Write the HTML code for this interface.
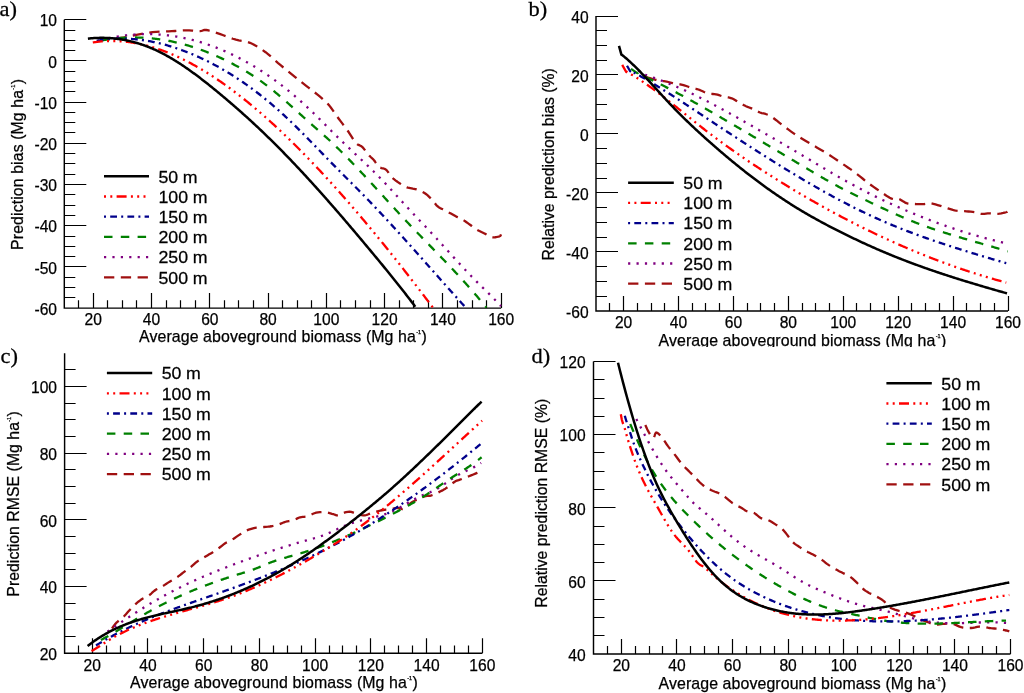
<!DOCTYPE html>
<html><head><meta charset="utf-8"><style>html,body{margin:0;padding:0;background:#fff;overflow:hidden}svg{display:block;will-change:transform}text{stroke:#000;stroke-width:0.25px}</style></head>
<body><svg width="1024" height="693" viewBox="0 0 1024 693" font-family='"Liberation Sans", sans-serif' fill="#000">
<rect width="1024" height="693" fill="#fff"/>
<path d="M64.3 19.7 V308.1 H501.20000000000005" fill="none" stroke="#000" stroke-width="1.45"/>
<path d="M64.3 297.50 h11 M64.3 287.50 h11 M64.3 277.50 h11 M64.3 266.50 h22 M64.3 256.50 h11 M64.3 246.50 h11 M64.3 236.50 h11 M64.3 225.50 h22 M64.3 215.50 h11 M64.3 205.50 h11 M64.3 194.50 h11 M64.3 184.50 h22 M64.3 174.50 h11 M64.3 163.50 h11 M64.3 153.50 h11 M64.3 143.50 h22 M64.3 132.50 h11 M64.3 122.50 h11 M64.3 112.50 h11 M64.3 102.50 h22 M64.3 91.50 h11 M64.3 81.50 h11 M64.3 71.50 h11 M64.3 60.50 h22 M64.3 50.50 h11 M64.3 40.50 h11 M64.3 30.50 h11 M64.3 19.50 h22 M78.50 308.1 v-7.8 M93.50 308.1 v-15 M107.50 308.1 v-7.8 M122.50 308.1 v-7.8 M136.50 308.1 v-7.8 M151.50 308.1 v-15 M166.50 308.1 v-7.8 M180.50 308.1 v-7.8 M195.50 308.1 v-7.8 M209.50 308.1 v-15 M224.50 308.1 v-7.8 M238.50 308.1 v-7.8 M253.50 308.1 v-7.8 M268.50 308.1 v-15 M282.50 308.1 v-7.8 M297.50 308.1 v-7.8 M311.50 308.1 v-7.8 M326.50 308.1 v-15 M340.50 308.1 v-7.8 M355.50 308.1 v-7.8 M370.50 308.1 v-7.8 M384.50 308.1 v-15 M399.50 308.1 v-7.8 M413.50 308.1 v-7.8 M428.50 308.1 v-7.8 M442.50 308.1 v-15 M457.50 308.1 v-7.8 M472.50 308.1 v-7.8 M486.50 308.1 v-7.8 M501.50 308.1 v-15" stroke="#000" stroke-width="1.2" fill="none"/>
<text transform="translate(57 26.48) scale(1.0 1)" text-anchor="end" font-size="15.6">10</text>
<text transform="translate(57 67.68) scale(1.0 1)" text-anchor="end" font-size="15.6">0</text>
<text transform="translate(57 108.88) scale(1.0 1)" text-anchor="end" font-size="15.6">-10</text>
<text transform="translate(57 150.08) scale(1.0 1)" text-anchor="end" font-size="15.6">-20</text>
<text transform="translate(57 191.28) scale(1.0 1)" text-anchor="end" font-size="15.6">-30</text>
<text transform="translate(57 232.48) scale(1.0 1)" text-anchor="end" font-size="15.6">-40</text>
<text transform="translate(57 273.68) scale(1.0 1)" text-anchor="end" font-size="15.6">-50</text>
<text transform="translate(57 314.88) scale(1.0 1)" text-anchor="end" font-size="15.6">-60</text>
<text transform="translate(93.24 325.38) scale(1.0 1)" text-anchor="middle" font-size="15.6">20</text>
<text transform="translate(151.52 325.38) scale(1.0 1)" text-anchor="middle" font-size="15.6">40</text>
<text transform="translate(209.80 325.38) scale(1.0 1)" text-anchor="middle" font-size="15.6">60</text>
<text transform="translate(268.08 325.38) scale(1.0 1)" text-anchor="middle" font-size="15.6">80</text>
<text transform="translate(326.36 325.38) scale(1.0 1)" text-anchor="middle" font-size="15.6">100</text>
<text transform="translate(384.64 325.38) scale(1.0 1)" text-anchor="middle" font-size="15.6">120</text>
<text transform="translate(442.92 325.38) scale(1.0 1)" text-anchor="middle" font-size="15.6">140</text>
<text transform="translate(501.20 325.38) scale(1.0 1)" text-anchor="middle" font-size="15.6">160</text>
<text transform="translate(139 342.3) scale(1.0 1)" font-size="15.9" letter-spacing="0.1">Average aboveground biomass (Mg ha<tspan font-size="5.5" dy="-8.2" dx="0.2">-1</tspan><tspan dy="8.2" dx="0.3">)</tspan></text>
<text transform="translate(23.1 249.89999999999998) rotate(-90)" font-size="15.8" letter-spacing="0.13">Prediction bias (Mg ha<tspan font-size="5.5" dy="-8.2" dx="0.2">-1</tspan><tspan dy="8.2" dx="0.3">)</tspan></text>
<path d="M104 176.30 H149" stroke="#000000" stroke-width="2.5"/>
<text transform="translate(158.5 182.53) scale(1.02 1)" font-size="17.4" word-spacing="-0.3">50 m</text>
<path d="M104 196.50 H149" stroke="#ff0000" stroke-width="2.3" stroke-dasharray="10 4.3 2 4.3 2 4.3 2 4.3" stroke-dashoffset="20.6"/>
<text transform="translate(158.5 202.73) scale(1.02 1)" font-size="17.4" word-spacing="-0.3">100 m</text>
<path d="M104 216.70 H149" stroke="#00008b" stroke-width="2.3" stroke-dasharray="6.8 4.2 2 4.2" stroke-dashoffset="11"/>
<text transform="translate(158.5 222.93) scale(1.02 1)" font-size="17.4" word-spacing="-0.3">150 m</text>
<path d="M104 236.90 H149" stroke="#008000" stroke-width="2.3" stroke-dasharray="8.5 8.3" stroke-dashoffset="0"/>
<text transform="translate(158.5 243.13) scale(1.02 1)" font-size="17.4" word-spacing="-0.3">200 m</text>
<path d="M104 257.10 H149" stroke="#800080" stroke-width="2.3" stroke-dasharray="2.2 6.2" stroke-dashoffset="0"/>
<text transform="translate(158.5 263.33) scale(1.02 1)" font-size="17.4" word-spacing="-0.3">250 m</text>
<path d="M104 277.30 H149" stroke="#a01010" stroke-width="2.3" stroke-dasharray="10.3 6.5" stroke-dashoffset="0"/>
<text transform="translate(158.5 283.53) scale(1.02 1)" font-size="17.4" word-spacing="-0.3">500 m</text>
<path d="M116.20 38.10 L117.50 37.99 L119.32 37.84 L121.47 37.66 L123.76 37.41 L126.00 37.10 L128.17 36.69 L130.40 36.20 L132.71 35.66 L135.14 35.12 L137.70 34.60 L140.37 34.09 L143.13 33.57 L146.03 33.05 L149.10 32.59 L152.40 32.20 L156.08 31.91 L160.10 31.69 L164.24 31.53 L168.25 31.37 L171.90 31.20 L175.11 30.99 L178.04 30.75 L180.80 30.53 L183.50 30.37 L186.25 30.30 L189.16 30.38 L192.15 30.59 L195.07 30.84 L197.74 31.03 L200.00 31.10 L201.61 30.92 L202.67 30.54 L203.55 30.15 L204.62 29.91 L206.25 30.00 L208.54 30.48 L211.23 31.24 L214.19 32.17 L217.27 33.19 L220.30 34.20 L223.34 35.26 L226.50 36.42 L229.69 37.61 L232.85 38.73 L235.90 39.70 L238.79 40.37 L241.58 40.81 L244.32 41.22 L247.11 41.82 L250.00 42.80 L253.07 44.25 L256.28 46.03 L259.51 48.03 L262.65 50.12 L265.60 52.20 L268.30 54.30 L270.82 56.49 L273.25 58.72 L275.65 60.94 L278.10 63.10 L280.60 65.19 L283.10 67.24 L285.60 69.26 L288.10 71.28 L290.60 73.30 L293.07 75.31 L295.52 77.30 L297.98 79.30 L300.50 81.32 L303.10 83.40 L305.90 85.59 L308.87 87.88 L311.85 90.18 L314.68 92.38 L317.20 94.40 L319.40 96.22 L321.39 97.90 L323.18 99.46 L324.80 100.92 L326.25 102.30 L327.43 103.47 L328.32 104.41 L329.09 105.32 L329.93 106.39 L331.00 107.80 L332.33 109.62 L333.81 111.71 L335.39 114.00 L337.05 116.37 L338.75 118.75 L340.54 121.16 L342.45 123.67 L344.39 126.23 L346.30 128.77 L348.10 131.25 L349.78 133.77 L351.40 136.38 L352.96 138.90 L354.46 141.16 L355.90 143.00 L357.26 144.22 L358.53 144.94 L359.76 145.44 L360.97 146.00 L362.20 146.90 L363.46 148.25 L364.72 149.85 L365.97 151.56 L367.20 153.22 L368.40 154.70 L369.57 155.93 L370.72 157.01 L371.85 158.02 L372.94 159.06 L374.00 160.20 L374.97 161.53 L375.85 162.99 L376.73 164.46 L377.67 165.80 L378.75 166.90 L380.04 167.61 L381.48 168.02 L382.98 168.33 L384.46 168.76 L385.80 169.50 L386.99 170.67 L388.10 172.13 L389.15 173.72 L390.19 175.26 L391.25 176.60 L392.29 177.67 L393.28 178.60 L394.29 179.45 L395.41 180.31 L396.70 181.25 L398.26 182.35 L400.02 183.56 L401.87 184.76 L403.68 185.84 L405.30 186.70 L406.71 187.27 L407.99 187.62 L409.20 187.85 L410.38 188.05 L411.60 188.30 L412.82 188.57 L414.01 188.79 L415.21 189.03 L416.46 189.34 L417.80 189.80 L419.27 190.39 L420.83 191.06 L422.44 191.84 L424.05 192.74 L425.60 193.75 L427.14 194.95 L428.69 196.34 L430.20 197.80 L431.62 199.26 L432.90 200.60 L433.96 201.85 L434.84 203.06 L435.65 204.22 L436.50 205.31 L437.50 206.30 L438.71 207.18 L440.04 207.96 L441.44 208.67 L442.81 209.34 L444.10 210.00 L445.27 210.62 L446.36 211.18 L447.44 211.72 L448.53 212.28 L449.70 212.90 L450.94 213.59 L452.22 214.32 L453.55 215.07 L454.91 215.84 L456.30 216.60 L457.76 217.34 L459.28 218.07 L460.82 218.82 L462.34 219.59 L463.80 220.40 L465.18 221.27 L466.50 222.18 L467.80 223.11 L469.09 224.06 L470.40 225.00 L471.71 225.96 L473.00 226.94 L474.30 227.91 L475.62 228.86 L477.00 229.75 L478.44 230.56 L479.94 231.32 L481.46 232.05 L482.99 232.77 L484.50 233.50 L486.00 234.33 L487.50 235.23 L489.00 236.09 L490.50 236.80 L492.00 237.25 L493.60 237.38 L495.29 237.25 L496.93 236.97 L498.38 236.63 L499.50 236.30 L500.21 235.95 L500.60 235.52 L500.80 235.07 L500.89 234.67 L501.00 234.40" fill="none" stroke="#a01010" stroke-width="2.3" stroke-dasharray="10.3 6.5" stroke-linejoin="round"/>
<path d="M108.40 38.29 L109.40 38.08 L110.40 37.87 L111.40 37.67 L112.40 37.47 L113.40 37.28 L114.40 37.09 L115.40 36.92 L116.40 36.74 L117.40 36.57 L118.40 36.41 L119.40 36.25 L120.40 36.10 L121.40 35.96 L122.40 35.82 L123.40 35.68 L124.40 35.55 L125.40 35.43 L126.40 35.31 L127.40 35.20 L128.40 35.09 L129.40 34.99 L130.40 34.90 L131.40 34.81 L132.40 34.72 L133.40 34.65 L134.40 34.57 L135.40 34.51 L136.40 34.44 L137.40 34.39 L138.40 34.34 L139.40 34.29 L140.40 34.25 L141.40 34.22 L142.40 34.19 L143.40 34.17 L144.40 34.15 L145.40 34.14 L146.40 34.14 L147.40 34.14 L148.40 34.14 L149.40 34.15 L150.40 34.17 L151.40 34.19 L152.40 34.22 L153.40 34.25 L154.40 34.29 L155.40 34.34 L156.40 34.39 L157.40 34.44 L158.40 34.51 L159.40 34.57 L160.40 34.65 L161.40 34.72 L162.40 34.81 L163.40 34.90 L164.40 34.99 L165.40 35.09 L166.40 35.20 L167.40 35.31 L168.40 35.43 L169.40 35.55 L170.40 35.68 L171.40 35.82 L172.40 35.96 L173.40 36.10 L174.40 36.25 L175.40 36.41 L176.40 36.57 L177.40 36.74 L178.40 36.92 L179.40 37.10 L180.40 37.28 L181.40 37.47 L182.40 37.67 L183.40 37.87 L184.40 38.08 L185.40 38.29 L186.40 38.51 L187.40 38.73 L188.40 38.96 L189.40 39.20 L190.40 39.44 L191.40 39.69 L192.40 39.94 L193.40 40.20 L194.40 40.46 L195.40 40.73 L196.40 41.01 L197.40 41.29 L198.40 41.57 L199.40 41.86 L200.40 42.16 L201.40 42.47 L202.40 42.77 L203.40 43.09 L204.40 43.41 L205.40 43.73 L206.40 44.06 L207.40 44.40 L208.40 44.74 L209.40 45.09 L210.40 45.44 L211.40 45.80 L212.40 46.17 L213.40 46.54 L214.40 46.92 L215.40 47.30 L216.40 47.68 L217.40 48.08 L218.40 48.48 L219.40 48.88 L220.40 49.29 L221.40 49.71 L222.40 50.13 L223.40 50.55 L224.40 50.99 L225.40 51.42 L226.40 51.87 L227.40 52.32 L228.40 52.77 L229.40 53.23 L230.40 53.70 L231.40 54.17 L232.40 54.65 L233.40 55.13 L234.40 55.62 L235.40 56.11 L236.40 56.61 L237.40 57.12 L238.40 57.63 L239.40 58.14 L240.40 58.67 L241.40 59.20 L242.40 59.73 L243.40 60.27 L244.40 60.82 L245.40 61.37 L246.40 61.92 L247.40 62.49 L248.40 63.06 L249.40 63.63 L250.40 64.21 L251.40 64.80 L252.40 65.39 L253.40 65.99 L254.40 66.59 L255.40 67.20 L256.40 67.82 L257.40 68.44 L258.40 69.07 L259.40 69.70 L260.40 70.34 L261.40 70.99 L262.40 71.64 L263.40 72.29 L264.40 72.96 L265.40 73.63 L266.40 74.30 L267.40 74.98 L268.40 75.67 L269.40 76.37 L270.40 77.07 L271.40 77.77 L272.40 78.48 L273.40 79.20 L274.40 79.92 L275.40 80.65 L276.40 81.39 L277.40 82.13 L278.40 82.88 L279.40 83.64 L280.40 84.40 L281.40 85.17 L282.40 85.94 L283.40 86.72 L284.40 87.50 L285.40 88.30 L286.40 89.10 L287.40 89.90 L288.40 90.71 L289.40 91.53 L290.40 92.35 L291.40 93.18 L292.40 94.02 L293.40 94.86 L294.40 95.71 L295.40 96.56 L296.40 97.42 L297.40 98.29 L298.40 99.16 L299.40 100.04 L300.40 100.93 L301.40 101.82 L302.40 102.72 L303.40 103.62 L304.40 104.53 L305.40 105.45 L306.40 106.37 L307.40 107.30 L308.40 108.24 L309.40 109.18 L310.40 110.12 L311.40 111.08 L312.40 112.04 L313.40 113.00 L314.40 113.97 L315.40 114.95 L316.40 115.93 L317.40 116.92 L318.40 117.91 L319.40 118.91 L320.40 119.90 L321.40 120.91 L322.40 121.91 L323.40 122.92 L324.40 123.92 L325.40 124.93 L326.40 125.94 L327.40 126.95 L328.40 127.96 L329.40 128.96 L330.40 129.97 L331.40 130.97 L332.40 131.97 L333.40 132.97 L334.40 133.97 L335.40 134.96 L336.40 135.95 L337.40 136.93 L338.40 137.91 L339.40 138.88 L340.40 139.85 L341.40 140.81 L342.40 141.78 L343.40 142.73 L344.40 143.69 L345.40 144.64 L346.40 145.59 L347.40 146.54 L348.40 147.49 L349.40 148.43 L350.40 149.38 L351.40 150.32 L352.40 151.26 L353.40 152.20 L354.40 153.14 L355.40 154.08 L356.40 155.02 L357.40 155.96 L358.40 156.90 L359.40 157.84 L360.40 158.79 L361.40 159.73 L362.40 160.68 L363.40 161.62 L364.40 162.57 L365.40 163.53 L366.40 164.48 L367.40 165.44 L368.40 166.40 L369.40 167.37 L370.40 168.33 L371.40 169.31 L372.40 170.28 L373.40 171.26 L374.40 172.25 L375.40 173.24 L376.40 174.24 L377.40 175.24 L378.40 176.25 L379.40 177.26 L380.40 178.28 L381.40 179.30 L382.40 180.34 L383.40 181.38 L384.40 182.43 L385.40 183.48 L386.40 184.54 L387.40 185.61 L388.40 186.68 L389.40 187.76 L390.40 188.85 L391.40 189.93 L392.40 191.03 L393.40 192.12 L394.40 193.22 L395.40 194.32 L396.40 195.42 L397.40 196.52 L398.40 197.63 L399.40 198.73 L400.40 199.83 L401.40 200.93 L402.40 202.03 L403.40 203.13 L404.40 204.23 L405.40 205.32 L406.40 206.41 L407.40 207.49 L408.40 208.57 L409.40 209.65 L410.40 210.72 L411.40 211.79 L412.40 212.85 L413.40 213.91 L414.40 214.97 L415.40 216.03 L416.40 217.08 L417.40 218.13 L418.40 219.19 L419.40 220.24 L420.40 221.29 L421.40 222.34 L422.40 223.39 L423.40 224.44 L424.40 225.49 L425.40 226.55 L426.40 227.60 L427.40 228.66 L428.40 229.72 L429.40 230.79 L430.40 231.85 L431.40 232.92 L432.40 234.00 L433.40 235.08 L434.40 236.16 L435.40 237.24 L436.40 238.33 L437.40 239.42 L438.40 240.51 L439.40 241.60 L440.40 242.70 L441.40 243.80 L442.40 244.90 L443.40 246.00 L444.40 247.10 L445.40 248.20 L446.40 249.30 L447.40 250.41 L448.40 251.51 L449.40 252.61 L450.40 253.71 L451.40 254.81 L452.40 255.91 L453.40 257.01 L454.40 258.11 L455.40 259.21 L456.40 260.30 L457.40 261.39 L458.40 262.48 L459.40 263.57 L460.40 264.65 L461.40 265.73 L462.40 266.81 L463.40 267.88 L464.40 268.95 L465.40 270.02 L466.40 271.08 L467.40 272.14 L468.40 273.19 L469.40 274.23 L470.40 275.28 L471.40 276.31 L472.40 277.34 L473.40 278.37 L474.40 279.38 L475.40 280.40 L476.40 281.40 L477.40 282.40 L478.40 283.39 L479.40 284.38 L480.40 285.36 L481.40 286.35 L482.40 287.32 L483.40 288.30 L484.40 289.28 L485.40 290.25 L486.40 291.23 L487.40 292.21 L488.40 293.19 L489.40 294.18 L490.40 295.17 L491.40 296.16 L492.40 297.16 L493.40 298.17 L494.40 299.19 L495.40 300.21 L496.40 301.24 L497.40 302.29 L498.40 303.34 L499.40 304.41 L500.40 305.49 L501.00 306.14" fill="none" stroke="#800080" stroke-width="2.3" stroke-dasharray="2.2 6.2" stroke-linejoin="round"/>
<path d="M101.60 40.53 L102.60 40.34 L103.60 40.16 L104.60 39.99 L105.60 39.82 L106.60 39.66 L107.60 39.51 L108.60 39.36 L109.60 39.21 L110.60 39.08 L111.60 38.94 L112.60 38.82 L113.60 38.70 L114.60 38.58 L115.60 38.47 L116.60 38.37 L117.60 38.27 L118.60 38.18 L119.60 38.10 L120.60 38.02 L121.60 37.94 L122.60 37.88 L123.60 37.81 L124.60 37.76 L125.60 37.70 L126.60 37.66 L127.60 37.62 L128.60 37.58 L129.60 37.56 L130.60 37.53 L131.60 37.52 L132.60 37.50 L133.60 37.50 L134.60 37.50 L135.60 37.50 L136.60 37.52 L137.60 37.53 L138.60 37.55 L139.60 37.58 L140.60 37.62 L141.60 37.66 L142.60 37.70 L143.60 37.75 L144.60 37.81 L145.60 37.87 L146.60 37.94 L147.60 38.01 L148.60 38.09 L149.60 38.17 L150.60 38.26 L151.60 38.35 L152.60 38.45 L153.60 38.56 L154.60 38.67 L155.60 38.79 L156.60 38.91 L157.60 39.04 L158.60 39.17 L159.60 39.31 L160.60 39.46 L161.60 39.61 L162.60 39.76 L163.60 39.92 L164.60 40.09 L165.60 40.26 L166.60 40.44 L167.60 40.62 L168.60 40.81 L169.60 41.00 L170.60 41.20 L171.60 41.41 L172.60 41.62 L173.60 41.83 L174.60 42.05 L175.60 42.28 L176.60 42.51 L177.60 42.75 L178.60 42.99 L179.60 43.24 L180.60 43.49 L181.60 43.75 L182.60 44.01 L183.60 44.28 L184.60 44.55 L185.60 44.83 L186.60 45.12 L187.60 45.41 L188.60 45.70 L189.60 46.00 L190.60 46.31 L191.60 46.62 L192.60 46.94 L193.60 47.26 L194.60 47.59 L195.60 47.92 L196.60 48.26 L197.60 48.60 L198.60 48.95 L199.60 49.30 L200.60 49.66 L201.60 50.02 L202.60 50.39 L203.60 50.76 L204.60 51.14 L205.60 51.53 L206.60 51.92 L207.60 52.31 L208.60 52.71 L209.60 53.12 L210.60 53.53 L211.60 53.94 L212.60 54.36 L213.60 54.79 L214.60 55.22 L215.60 55.65 L216.60 56.10 L217.60 56.54 L218.60 56.99 L219.60 57.45 L220.60 57.91 L221.60 58.38 L222.60 58.85 L223.60 59.32 L224.60 59.81 L225.60 60.29 L226.60 60.78 L227.60 61.28 L228.60 61.78 L229.60 62.29 L230.60 62.80 L231.60 63.32 L232.60 63.84 L233.60 64.37 L234.60 64.90 L235.60 65.44 L236.60 65.98 L237.60 66.52 L238.60 67.08 L239.60 67.64 L240.60 68.20 L241.60 68.77 L242.60 69.35 L243.60 69.93 L244.60 70.52 L245.60 71.11 L246.60 71.71 L247.60 72.32 L248.60 72.94 L249.60 73.56 L250.60 74.19 L251.60 74.83 L252.60 75.47 L253.60 76.12 L254.60 76.78 L255.60 77.45 L256.60 78.12 L257.60 78.81 L258.60 79.50 L259.60 80.20 L260.60 80.91 L261.60 81.63 L262.60 82.36 L263.60 83.09 L264.60 83.84 L265.60 84.59 L266.60 85.35 L267.60 86.12 L268.60 86.90 L269.60 87.69 L270.60 88.48 L271.60 89.28 L272.60 90.09 L273.60 90.90 L274.60 91.72 L275.60 92.55 L276.60 93.38 L277.60 94.22 L278.60 95.06 L279.60 95.91 L280.60 96.76 L281.60 97.62 L282.60 98.49 L283.60 99.35 L284.60 100.23 L285.60 101.10 L286.60 101.98 L287.60 102.86 L288.60 103.75 L289.60 104.64 L290.60 105.53 L291.60 106.42 L292.60 107.32 L293.60 108.22 L294.60 109.12 L295.60 110.02 L296.60 110.92 L297.60 111.82 L298.60 112.73 L299.60 113.63 L300.60 114.53 L301.60 115.44 L302.60 116.34 L303.60 117.25 L304.60 118.15 L305.60 119.05 L306.60 119.95 L307.60 120.85 L308.60 121.75 L309.60 122.64 L310.60 123.54 L311.60 124.43 L312.60 125.32 L313.60 126.20 L314.60 127.08 L315.60 127.96 L316.60 128.84 L317.60 129.72 L318.60 130.59 L319.60 131.47 L320.60 132.35 L321.60 133.23 L322.60 134.11 L323.60 135.00 L324.60 135.89 L325.60 136.79 L326.60 137.69 L327.60 138.60 L328.60 139.52 L329.60 140.44 L330.60 141.37 L331.60 142.31 L332.60 143.25 L333.60 144.20 L334.60 145.15 L335.60 146.11 L336.60 147.08 L337.60 148.05 L338.60 149.02 L339.60 150.01 L340.60 150.99 L341.60 151.98 L342.60 152.98 L343.60 153.98 L344.60 154.99 L345.60 156.00 L346.60 157.01 L347.60 158.03 L348.60 159.05 L349.60 160.08 L350.60 161.11 L351.60 162.15 L352.60 163.19 L353.60 164.23 L354.60 165.28 L355.60 166.32 L356.60 167.38 L357.60 168.43 L358.60 169.49 L359.60 170.55 L360.60 171.62 L361.60 172.68 L362.60 173.75 L363.60 174.82 L364.60 175.90 L365.60 176.97 L366.60 178.05 L367.60 179.13 L368.60 180.21 L369.60 181.30 L370.60 182.38 L371.60 183.47 L372.60 184.56 L373.60 185.65 L374.60 186.74 L375.60 187.83 L376.60 188.92 L377.60 190.01 L378.60 191.10 L379.60 192.20 L380.60 193.29 L381.60 194.39 L382.60 195.48 L383.60 196.58 L384.60 197.67 L385.60 198.76 L386.60 199.86 L387.60 200.95 L388.60 202.04 L389.60 203.13 L390.60 204.22 L391.60 205.31 L392.60 206.40 L393.60 207.49 L394.60 208.58 L395.60 209.66 L396.60 210.75 L397.60 211.83 L398.60 212.91 L399.60 213.98 L400.60 215.06 L401.60 216.13 L402.60 217.21 L403.60 218.27 L404.60 219.34 L405.60 220.40 L406.60 221.47 L407.60 222.52 L408.60 223.58 L409.60 224.63 L410.60 225.68 L411.60 226.73 L412.60 227.78 L413.60 228.82 L414.60 229.86 L415.60 230.90 L416.60 231.94 L417.60 232.97 L418.60 234.01 L419.60 235.04 L420.60 236.07 L421.60 237.11 L422.60 238.14 L423.60 239.17 L424.60 240.19 L425.60 241.22 L426.60 242.25 L427.60 243.28 L428.60 244.30 L429.60 245.33 L430.60 246.36 L431.60 247.39 L432.60 248.41 L433.60 249.44 L434.60 250.47 L435.60 251.50 L436.60 252.53 L437.60 253.56 L438.60 254.59 L439.60 255.62 L440.60 256.66 L441.60 257.69 L442.60 258.73 L443.60 259.77 L444.60 260.81 L445.60 261.85 L446.60 262.90 L447.60 263.95 L448.60 265.00 L449.60 266.05 L450.60 267.10 L451.60 268.16 L452.60 269.22 L453.60 270.28 L454.60 271.35 L455.60 272.42 L456.60 273.49 L457.60 274.57 L458.60 275.65 L459.60 276.73 L460.60 277.82 L461.60 278.91 L462.60 280.01 L463.60 281.11 L464.60 282.21 L465.60 283.32 L466.60 284.43 L467.60 285.55 L468.60 286.67 L469.60 287.80 L470.60 288.94 L471.60 290.07 L472.60 291.22 L473.60 292.37 L474.60 293.52 L475.60 294.68 L476.60 295.85 L477.60 297.02 L478.60 298.20 L479.60 299.39 L480.60 300.58 L481.60 301.78 L482.60 302.98 L483.60 304.19 L484.60 305.41 L485.60 306.64 L486.40 307.62" fill="none" stroke="#008000" stroke-width="2.3" stroke-dasharray="8.5 8.3" stroke-linejoin="round"/>
<path d="M96.70 40.82 L97.70 40.64 L98.70 40.47 L99.70 40.31 L100.70 40.16 L101.70 40.01 L102.70 39.87 L103.70 39.74 L104.70 39.62 L105.70 39.50 L106.70 39.39 L107.70 39.29 L108.70 39.19 L109.70 39.10 L110.70 39.02 L111.70 38.95 L112.70 38.88 L113.70 38.83 L114.70 38.77 L115.70 38.73 L116.70 38.69 L117.70 38.66 L118.70 38.64 L119.70 38.62 L120.70 38.61 L121.70 38.61 L122.70 38.61 L123.70 38.63 L124.70 38.64 L125.70 38.67 L126.70 38.70 L127.70 38.74 L128.70 38.78 L129.70 38.84 L130.70 38.90 L131.70 38.96 L132.70 39.03 L133.70 39.11 L134.70 39.20 L135.70 39.29 L136.70 39.39 L137.70 39.49 L138.70 39.60 L139.70 39.72 L140.70 39.84 L141.70 39.97 L142.70 40.11 L143.70 40.25 L144.70 40.40 L145.70 40.56 L146.70 40.72 L147.70 40.89 L148.70 41.06 L149.70 41.24 L150.70 41.43 L151.70 41.62 L152.70 41.82 L153.70 42.03 L154.70 42.24 L155.70 42.45 L156.70 42.68 L157.70 42.91 L158.70 43.14 L159.70 43.38 L160.70 43.63 L161.70 43.88 L162.70 44.14 L163.70 44.40 L164.70 44.67 L165.70 44.95 L166.70 45.23 L167.70 45.51 L168.70 45.80 L169.70 46.10 L170.70 46.40 L171.70 46.71 L172.70 47.03 L173.70 47.35 L174.70 47.67 L175.70 48.00 L176.70 48.34 L177.70 48.68 L178.70 49.03 L179.70 49.38 L180.70 49.74 L181.70 50.10 L182.70 50.47 L183.70 50.84 L184.70 51.22 L185.70 51.60 L186.70 51.99 L187.70 52.38 L188.70 52.78 L189.70 53.18 L190.70 53.59 L191.70 54.00 L192.70 54.42 L193.70 54.85 L194.70 55.28 L195.70 55.71 L196.70 56.15 L197.70 56.59 L198.70 57.04 L199.70 57.50 L200.70 57.96 L201.70 58.42 L202.70 58.89 L203.70 59.37 L204.70 59.85 L205.70 60.33 L206.70 60.83 L207.70 61.32 L208.70 61.82 L209.70 62.33 L210.70 62.84 L211.70 63.36 L212.70 63.88 L213.70 64.41 L214.70 64.94 L215.70 65.48 L216.70 66.02 L217.70 66.57 L218.70 67.13 L219.70 67.69 L220.70 68.25 L221.70 68.82 L222.70 69.40 L223.70 69.98 L224.70 70.57 L225.70 71.16 L226.70 71.75 L227.70 72.36 L228.70 72.96 L229.70 73.58 L230.70 74.20 L231.70 74.82 L232.70 75.45 L233.70 76.08 L234.70 76.73 L235.70 77.37 L236.70 78.02 L237.70 78.68 L238.70 79.34 L239.70 80.01 L240.70 80.68 L241.70 81.36 L242.70 82.05 L243.70 82.74 L244.70 83.43 L245.70 84.13 L246.70 84.84 L247.70 85.55 L248.70 86.27 L249.70 86.99 L250.70 87.72 L251.70 88.45 L252.70 89.19 L253.70 89.94 L254.70 90.69 L255.70 91.45 L256.70 92.21 L257.70 92.98 L258.70 93.75 L259.70 94.53 L260.70 95.32 L261.70 96.11 L262.70 96.90 L263.70 97.71 L264.70 98.51 L265.70 99.33 L266.70 100.15 L267.70 100.97 L268.70 101.80 L269.70 102.64 L270.70 103.48 L271.70 104.33 L272.70 105.18 L273.70 106.04 L274.70 106.91 L275.70 107.78 L276.70 108.66 L277.70 109.54 L278.70 110.43 L279.70 111.32 L280.70 112.22 L281.70 113.13 L282.70 114.04 L283.70 114.96 L284.70 115.88 L285.70 116.81 L286.70 117.74 L287.70 118.68 L288.70 119.63 L289.70 120.58 L290.70 121.54 L291.70 122.50 L292.70 123.47 L293.70 124.44 L294.70 125.42 L295.70 126.40 L296.70 127.38 L297.70 128.37 L298.70 129.36 L299.70 130.36 L300.70 131.36 L301.70 132.36 L302.70 133.36 L303.70 134.37 L304.70 135.38 L305.70 136.40 L306.70 137.41 L307.70 138.43 L308.70 139.45 L309.70 140.48 L310.70 141.50 L311.70 142.53 L312.70 143.55 L313.70 144.58 L314.70 145.61 L315.70 146.64 L316.70 147.67 L317.70 148.71 L318.70 149.74 L319.70 150.77 L320.70 151.80 L321.70 152.83 L322.70 153.87 L323.70 154.90 L324.70 155.93 L325.70 156.96 L326.70 157.99 L327.70 159.01 L328.70 160.04 L329.70 161.07 L330.70 162.09 L331.70 163.11 L332.70 164.13 L333.70 165.15 L334.70 166.16 L335.70 167.17 L336.70 168.19 L337.70 169.20 L338.70 170.20 L339.70 171.21 L340.70 172.22 L341.70 173.22 L342.70 174.23 L343.70 175.23 L344.70 176.23 L345.70 177.24 L346.70 178.24 L347.70 179.24 L348.70 180.24 L349.70 181.25 L350.70 182.25 L351.70 183.25 L352.70 184.26 L353.70 185.26 L354.70 186.27 L355.70 187.28 L356.70 188.28 L357.70 189.29 L358.70 190.31 L359.70 191.32 L360.70 192.33 L361.70 193.35 L362.70 194.37 L363.70 195.39 L364.70 196.41 L365.70 197.44 L366.70 198.47 L367.70 199.50 L368.70 200.53 L369.70 201.57 L370.70 202.61 L371.70 203.65 L372.70 204.70 L373.70 205.75 L374.70 206.80 L375.70 207.85 L376.70 208.91 L377.70 209.96 L378.70 211.02 L379.70 212.09 L380.70 213.15 L381.70 214.22 L382.70 215.29 L383.70 216.36 L384.70 217.44 L385.70 218.51 L386.70 219.59 L387.70 220.67 L388.70 221.75 L389.70 222.84 L390.70 223.92 L391.70 225.01 L392.70 226.10 L393.70 227.19 L394.70 228.28 L395.70 229.38 L396.70 230.47 L397.70 231.57 L398.70 232.67 L399.70 233.77 L400.70 234.88 L401.70 235.98 L402.70 237.09 L403.70 238.19 L404.70 239.30 L405.70 240.41 L406.70 241.52 L407.70 242.63 L408.70 243.74 L409.70 244.86 L410.70 245.97 L411.70 247.09 L412.70 248.20 L413.70 249.32 L414.70 250.44 L415.70 251.56 L416.70 252.68 L417.70 253.80 L418.70 254.92 L419.70 256.04 L420.70 257.17 L421.70 258.29 L422.70 259.41 L423.70 260.54 L424.70 261.66 L425.70 262.79 L426.70 263.91 L427.70 265.04 L428.70 266.16 L429.70 267.29 L430.70 268.42 L431.70 269.54 L432.70 270.67 L433.70 271.79 L434.70 272.92 L435.70 274.05 L436.70 275.17 L437.70 276.30 L438.70 277.43 L439.70 278.55 L440.70 279.68 L441.70 280.80 L442.70 281.93 L443.70 283.05 L444.70 284.17 L445.70 285.30 L446.70 286.42 L447.70 287.54 L448.70 288.66 L449.70 289.79 L450.70 290.91 L451.70 292.03 L452.70 293.14 L453.70 294.26 L454.70 295.38 L455.70 296.50 L456.70 297.61 L457.70 298.72 L458.70 299.84 L459.70 300.95 L460.70 302.06 L461.70 303.17 L462.70 304.28 L463.70 305.39 L464.70 306.49 L464.80 306.60" fill="none" stroke="#00008b" stroke-width="2.3" stroke-dasharray="6.8 4.2 2 4.2" stroke-linejoin="round"/>
<path d="M92.80 42.45 L93.80 42.30 L94.80 42.15 L95.80 42.02 L96.80 41.89 L97.80 41.77 L98.80 41.66 L99.80 41.56 L100.80 41.47 L101.80 41.38 L102.80 41.30 L103.80 41.23 L104.80 41.17 L105.80 41.12 L106.80 41.08 L107.80 41.04 L108.80 41.01 L109.80 40.99 L110.80 40.98 L111.80 40.98 L112.80 40.98 L113.80 40.99 L114.80 41.01 L115.80 41.04 L116.80 41.07 L117.80 41.12 L118.80 41.17 L119.80 41.23 L120.80 41.29 L121.80 41.37 L122.80 41.45 L123.80 41.54 L124.80 41.64 L125.80 41.74 L126.80 41.85 L127.80 41.97 L128.80 42.10 L129.80 42.23 L130.80 42.38 L131.80 42.53 L132.80 42.68 L133.80 42.85 L134.80 43.02 L135.80 43.20 L136.80 43.38 L137.80 43.58 L138.80 43.78 L139.80 43.98 L140.80 44.20 L141.80 44.42 L142.80 44.65 L143.80 44.89 L144.80 45.13 L145.80 45.38 L146.80 45.64 L147.80 45.90 L148.80 46.17 L149.80 46.45 L150.80 46.73 L151.80 47.02 L152.80 47.32 L153.80 47.62 L154.80 47.94 L155.80 48.25 L156.80 48.58 L157.80 48.91 L158.80 49.25 L159.80 49.59 L160.80 49.94 L161.80 50.30 L162.80 50.66 L163.80 51.03 L164.80 51.41 L165.80 51.79 L166.80 52.18 L167.80 52.58 L168.80 52.98 L169.80 53.39 L170.80 53.80 L171.80 54.22 L172.80 54.65 L173.80 55.08 L174.80 55.52 L175.80 55.96 L176.80 56.41 L177.80 56.87 L178.80 57.33 L179.80 57.80 L180.80 58.28 L181.80 58.76 L182.80 59.24 L183.80 59.73 L184.80 60.23 L185.80 60.74 L186.80 61.25 L187.80 61.76 L188.80 62.28 L189.80 62.81 L190.80 63.34 L191.80 63.88 L192.80 64.42 L193.80 64.97 L194.80 65.52 L195.80 66.09 L196.80 66.65 L197.80 67.22 L198.80 67.80 L199.80 68.38 L200.80 68.97 L201.80 69.56 L202.80 70.16 L203.80 70.76 L204.80 71.37 L205.80 71.98 L206.80 72.60 L207.80 73.23 L208.80 73.86 L209.80 74.49 L210.80 75.13 L211.80 75.78 L212.80 76.43 L213.80 77.08 L214.80 77.74 L215.80 78.41 L216.80 79.08 L217.80 79.75 L218.80 80.43 L219.80 81.12 L220.80 81.81 L221.80 82.50 L222.80 83.20 L223.80 83.91 L224.80 84.62 L225.80 85.33 L226.80 86.05 L227.80 86.77 L228.80 87.50 L229.80 88.23 L230.80 88.97 L231.80 89.71 L232.80 90.46 L233.80 91.21 L234.80 91.96 L235.80 92.72 L236.80 93.49 L237.80 94.26 L238.80 95.03 L239.80 95.81 L240.80 96.59 L241.80 97.38 L242.80 98.17 L243.80 98.96 L244.80 99.76 L245.80 100.56 L246.80 101.37 L247.80 102.18 L248.80 103.00 L249.80 103.82 L250.80 104.64 L251.80 105.47 L252.80 106.31 L253.80 107.14 L254.80 107.98 L255.80 108.83 L256.80 109.68 L257.80 110.53 L258.80 111.39 L259.80 112.25 L260.80 113.11 L261.80 113.98 L262.80 114.85 L263.80 115.73 L264.80 116.61 L265.80 117.50 L266.80 118.39 L267.80 119.28 L268.80 120.17 L269.80 121.07 L270.80 121.98 L271.80 122.89 L272.80 123.80 L273.80 124.71 L274.80 125.63 L275.80 126.55 L276.80 127.48 L277.80 128.41 L278.80 129.34 L279.80 130.28 L280.80 131.22 L281.80 132.17 L282.80 133.12 L283.80 134.07 L284.80 135.02 L285.80 135.98 L286.80 136.94 L287.80 137.91 L288.80 138.88 L289.80 139.85 L290.80 140.83 L291.80 141.81 L292.80 142.79 L293.80 143.78 L294.80 144.77 L295.80 145.76 L296.80 146.76 L297.80 147.76 L298.80 148.76 L299.80 149.77 L300.80 150.78 L301.80 151.79 L302.80 152.81 L303.80 153.83 L304.80 154.85 L305.80 155.88 L306.80 156.91 L307.80 157.94 L308.80 158.98 L309.80 160.02 L310.80 161.06 L311.80 162.10 L312.80 163.15 L313.80 164.20 L314.80 165.26 L315.80 166.31 L316.80 167.37 L317.80 168.44 L318.80 169.50 L319.80 170.57 L320.80 171.64 L321.80 172.72 L322.80 173.80 L323.80 174.88 L324.80 175.96 L325.80 177.05 L326.80 178.14 L327.80 179.23 L328.80 180.33 L329.80 181.42 L330.80 182.52 L331.80 183.63 L332.80 184.73 L333.80 185.84 L334.80 186.95 L335.80 188.07 L336.80 189.19 L337.80 190.31 L338.80 191.43 L339.80 192.55 L340.80 193.68 L341.80 194.81 L342.80 195.94 L343.80 197.08 L344.80 198.22 L345.80 199.36 L346.80 200.50 L347.80 201.65 L348.80 202.80 L349.80 203.95 L350.80 205.10 L351.80 206.26 L352.80 207.42 L353.80 208.58 L354.80 209.74 L355.80 210.91 L356.80 212.08 L357.80 213.25 L358.80 214.43 L359.80 215.60 L360.80 216.78 L361.80 217.96 L362.80 219.15 L363.80 220.33 L364.80 221.52 L365.80 222.71 L366.80 223.91 L367.80 225.10 L368.80 226.30 L369.80 227.50 L370.80 228.70 L371.80 229.91 L372.80 231.12 L373.80 232.33 L374.80 233.54 L375.80 234.75 L376.80 235.97 L377.80 237.19 L378.80 238.41 L379.80 239.63 L380.80 240.86 L381.80 242.09 L382.80 243.32 L383.80 244.55 L384.80 245.78 L385.80 247.02 L386.80 248.26 L387.80 249.50 L388.80 250.75 L389.80 251.99 L390.80 253.24 L391.80 254.49 L392.80 255.74 L393.80 257.00 L394.80 258.25 L395.80 259.51 L396.80 260.77 L397.80 262.03 L398.80 263.30 L399.80 264.57 L400.80 265.84 L401.80 267.11 L402.80 268.38 L403.80 269.65 L404.80 270.93 L405.80 272.21 L406.80 273.49 L407.80 274.78 L408.80 276.06 L409.80 277.35 L410.80 278.64 L411.80 279.93 L412.80 281.22 L413.80 282.52 L414.80 283.81 L415.80 285.11 L416.80 286.41 L417.80 287.71 L418.80 289.02 L419.80 290.33 L420.80 291.63 L421.80 292.94 L422.80 294.26 L423.80 295.57 L424.80 296.89 L425.80 298.20 L426.80 299.52 L427.80 300.84 L428.80 302.17 L429.80 303.49 L430.80 304.82 L431.80 306.15 L432.80 307.48 L432.90 307.61" fill="none" stroke="#ff0000" stroke-width="2.3" stroke-dasharray="10 4.3 2 4.3 2 4.3 2 4.3" stroke-linejoin="round"/>
<path d="M87.90 38.65 L88.90 38.54 L89.90 38.43 L90.90 38.34 L91.90 38.25 L92.90 38.18 L93.90 38.11 L94.90 38.05 L95.90 37.99 L96.90 37.95 L97.90 37.91 L98.90 37.88 L99.90 37.86 L100.90 37.85 L101.90 37.85 L102.90 37.85 L103.90 37.86 L104.90 37.88 L105.90 37.91 L106.90 37.95 L107.90 38.00 L108.90 38.05 L109.90 38.11 L110.90 38.18 L111.90 38.26 L112.90 38.35 L113.90 38.44 L114.90 38.55 L115.90 38.66 L116.90 38.78 L117.90 38.91 L118.90 39.05 L119.90 39.19 L120.90 39.35 L121.90 39.51 L122.90 39.68 L123.90 39.86 L124.90 40.05 L125.90 40.25 L126.90 40.45 L127.90 40.67 L128.90 40.89 L129.90 41.12 L130.90 41.36 L131.90 41.61 L132.90 41.87 L133.90 42.13 L134.90 42.41 L135.90 42.69 L136.90 42.98 L137.90 43.28 L138.90 43.59 L139.90 43.91 L140.90 44.23 L141.90 44.57 L142.90 44.91 L143.90 45.27 L144.90 45.63 L145.90 46.00 L146.90 46.38 L147.90 46.76 L148.90 47.16 L149.90 47.56 L150.90 47.98 L151.90 48.40 L152.90 48.83 L153.90 49.27 L154.90 49.72 L155.90 50.18 L156.90 50.65 L157.90 51.13 L158.90 51.61 L159.90 52.10 L160.90 52.61 L161.90 53.12 L162.90 53.64 L163.90 54.16 L164.90 54.70 L165.90 55.24 L166.90 55.80 L167.90 56.36 L168.90 56.92 L169.90 57.50 L170.90 58.08 L171.90 58.67 L172.90 59.27 L173.90 59.88 L174.90 60.49 L175.90 61.11 L176.90 61.74 L177.90 62.37 L178.90 63.01 L179.90 63.66 L180.90 64.31 L181.90 64.97 L182.90 65.64 L183.90 66.31 L184.90 66.99 L185.90 67.68 L186.90 68.37 L187.90 69.07 L188.90 69.77 L189.90 70.48 L190.90 71.19 L191.90 71.91 L192.90 72.64 L193.90 73.37 L194.90 74.10 L195.90 74.84 L196.90 75.59 L197.90 76.34 L198.90 77.09 L199.90 77.85 L200.90 78.62 L201.90 79.39 L202.90 80.16 L203.90 80.94 L204.90 81.72 L205.90 82.51 L206.90 83.30 L207.90 84.09 L208.90 84.89 L209.90 85.69 L210.90 86.49 L211.90 87.30 L212.90 88.11 L213.90 88.93 L214.90 89.74 L215.90 90.56 L216.90 91.39 L217.90 92.21 L218.90 93.04 L219.90 93.87 L220.90 94.71 L221.90 95.55 L222.90 96.38 L223.90 97.23 L224.90 98.07 L225.90 98.92 L226.90 99.76 L227.90 100.62 L228.90 101.47 L229.90 102.32 L230.90 103.18 L231.90 104.04 L232.90 104.91 L233.90 105.77 L234.90 106.64 L235.90 107.52 L236.90 108.39 L237.90 109.27 L238.90 110.15 L239.90 111.03 L240.90 111.92 L241.90 112.80 L242.90 113.70 L243.90 114.59 L244.90 115.49 L245.90 116.39 L246.90 117.29 L247.90 118.20 L248.90 119.11 L249.90 120.02 L250.90 120.94 L251.90 121.86 L252.90 122.78 L253.90 123.71 L254.90 124.63 L255.90 125.57 L256.90 126.50 L257.90 127.44 L258.90 128.38 L259.90 129.33 L260.90 130.28 L261.90 131.23 L262.90 132.19 L263.90 133.15 L264.90 134.11 L265.90 135.07 L266.90 136.04 L267.90 137.02 L268.90 137.99 L269.90 138.97 L270.90 139.95 L271.90 140.94 L272.90 141.93 L273.90 142.92 L274.90 143.91 L275.90 144.91 L276.90 145.91 L277.90 146.91 L278.90 147.92 L279.90 148.93 L280.90 149.94 L281.90 150.96 L282.90 151.98 L283.90 153.00 L284.90 154.03 L285.90 155.05 L286.90 156.09 L287.90 157.12 L288.90 158.16 L289.90 159.20 L290.90 160.24 L291.90 161.28 L292.90 162.33 L293.90 163.38 L294.90 164.44 L295.90 165.49 L296.90 166.55 L297.90 167.61 L298.90 168.68 L299.90 169.75 L300.90 170.82 L301.90 171.89 L302.90 172.97 L303.90 174.04 L304.90 175.13 L305.90 176.21 L306.90 177.30 L307.90 178.38 L308.90 179.48 L309.90 180.57 L310.90 181.67 L311.90 182.77 L312.90 183.87 L313.90 184.97 L314.90 186.08 L315.90 187.19 L316.90 188.30 L317.90 189.41 L318.90 190.53 L319.90 191.65 L320.90 192.77 L321.90 193.89 L322.90 195.01 L323.90 196.14 L324.90 197.27 L325.90 198.40 L326.90 199.54 L327.90 200.67 L328.90 201.81 L329.90 202.95 L330.90 204.09 L331.90 205.24 L332.90 206.38 L333.90 207.53 L334.90 208.68 L335.90 209.83 L336.90 210.98 L337.90 212.14 L338.90 213.30 L339.90 214.46 L340.90 215.62 L341.90 216.78 L342.90 217.94 L343.90 219.11 L344.90 220.28 L345.90 221.45 L346.90 222.62 L347.90 223.79 L348.90 224.96 L349.90 226.14 L350.90 227.32 L351.90 228.49 L352.90 229.67 L353.90 230.85 L354.90 232.04 L355.90 233.22 L356.90 234.41 L357.90 235.59 L358.90 236.78 L359.90 237.97 L360.90 239.16 L361.90 240.35 L362.90 241.54 L363.90 242.74 L364.90 243.93 L365.90 245.13 L366.90 246.33 L367.90 247.52 L368.90 248.72 L369.90 249.92 L370.90 251.13 L371.90 252.33 L372.90 253.53 L373.90 254.74 L374.90 255.94 L375.90 257.15 L376.90 258.36 L377.90 259.57 L378.90 260.78 L379.90 261.99 L380.90 263.21 L381.90 264.42 L382.90 265.64 L383.90 266.86 L384.90 268.09 L385.90 269.31 L386.90 270.54 L387.90 271.77 L388.90 273.00 L389.90 274.24 L390.90 275.47 L391.90 276.71 L392.90 277.96 L393.90 279.20 L394.90 280.45 L395.90 281.70 L396.90 282.95 L397.90 284.21 L398.90 285.47 L399.90 286.73 L400.90 288.00 L401.90 289.27 L402.90 290.55 L403.90 291.82 L404.90 293.10 L405.90 294.39 L406.90 295.68 L407.90 296.97 L408.90 298.27 L409.90 299.57 L410.90 300.87 L411.90 302.18 L412.90 303.50 L413.90 304.81 L414.90 306.14 L415.30 306.67" fill="none" stroke="#000000" stroke-width="2.5" stroke-linejoin="round"/>
<text transform="translate(-0.5 15.8) scale(1.07 1)" font-family='"Liberation Serif", serif' font-size="21" stroke="#000" stroke-width="0.2">a)</text>
<path d="M596 16.0 V310.9 H1008.0" fill="none" stroke="#000" stroke-width="1.45"/>
<path d="M596 296.50 h11 M596 281.50 h11 M596 266.50 h11 M596 251.50 h22 M596 237.50 h11 M596 222.50 h11 M596 207.50 h11 M596 192.50 h22 M596 178.50 h11 M596 163.50 h11 M596 148.50 h11 M596 133.50 h22 M596 119.50 h11 M596 104.50 h11 M596 89.50 h11 M596 74.50 h22 M596 60.50 h11 M596 45.50 h11 M596 30.50 h11 M596 16.50 h22 M609.50 310.9 v-7.8 M623.50 310.9 v-15 M637.50 310.9 v-7.8 M651.50 310.9 v-7.8 M664.50 310.9 v-7.8 M678.50 310.9 v-15 M692.50 310.9 v-7.8 M705.50 310.9 v-7.8 M719.50 310.9 v-7.8 M733.50 310.9 v-15 M747.50 310.9 v-7.8 M760.50 310.9 v-7.8 M774.50 310.9 v-7.8 M788.50 310.9 v-15 M802.50 310.9 v-7.8 M815.50 310.9 v-7.8 M829.50 310.9 v-7.8 M843.50 310.9 v-15 M856.50 310.9 v-7.8 M870.50 310.9 v-7.8 M884.50 310.9 v-7.8 M898.50 310.9 v-15 M911.50 310.9 v-7.8 M925.50 310.9 v-7.8 M939.50 310.9 v-7.8 M953.50 310.9 v-15 M966.50 310.9 v-7.8 M980.50 310.9 v-7.8 M994.50 310.9 v-7.8 M1008.50 310.9 v-15" stroke="#000" stroke-width="1.2" fill="none"/>
<text transform="translate(588.6 22.78) scale(1.0 1)" text-anchor="end" font-size="15.6">40</text>
<text transform="translate(588.6 81.76) scale(1.0 1)" text-anchor="end" font-size="15.6">20</text>
<text transform="translate(588.6 140.74) scale(1.0 1)" text-anchor="end" font-size="15.6">0</text>
<text transform="translate(588.6 199.72) scale(1.0 1)" text-anchor="end" font-size="15.6">-20</text>
<text transform="translate(588.6 258.70) scale(1.0 1)" text-anchor="end" font-size="15.6">-40</text>
<text transform="translate(588.6 317.68) scale(1.0 1)" text-anchor="end" font-size="15.6">-60</text>
<text transform="translate(623.56 327.58) scale(1.0 1)" text-anchor="middle" font-size="15.6">20</text>
<text transform="translate(678.48 327.58) scale(1.0 1)" text-anchor="middle" font-size="15.6">40</text>
<text transform="translate(733.40 327.58) scale(1.0 1)" text-anchor="middle" font-size="15.6">60</text>
<text transform="translate(788.32 327.58) scale(1.0 1)" text-anchor="middle" font-size="15.6">80</text>
<text transform="translate(843.24 327.58) scale(1.0 1)" text-anchor="middle" font-size="15.6">100</text>
<text transform="translate(898.16 327.58) scale(1.0 1)" text-anchor="middle" font-size="15.6">120</text>
<text transform="translate(953.08 327.58) scale(1.0 1)" text-anchor="middle" font-size="15.6">140</text>
<text transform="translate(1008.00 327.58) scale(1.0 1)" text-anchor="middle" font-size="15.6">160</text>
<text transform="translate(658.5 346.0) scale(1.0 1)" font-size="15.9" letter-spacing="0.1">Average aboveground biomass (Mg ha<tspan font-size="5.5" dy="-8.2" dx="0.2">-1</tspan><tspan dy="8.2" dx="0.3">)</tspan></text>
<text transform="translate(553.7 260.5) rotate(-90)" font-size="15.8" letter-spacing="0">Relative prediction bias (%)</text>
<path d="M628.1 182.70 H673.8" stroke="#000000" stroke-width="2.5"/>
<text transform="translate(683.3 188.93) scale(1.02 1)" font-size="17.4" word-spacing="-0.3">50 m</text>
<path d="M628.1 202.90 H673.8" stroke="#ff0000" stroke-width="2.3" stroke-dasharray="10 4.3 2 4.3 2 4.3 2 4.3" stroke-dashoffset="20.6"/>
<text transform="translate(683.3 209.13) scale(1.02 1)" font-size="17.4" word-spacing="-0.3">100 m</text>
<path d="M628.1 223.10 H673.8" stroke="#00008b" stroke-width="2.3" stroke-dasharray="6.8 4.2 2 4.2" stroke-dashoffset="11"/>
<text transform="translate(683.3 229.33) scale(1.02 1)" font-size="17.4" word-spacing="-0.3">150 m</text>
<path d="M628.1 243.30 H673.8" stroke="#008000" stroke-width="2.3" stroke-dasharray="8.5 8.3" stroke-dashoffset="0"/>
<text transform="translate(683.3 249.53) scale(1.02 1)" font-size="17.4" word-spacing="-0.3">200 m</text>
<path d="M628.1 263.50 H673.8" stroke="#800080" stroke-width="2.3" stroke-dasharray="2.2 6.2" stroke-dashoffset="0"/>
<text transform="translate(683.3 269.73) scale(1.02 1)" font-size="17.4" word-spacing="-0.3">250 m</text>
<path d="M628.1 283.70 H673.8" stroke="#a01010" stroke-width="2.3" stroke-dasharray="10.3 6.5" stroke-dashoffset="0"/>
<text transform="translate(683.3 289.93) scale(1.02 1)" font-size="17.4" word-spacing="-0.3">500 m</text>
<path d="M646.60 77.20 L647.41 77.44 L648.53 77.79 L649.86 78.19 L651.29 78.61 L652.70 79.00 L654.14 79.38 L655.69 79.77 L657.27 80.15 L658.83 80.50 L660.30 80.80 L661.61 81.00 L662.80 81.12 L663.97 81.21 L665.24 81.35 L666.70 81.60 L668.45 82.00 L670.43 82.52 L672.48 83.08 L674.46 83.60 L676.20 84.00 L677.61 84.22 L678.79 84.32 L679.90 84.38 L681.08 84.51 L682.50 84.80 L684.26 85.31 L686.26 85.99 L688.34 86.73 L690.34 87.43 L692.10 88.00 L693.52 88.37 L694.70 88.60 L695.80 88.80 L696.98 89.07 L698.40 89.50 L700.14 90.19 L702.08 91.07 L704.12 92.01 L706.14 92.86 L708.00 93.50 L709.69 93.84 L711.28 93.97 L712.82 94.02 L714.35 94.09 L715.90 94.30 L717.48 94.69 L719.06 95.18 L720.64 95.72 L722.22 96.25 L723.80 96.70 L725.38 97.02 L726.96 97.25 L728.53 97.48 L730.11 97.79 L731.70 98.30 L733.32 99.07 L734.97 100.03 L736.62 101.08 L738.21 102.11 L739.70 103.00 L741.04 103.74 L742.26 104.39 L743.44 104.99 L744.66 105.58 L746.00 106.20 L747.52 106.84 L749.17 107.48 L750.86 108.13 L752.50 108.77 L754.00 109.40 L755.26 110.02 L756.34 110.63 L757.39 111.24 L758.56 111.86 L760.00 112.50 L761.70 113.04 L763.56 113.48 L765.60 113.99 L767.84 114.77 L770.30 116.00 L773.11 117.86 L776.25 120.22 L779.54 122.82 L782.78 125.40 L785.80 127.70 L788.55 129.69 L791.15 131.56 L793.66 133.32 L796.16 135.03 L798.70 136.70 L801.24 138.30 L803.74 139.81 L806.26 141.28 L808.86 142.79 L811.60 144.40 L814.52 146.11 L817.58 147.88 L820.71 149.71 L823.87 151.58 L827.00 153.50 L830.14 155.50 L833.32 157.60 L836.48 159.72 L839.56 161.80 L842.50 163.80 L845.25 165.66 L847.85 167.43 L850.36 169.17 L852.86 170.94 L855.40 172.80 L857.98 174.80 L860.56 176.89 L863.14 179.01 L865.72 181.10 L868.30 183.10 L870.92 185.02 L873.58 186.91 L876.23 188.74 L878.79 190.48 L881.20 192.10 L883.49 193.67 L885.68 195.20 L887.77 196.60 L889.72 197.76 L891.50 198.60 L893.03 198.93 L894.32 198.81 L895.52 198.52 L896.73 198.32 L898.10 198.50 L899.65 199.18 L901.30 200.18 L903.00 201.30 L904.71 202.34 L906.40 203.10 L908.03 203.53 L909.64 203.77 L911.26 203.88 L912.93 203.94 L914.70 204.00 L916.67 204.07 L918.82 204.11 L920.99 204.11 L923.00 204.07 L924.70 204.00 L925.92 203.82 L926.78 203.54 L927.52 203.26 L928.38 203.08 L929.60 203.10 L931.30 203.38 L933.31 203.84 L935.48 204.42 L937.63 205.03 L939.60 205.60 L941.37 206.15 L943.04 206.73 L944.66 207.31 L946.27 207.87 L947.90 208.40 L949.56 208.91 L951.22 209.40 L952.88 209.87 L954.54 210.28 L956.20 210.60 L957.83 210.80 L959.44 210.89 L961.06 210.93 L962.73 210.99 L964.50 211.10 L966.45 211.28 L968.54 211.49 L970.66 211.72 L972.69 211.98 L974.50 212.25 L976.01 212.58 L977.30 212.98 L978.50 213.37 L979.73 213.70 L981.10 213.90 L982.65 213.92 L984.30 213.81 L986.00 213.63 L987.71 213.47 L989.40 213.40 L991.06 213.47 L992.72 213.63 L994.38 213.81 L996.04 213.92 L997.70 213.90 L999.47 213.69 L1001.34 213.36 L1003.16 212.96 L1004.76 212.56 L1006.00 212.25 L1006.79 212.02 L1007.24 211.81 L1007.46 211.64 L1007.57 211.50 L1007.70 211.40" fill="none" stroke="#a01010" stroke-width="2.3" stroke-dasharray="10.3 6.5" stroke-linejoin="round"/>
<path d="M638.00 70.50 L645.20 74.40 L645.20 74.83 L646.20 75.17 L647.20 75.50 L648.20 75.84 L649.20 76.18 L650.20 76.52 L651.20 76.87 L652.20 77.22 L653.20 77.57 L654.20 77.93 L655.20 78.29 L656.20 78.65 L657.20 79.02 L658.20 79.39 L659.20 79.76 L660.20 80.14 L661.20 80.52 L662.20 80.90 L663.20 81.29 L664.20 81.68 L665.20 82.07 L666.20 82.46 L667.20 82.86 L668.20 83.26 L669.20 83.67 L670.20 84.07 L671.20 84.49 L672.20 84.90 L673.20 85.32 L674.20 85.74 L675.20 86.16 L676.20 86.58 L677.20 87.01 L678.20 87.44 L679.20 87.88 L680.20 88.32 L681.20 88.76 L682.20 89.20 L683.20 89.65 L684.20 90.10 L685.20 90.55 L686.20 91.01 L687.20 91.46 L688.20 91.93 L689.20 92.39 L690.20 92.86 L691.20 93.33 L692.20 93.80 L693.20 94.27 L694.20 94.75 L695.20 95.23 L696.20 95.72 L697.20 96.21 L698.20 96.70 L699.20 97.19 L700.20 97.68 L701.20 98.18 L702.20 98.68 L703.20 99.19 L704.20 99.69 L705.20 100.20 L706.20 100.71 L707.20 101.23 L708.20 101.74 L709.20 102.26 L710.20 102.79 L711.20 103.31 L712.20 103.84 L713.20 104.37 L714.20 104.90 L715.20 105.43 L716.20 105.97 L717.20 106.51 L718.20 107.05 L719.20 107.59 L720.20 108.13 L721.20 108.68 L722.20 109.23 L723.20 109.78 L724.20 110.33 L725.20 110.88 L726.20 111.43 L727.20 111.99 L728.20 112.54 L729.20 113.10 L730.20 113.66 L731.20 114.22 L732.20 114.78 L733.20 115.34 L734.20 115.90 L735.20 116.47 L736.20 117.03 L737.20 117.60 L738.20 118.16 L739.20 118.73 L740.20 119.30 L741.20 119.86 L742.20 120.43 L743.20 121.00 L744.20 121.57 L745.20 122.14 L746.20 122.70 L747.20 123.27 L748.20 123.84 L749.20 124.41 L750.20 124.98 L751.20 125.55 L752.20 126.12 L753.20 126.70 L754.20 127.27 L755.20 127.84 L756.20 128.41 L757.20 128.98 L758.20 129.56 L759.20 130.13 L760.20 130.71 L761.20 131.28 L762.20 131.85 L763.20 132.43 L764.20 133.01 L765.20 133.58 L766.20 134.16 L767.20 134.74 L768.20 135.31 L769.20 135.89 L770.20 136.47 L771.20 137.05 L772.20 137.63 L773.20 138.21 L774.20 138.79 L775.20 139.37 L776.20 139.95 L777.20 140.54 L778.20 141.12 L779.20 141.70 L780.20 142.29 L781.20 142.87 L782.20 143.46 L783.20 144.04 L784.20 144.63 L785.20 145.22 L786.20 145.80 L787.20 146.39 L788.20 146.98 L789.20 147.57 L790.20 148.16 L791.20 148.75 L792.20 149.35 L793.20 149.94 L794.20 150.53 L795.20 151.13 L796.20 151.72 L797.20 152.32 L798.20 152.91 L799.20 153.51 L800.20 154.11 L801.20 154.71 L802.20 155.30 L803.20 155.90 L804.20 156.50 L805.20 157.10 L806.20 157.70 L807.20 158.30 L808.20 158.90 L809.20 159.50 L810.20 160.10 L811.20 160.69 L812.20 161.29 L813.20 161.89 L814.20 162.49 L815.20 163.09 L816.20 163.69 L817.20 164.28 L818.20 164.88 L819.20 165.47 L820.20 166.07 L821.20 166.66 L822.20 167.26 L823.20 167.85 L824.20 168.44 L825.20 169.04 L826.20 169.63 L827.20 170.22 L828.20 170.80 L829.20 171.39 L830.20 171.98 L831.20 172.56 L832.20 173.15 L833.20 173.73 L834.20 174.31 L835.20 174.89 L836.20 175.47 L837.20 176.04 L838.20 176.62 L839.20 177.19 L840.20 177.76 L841.20 178.33 L842.20 178.90 L843.20 179.46 L844.20 180.03 L845.20 180.59 L846.20 181.15 L847.20 181.71 L848.20 182.26 L849.20 182.81 L850.20 183.36 L851.20 183.91 L852.20 184.46 L853.20 185.00 L854.20 185.54 L855.20 186.08 L856.20 186.62 L857.20 187.15 L858.20 187.69 L859.20 188.21 L860.20 188.74 L861.20 189.27 L862.20 189.79 L863.20 190.31 L864.20 190.83 L865.20 191.34 L866.20 191.85 L867.20 192.37 L868.20 192.87 L869.20 193.38 L870.20 193.88 L871.20 194.39 L872.20 194.88 L873.20 195.38 L874.20 195.88 L875.20 196.37 L876.20 196.86 L877.20 197.35 L878.20 197.83 L879.20 198.32 L880.20 198.80 L881.20 199.28 L882.20 199.75 L883.20 200.23 L884.20 200.70 L885.20 201.17 L886.20 201.64 L887.20 202.11 L888.20 202.57 L889.20 203.03 L890.20 203.49 L891.20 203.95 L892.20 204.41 L893.20 204.86 L894.20 205.31 L895.20 205.76 L896.20 206.21 L897.20 206.65 L898.20 207.09 L899.20 207.54 L900.20 207.97 L901.20 208.41 L902.20 208.85 L903.20 209.28 L904.20 209.71 L905.20 210.14 L906.20 210.56 L907.20 210.99 L908.20 211.41 L909.20 211.83 L910.20 212.25 L911.20 212.67 L912.20 213.08 L913.20 213.50 L914.20 213.91 L915.20 214.32 L916.20 214.72 L917.20 215.13 L918.20 215.53 L919.20 215.93 L920.20 216.33 L921.20 216.73 L922.20 217.13 L923.20 217.52 L924.20 217.91 L925.20 218.30 L926.20 218.69 L927.20 219.08 L928.20 219.46 L929.20 219.85 L930.20 220.23 L931.20 220.61 L932.20 220.98 L933.20 221.36 L934.20 221.73 L935.20 222.10 L936.20 222.47 L937.20 222.84 L938.20 223.21 L939.20 223.57 L940.20 223.93 L941.20 224.29 L942.20 224.65 L943.20 225.01 L944.20 225.36 L945.20 225.71 L946.20 226.06 L947.20 226.41 L948.20 226.76 L949.20 227.10 L950.20 227.45 L951.20 227.79 L952.20 228.13 L953.20 228.46 L954.20 228.80 L955.20 229.13 L956.20 229.46 L957.20 229.79 L958.20 230.11 L959.20 230.44 L960.20 230.76 L961.20 231.08 L962.20 231.40 L963.20 231.71 L964.20 232.03 L965.20 232.34 L966.20 232.65 L967.20 232.96 L968.20 233.26 L969.20 233.57 L970.20 233.87 L971.20 234.17 L972.20 234.46 L973.20 234.76 L974.20 235.05 L975.20 235.34 L976.20 235.63 L977.20 235.92 L978.20 236.20 L979.20 236.48 L980.20 236.76 L981.20 237.04 L982.20 237.31 L983.20 237.59 L984.20 237.86 L985.20 238.12 L986.20 238.39 L987.20 238.65 L988.20 238.92 L989.20 239.17 L990.20 239.43 L991.20 239.69 L992.20 239.94 L993.20 240.19 L994.20 240.44 L995.20 240.68 L996.20 240.93 L997.20 241.17 L998.20 241.40 L999.20 241.64 L1000.20 241.87 L1001.20 242.11 L1002.20 242.34 L1003.20 242.56 L1004.20 242.79 L1005.20 243.01 L1006.20 243.23 L1006.80 243.36" fill="none" stroke="#800080" stroke-width="2.3" stroke-dasharray="2.2 6.2" stroke-linejoin="round"/>
<path d="M631.00 68.90 L638.00 73.60 L638.00 73.69 L639.00 74.13 L640.00 74.58 L641.00 75.03 L642.00 75.48 L643.00 75.94 L644.00 76.39 L645.00 76.85 L646.00 77.32 L647.00 77.78 L648.00 78.25 L649.00 78.72 L650.00 79.20 L651.00 79.67 L652.00 80.15 L653.00 80.63 L654.00 81.12 L655.00 81.60 L656.00 82.09 L657.00 82.58 L658.00 83.08 L659.00 83.57 L660.00 84.07 L661.00 84.57 L662.00 85.08 L663.00 85.58 L664.00 86.09 L665.00 86.60 L666.00 87.11 L667.00 87.62 L668.00 88.14 L669.00 88.66 L670.00 89.18 L671.00 89.70 L672.00 90.22 L673.00 90.75 L674.00 91.27 L675.00 91.80 L676.00 92.34 L677.00 92.87 L678.00 93.40 L679.00 93.94 L680.00 94.48 L681.00 95.02 L682.00 95.56 L683.00 96.10 L684.00 96.64 L685.00 97.19 L686.00 97.74 L687.00 98.29 L688.00 98.84 L689.00 99.39 L690.00 99.94 L691.00 100.49 L692.00 101.05 L693.00 101.61 L694.00 102.16 L695.00 102.72 L696.00 103.28 L697.00 103.85 L698.00 104.41 L699.00 104.97 L700.00 105.54 L701.00 106.10 L702.00 106.67 L703.00 107.23 L704.00 107.80 L705.00 108.37 L706.00 108.94 L707.00 109.51 L708.00 110.08 L709.00 110.66 L710.00 111.23 L711.00 111.80 L712.00 112.38 L713.00 112.95 L714.00 113.53 L715.00 114.10 L716.00 114.68 L717.00 115.26 L718.00 115.84 L719.00 116.42 L720.00 116.99 L721.00 117.57 L722.00 118.16 L723.00 118.74 L724.00 119.32 L725.00 119.90 L726.00 120.48 L727.00 121.07 L728.00 121.65 L729.00 122.24 L730.00 122.82 L731.00 123.41 L732.00 123.99 L733.00 124.58 L734.00 125.17 L735.00 125.75 L736.00 126.34 L737.00 126.93 L738.00 127.52 L739.00 128.11 L740.00 128.70 L741.00 129.29 L742.00 129.88 L743.00 130.47 L744.00 131.06 L745.00 131.65 L746.00 132.24 L747.00 132.83 L748.00 133.43 L749.00 134.02 L750.00 134.61 L751.00 135.21 L752.00 135.80 L753.00 136.39 L754.00 136.99 L755.00 137.58 L756.00 138.18 L757.00 138.77 L758.00 139.37 L759.00 139.96 L760.00 140.56 L761.00 141.16 L762.00 141.75 L763.00 142.35 L764.00 142.94 L765.00 143.54 L766.00 144.14 L767.00 144.73 L768.00 145.33 L769.00 145.93 L770.00 146.52 L771.00 147.12 L772.00 147.72 L773.00 148.32 L774.00 148.91 L775.00 149.51 L776.00 150.11 L777.00 150.71 L778.00 151.30 L779.00 151.90 L780.00 152.50 L781.00 153.10 L782.00 153.70 L783.00 154.29 L784.00 154.89 L785.00 155.49 L786.00 156.09 L787.00 156.68 L788.00 157.28 L789.00 157.88 L790.00 158.47 L791.00 159.07 L792.00 159.67 L793.00 160.26 L794.00 160.86 L795.00 161.46 L796.00 162.05 L797.00 162.65 L798.00 163.25 L799.00 163.84 L800.00 164.44 L801.00 165.03 L802.00 165.63 L803.00 166.22 L804.00 166.82 L805.00 167.41 L806.00 168.01 L807.00 168.60 L808.00 169.19 L809.00 169.79 L810.00 170.38 L811.00 170.97 L812.00 171.56 L813.00 172.15 L814.00 172.75 L815.00 173.33 L816.00 173.92 L817.00 174.51 L818.00 175.10 L819.00 175.68 L820.00 176.26 L821.00 176.85 L822.00 177.43 L823.00 178.00 L824.00 178.58 L825.00 179.15 L826.00 179.73 L827.00 180.30 L828.00 180.86 L829.00 181.43 L830.00 181.99 L831.00 182.55 L832.00 183.11 L833.00 183.66 L834.00 184.21 L835.00 184.76 L836.00 185.30 L837.00 185.84 L838.00 186.38 L839.00 186.91 L840.00 187.44 L841.00 187.97 L842.00 188.49 L843.00 189.01 L844.00 189.52 L845.00 190.04 L846.00 190.55 L847.00 191.05 L848.00 191.56 L849.00 192.06 L850.00 192.56 L851.00 193.06 L852.00 193.55 L853.00 194.04 L854.00 194.54 L855.00 195.03 L856.00 195.51 L857.00 196.00 L858.00 196.48 L859.00 196.97 L860.00 197.45 L861.00 197.93 L862.00 198.41 L863.00 198.89 L864.00 199.37 L865.00 199.85 L866.00 200.32 L867.00 200.80 L868.00 201.28 L869.00 201.75 L870.00 202.23 L871.00 202.71 L872.00 203.18 L873.00 203.66 L874.00 204.14 L875.00 204.61 L876.00 205.08 L877.00 205.56 L878.00 206.03 L879.00 206.50 L880.00 206.98 L881.00 207.45 L882.00 207.92 L883.00 208.38 L884.00 208.85 L885.00 209.32 L886.00 209.78 L887.00 210.24 L888.00 210.71 L889.00 211.17 L890.00 211.62 L891.00 212.08 L892.00 212.54 L893.00 212.99 L894.00 213.44 L895.00 213.89 L896.00 214.34 L897.00 214.78 L898.00 215.23 L899.00 215.67 L900.00 216.10 L901.00 216.54 L902.00 216.97 L903.00 217.40 L904.00 217.83 L905.00 218.26 L906.00 218.68 L907.00 219.10 L908.00 219.51 L909.00 219.93 L910.00 220.34 L911.00 220.74 L912.00 221.15 L913.00 221.55 L914.00 221.94 L915.00 222.34 L916.00 222.73 L917.00 223.12 L918.00 223.50 L919.00 223.88 L920.00 224.26 L921.00 224.63 L922.00 225.00 L923.00 225.37 L924.00 225.74 L925.00 226.10 L926.00 226.46 L927.00 226.82 L928.00 227.17 L929.00 227.52 L930.00 227.87 L931.00 228.22 L932.00 228.56 L933.00 228.90 L934.00 229.24 L935.00 229.58 L936.00 229.91 L937.00 230.25 L938.00 230.58 L939.00 230.90 L940.00 231.23 L941.00 231.56 L942.00 231.88 L943.00 232.20 L944.00 232.52 L945.00 232.83 L946.00 233.15 L947.00 233.46 L948.00 233.77 L949.00 234.08 L950.00 234.39 L951.00 234.70 L952.00 235.00 L953.00 235.31 L954.00 235.61 L955.00 235.91 L956.00 236.21 L957.00 236.51 L958.00 236.81 L959.00 237.11 L960.00 237.40 L961.00 237.70 L962.00 237.99 L963.00 238.28 L964.00 238.58 L965.00 238.87 L966.00 239.16 L967.00 239.45 L968.00 239.74 L969.00 240.03 L970.00 240.32 L971.00 240.61 L972.00 240.89 L973.00 241.18 L974.00 241.47 L975.00 241.76 L976.00 242.04 L977.00 242.33 L978.00 242.62 L979.00 242.91 L980.00 243.19 L981.00 243.48 L982.00 243.77 L983.00 244.05 L984.00 244.34 L985.00 244.63 L986.00 244.92 L987.00 245.21 L988.00 245.50 L989.00 245.79 L990.00 246.08 L991.00 246.37 L992.00 246.66 L993.00 246.95 L994.00 247.25 L995.00 247.54 L996.00 247.83 L997.00 248.13 L998.00 248.43 L999.00 248.73 L1000.00 249.02 L1001.00 249.33 L1002.00 249.63 L1003.00 249.93 L1004.00 250.23 L1005.00 250.54 L1006.00 250.85 L1007.00 251.15 L1007.80 251.40" fill="none" stroke="#008000" stroke-width="2.3" stroke-dasharray="8.5 8.3" stroke-linejoin="round"/>
<path d="M627.00 65.70 L630.20 71.30 L630.20 70.71 L631.20 71.23 L632.20 71.76 L633.20 72.29 L634.20 72.82 L635.20 73.36 L636.20 73.90 L637.20 74.45 L638.20 75.00 L639.20 75.55 L640.20 76.11 L641.20 76.67 L642.20 77.23 L643.20 77.80 L644.20 78.37 L645.20 78.95 L646.20 79.52 L647.20 80.10 L648.20 80.69 L649.20 81.27 L650.20 81.86 L651.20 82.46 L652.20 83.05 L653.20 83.65 L654.20 84.25 L655.20 84.85 L656.20 85.46 L657.20 86.07 L658.20 86.68 L659.20 87.30 L660.20 87.91 L661.20 88.53 L662.20 89.15 L663.20 89.78 L664.20 90.40 L665.20 91.03 L666.20 91.66 L667.20 92.29 L668.20 92.93 L669.20 93.56 L670.20 94.20 L671.20 94.84 L672.20 95.48 L673.20 96.12 L674.20 96.77 L675.20 97.41 L676.20 98.06 L677.20 98.71 L678.20 99.36 L679.20 100.01 L680.20 100.66 L681.20 101.32 L682.20 101.97 L683.20 102.63 L684.20 103.29 L685.20 103.94 L686.20 104.60 L687.20 105.26 L688.20 105.92 L689.20 106.59 L690.20 107.25 L691.20 107.91 L692.20 108.57 L693.20 109.24 L694.20 109.90 L695.20 110.56 L696.20 111.23 L697.20 111.89 L698.20 112.56 L699.20 113.22 L700.20 113.89 L701.20 114.55 L702.20 115.22 L703.20 115.88 L704.20 116.55 L705.20 117.21 L706.20 117.88 L707.20 118.54 L708.20 119.21 L709.20 119.87 L710.20 120.53 L711.20 121.20 L712.20 121.86 L713.20 122.52 L714.20 123.18 L715.20 123.85 L716.20 124.51 L717.20 125.17 L718.20 125.83 L719.20 126.49 L720.20 127.15 L721.20 127.81 L722.20 128.47 L723.20 129.13 L724.20 129.79 L725.20 130.45 L726.20 131.10 L727.20 131.76 L728.20 132.42 L729.20 133.08 L730.20 133.73 L731.20 134.39 L732.20 135.04 L733.20 135.70 L734.20 136.35 L735.20 137.00 L736.20 137.66 L737.20 138.31 L738.20 138.96 L739.20 139.61 L740.20 140.26 L741.20 140.92 L742.20 141.57 L743.20 142.21 L744.20 142.86 L745.20 143.51 L746.20 144.16 L747.20 144.80 L748.20 145.45 L749.20 146.10 L750.20 146.74 L751.20 147.38 L752.20 148.03 L753.20 148.67 L754.20 149.31 L755.20 149.95 L756.20 150.59 L757.20 151.23 L758.20 151.87 L759.20 152.51 L760.20 153.15 L761.20 153.78 L762.20 154.42 L763.20 155.06 L764.20 155.69 L765.20 156.32 L766.20 156.96 L767.20 157.59 L768.20 158.22 L769.20 158.85 L770.20 159.48 L771.20 160.10 L772.20 160.73 L773.20 161.36 L774.20 161.98 L775.20 162.61 L776.20 163.23 L777.20 163.85 L778.20 164.47 L779.20 165.10 L780.20 165.71 L781.20 166.33 L782.20 166.95 L783.20 167.57 L784.20 168.18 L785.20 168.80 L786.20 169.41 L787.20 170.02 L788.20 170.63 L789.20 171.24 L790.20 171.85 L791.20 172.46 L792.20 173.06 L793.20 173.67 L794.20 174.27 L795.20 174.87 L796.20 175.47 L797.20 176.07 L798.20 176.67 L799.20 177.27 L800.20 177.86 L801.20 178.46 L802.20 179.05 L803.20 179.64 L804.20 180.23 L805.20 180.82 L806.20 181.41 L807.20 181.99 L808.20 182.58 L809.20 183.16 L810.20 183.74 L811.20 184.32 L812.20 184.90 L813.20 185.48 L814.20 186.05 L815.20 186.63 L816.20 187.20 L817.20 187.77 L818.20 188.34 L819.20 188.91 L820.20 189.47 L821.20 190.04 L822.20 190.60 L823.20 191.16 L824.20 191.72 L825.20 192.28 L826.20 192.84 L827.20 193.39 L828.20 193.94 L829.20 194.49 L830.20 195.04 L831.20 195.59 L832.20 196.14 L833.20 196.68 L834.20 197.22 L835.20 197.76 L836.20 198.30 L837.20 198.84 L838.20 199.37 L839.20 199.90 L840.20 200.43 L841.20 200.96 L842.20 201.49 L843.20 202.02 L844.20 202.54 L845.20 203.06 L846.20 203.58 L847.20 204.10 L848.20 204.61 L849.20 205.12 L850.20 205.63 L851.20 206.14 L852.20 206.65 L853.20 207.15 L854.20 207.66 L855.20 208.16 L856.20 208.66 L857.20 209.15 L858.20 209.65 L859.20 210.14 L860.20 210.63 L861.20 211.11 L862.20 211.60 L863.20 212.08 L864.20 212.56 L865.20 213.04 L866.20 213.52 L867.20 213.99 L868.20 214.46 L869.20 214.93 L870.20 215.40 L871.20 215.86 L872.20 216.32 L873.20 216.78 L874.20 217.24 L875.20 217.70 L876.20 218.15 L877.20 218.60 L878.20 219.05 L879.20 219.49 L880.20 219.93 L881.20 220.37 L882.20 220.81 L883.20 221.25 L884.20 221.68 L885.20 222.11 L886.20 222.54 L887.20 222.97 L888.20 223.39 L889.20 223.81 L890.20 224.23 L891.20 224.65 L892.20 225.07 L893.20 225.48 L894.20 225.89 L895.20 226.30 L896.20 226.71 L897.20 227.11 L898.20 227.52 L899.20 227.92 L900.20 228.32 L901.20 228.71 L902.20 229.11 L903.20 229.50 L904.20 229.89 L905.20 230.28 L906.20 230.67 L907.20 231.05 L908.20 231.44 L909.20 231.82 L910.20 232.20 L911.20 232.58 L912.20 232.95 L913.20 233.33 L914.20 233.70 L915.20 234.07 L916.20 234.44 L917.20 234.81 L918.20 235.18 L919.20 235.54 L920.20 235.90 L921.20 236.26 L922.20 236.62 L923.20 236.98 L924.20 237.34 L925.20 237.69 L926.20 238.05 L927.20 238.40 L928.20 238.75 L929.20 239.10 L930.20 239.45 L931.20 239.79 L932.20 240.14 L933.20 240.48 L934.20 240.82 L935.20 241.16 L936.20 241.50 L937.20 241.84 L938.20 242.18 L939.20 242.52 L940.20 242.85 L941.20 243.18 L942.20 243.52 L943.20 243.85 L944.20 244.18 L945.20 244.50 L946.20 244.83 L947.20 245.16 L948.20 245.48 L949.20 245.81 L950.20 246.13 L951.20 246.45 L952.20 246.78 L953.20 247.10 L954.20 247.42 L955.20 247.73 L956.20 248.05 L957.20 248.37 L958.20 248.68 L959.20 249.00 L960.20 249.31 L961.20 249.63 L962.20 249.94 L963.20 250.25 L964.20 250.56 L965.20 250.87 L966.20 251.18 L967.20 251.49 L968.20 251.80 L969.20 252.11 L970.20 252.41 L971.20 252.72 L972.20 253.03 L973.20 253.33 L974.20 253.63 L975.20 253.94 L976.20 254.24 L977.20 254.54 L978.20 254.85 L979.20 255.15 L980.20 255.45 L981.20 255.75 L982.20 256.05 L983.20 256.35 L984.20 256.65 L985.20 256.95 L986.20 257.25 L987.20 257.55 L988.20 257.85 L989.20 258.15 L990.20 258.45 L991.20 258.74 L992.20 259.04 L993.20 259.34 L994.20 259.64 L995.20 259.93 L996.20 260.23 L997.20 260.53 L998.20 260.82 L999.20 261.12 L1000.20 261.42 L1001.20 261.71 L1002.20 262.01 L1003.20 262.31 L1004.20 262.60 L1005.20 262.90 L1006.20 263.20 L1006.25 263.21" fill="none" stroke="#00008b" stroke-width="2.3" stroke-dasharray="6.8 4.2 2 4.2" stroke-linejoin="round"/>
<path d="M622.20 64.90 L626.20 72.00 L626.20 71.54 L627.20 72.09 L628.20 72.66 L629.20 73.23 L630.20 73.81 L631.20 74.40 L632.20 74.99 L633.20 75.60 L634.20 76.21 L635.20 76.83 L636.20 77.46 L637.20 78.09 L638.20 78.73 L639.20 79.38 L640.20 80.04 L641.20 80.70 L642.20 81.37 L643.20 82.05 L644.20 82.73 L645.20 83.42 L646.20 84.11 L647.20 84.81 L648.20 85.52 L649.20 86.23 L650.20 86.94 L651.20 87.66 L652.20 88.39 L653.20 89.12 L654.20 89.86 L655.20 90.60 L656.20 91.34 L657.20 92.09 L658.20 92.84 L659.20 93.60 L660.20 94.36 L661.20 95.13 L662.20 95.89 L663.20 96.67 L664.20 97.44 L665.20 98.22 L666.20 99.00 L667.20 99.78 L668.20 100.57 L669.20 101.36 L670.20 102.15 L671.20 102.94 L672.20 103.73 L673.20 104.53 L674.20 105.33 L675.20 106.13 L676.20 106.93 L677.20 107.73 L678.20 108.53 L679.20 109.34 L680.20 110.14 L681.20 110.95 L682.20 111.75 L683.20 112.56 L684.20 113.36 L685.20 114.17 L686.20 114.98 L687.20 115.78 L688.20 116.59 L689.20 117.39 L690.20 118.19 L691.20 119.00 L692.20 119.80 L693.20 120.60 L694.20 121.40 L695.20 122.19 L696.20 122.99 L697.20 123.78 L698.20 124.58 L699.20 125.37 L700.20 126.15 L701.20 126.94 L702.20 127.72 L703.20 128.50 L704.20 129.27 L705.20 130.05 L706.20 130.82 L707.20 131.59 L708.20 132.35 L709.20 133.12 L710.20 133.88 L711.20 134.64 L712.20 135.39 L713.20 136.14 L714.20 136.89 L715.20 137.64 L716.20 138.39 L717.20 139.13 L718.20 139.87 L719.20 140.61 L720.20 141.34 L721.20 142.07 L722.20 142.80 L723.20 143.53 L724.20 144.26 L725.20 144.98 L726.20 145.70 L727.20 146.42 L728.20 147.14 L729.20 147.85 L730.20 148.56 L731.20 149.27 L732.20 149.98 L733.20 150.68 L734.20 151.39 L735.20 152.09 L736.20 152.79 L737.20 153.48 L738.20 154.18 L739.20 154.87 L740.20 155.56 L741.20 156.24 L742.20 156.93 L743.20 157.61 L744.20 158.30 L745.20 158.98 L746.20 159.65 L747.20 160.33 L748.20 161.00 L749.20 161.67 L750.20 162.34 L751.20 163.01 L752.20 163.68 L753.20 164.34 L754.20 165.01 L755.20 165.67 L756.20 166.32 L757.20 166.98 L758.20 167.64 L759.20 168.29 L760.20 168.94 L761.20 169.59 L762.20 170.24 L763.20 170.89 L764.20 171.53 L765.20 172.17 L766.20 172.82 L767.20 173.46 L768.20 174.10 L769.20 174.73 L770.20 175.37 L771.20 176.00 L772.20 176.63 L773.20 177.26 L774.20 177.89 L775.20 178.52 L776.20 179.15 L777.20 179.77 L778.20 180.40 L779.20 181.02 L780.20 181.64 L781.20 182.26 L782.20 182.87 L783.20 183.49 L784.20 184.10 L785.20 184.72 L786.20 185.33 L787.20 185.94 L788.20 186.55 L789.20 187.15 L790.20 187.76 L791.20 188.36 L792.20 188.97 L793.20 189.57 L794.20 190.17 L795.20 190.77 L796.20 191.36 L797.20 191.96 L798.20 192.55 L799.20 193.14 L800.20 193.73 L801.20 194.32 L802.20 194.91 L803.20 195.50 L804.20 196.08 L805.20 196.66 L806.20 197.25 L807.20 197.83 L808.20 198.41 L809.20 198.98 L810.20 199.56 L811.20 200.13 L812.20 200.71 L813.20 201.28 L814.20 201.85 L815.20 202.41 L816.20 202.98 L817.20 203.55 L818.20 204.11 L819.20 204.67 L820.20 205.23 L821.20 205.79 L822.20 206.35 L823.20 206.91 L824.20 207.46 L825.20 208.01 L826.20 208.57 L827.20 209.12 L828.20 209.66 L829.20 210.21 L830.20 210.76 L831.20 211.30 L832.20 211.84 L833.20 212.38 L834.20 212.92 L835.20 213.46 L836.20 214.00 L837.20 214.53 L838.20 215.07 L839.20 215.60 L840.20 216.13 L841.20 216.66 L842.20 217.19 L843.20 217.71 L844.20 218.24 L845.20 218.76 L846.20 219.28 L847.20 219.80 L848.20 220.32 L849.20 220.83 L850.20 221.35 L851.20 221.86 L852.20 222.37 L853.20 222.89 L854.20 223.39 L855.20 223.90 L856.20 224.41 L857.20 224.91 L858.20 225.42 L859.20 225.92 L860.20 226.42 L861.20 226.92 L862.20 227.41 L863.20 227.91 L864.20 228.40 L865.20 228.89 L866.20 229.38 L867.20 229.87 L868.20 230.36 L869.20 230.85 L870.20 231.33 L871.20 231.81 L872.20 232.30 L873.20 232.78 L874.20 233.25 L875.20 233.73 L876.20 234.21 L877.20 234.68 L878.20 235.15 L879.20 235.62 L880.20 236.09 L881.20 236.56 L882.20 237.02 L883.20 237.49 L884.20 237.95 L885.20 238.41 L886.20 238.87 L887.20 239.33 L888.20 239.79 L889.20 240.24 L890.20 240.70 L891.20 241.15 L892.20 241.60 L893.20 242.05 L894.20 242.50 L895.20 242.94 L896.20 243.39 L897.20 243.83 L898.20 244.27 L899.20 244.71 L900.20 245.15 L901.20 245.58 L902.20 246.02 L903.20 246.45 L904.20 246.88 L905.20 247.31 L906.20 247.74 L907.20 248.17 L908.20 248.59 L909.20 249.02 L910.20 249.44 L911.20 249.86 L912.20 250.28 L913.20 250.70 L914.20 251.11 L915.20 251.53 L916.20 251.94 L917.20 252.35 L918.20 252.76 L919.20 253.17 L920.20 253.58 L921.20 253.98 L922.20 254.39 L923.20 254.79 L924.20 255.19 L925.20 255.59 L926.20 255.98 L927.20 256.38 L928.20 256.77 L929.20 257.17 L930.20 257.56 L931.20 257.95 L932.20 258.33 L933.20 258.72 L934.20 259.10 L935.20 259.49 L936.20 259.87 L937.20 260.25 L938.20 260.63 L939.20 261.00 L940.20 261.38 L941.20 261.75 L942.20 262.12 L943.20 262.49 L944.20 262.86 L945.20 263.23 L946.20 263.59 L947.20 263.96 L948.20 264.32 L949.20 264.68 L950.20 265.04 L951.20 265.40 L952.20 265.75 L953.20 266.11 L954.20 266.46 L955.20 266.81 L956.20 267.16 L957.20 267.51 L958.20 267.85 L959.20 268.20 L960.20 268.54 L961.20 268.88 L962.20 269.22 L963.20 269.56 L964.20 269.90 L965.20 270.23 L966.20 270.57 L967.20 270.90 L968.20 271.23 L969.20 271.56 L970.20 271.89 L971.20 272.21 L972.20 272.53 L973.20 272.86 L974.20 273.18 L975.20 273.50 L976.20 273.81 L977.20 274.13 L978.20 274.44 L979.20 274.76 L980.20 275.07 L981.20 275.38 L982.20 275.68 L983.20 275.99 L984.20 276.29 L985.20 276.60 L986.20 276.90 L987.20 277.20 L988.20 277.50 L989.20 277.79 L990.20 278.09 L991.20 278.38 L992.20 278.67 L993.20 278.96 L994.20 279.25 L995.20 279.54 L996.20 279.82 L997.20 280.10 L998.20 280.39 L999.20 280.67 L1000.20 280.94 L1001.20 281.22 L1002.20 281.50 L1003.20 281.77 L1004.20 282.04 L1005.20 282.31 L1006.20 282.58 L1006.25 282.59" fill="none" stroke="#ff0000" stroke-width="2.3" stroke-dasharray="10 4.3 2 4.3 2 4.3 2 4.3" stroke-linejoin="round"/>
<path d="M619.00 45.90 L621.40 54.60 L621.40 54.38 L622.40 55.18 L623.40 56.00 L624.40 56.84 L625.40 57.69 L626.40 58.55 L627.40 59.43 L628.40 60.33 L629.40 61.24 L630.40 62.16 L631.40 63.09 L632.40 64.04 L633.40 65.00 L634.40 65.96 L635.40 66.94 L636.40 67.93 L637.40 68.93 L638.40 69.94 L639.40 70.96 L640.40 71.99 L641.40 73.02 L642.40 74.06 L643.40 75.11 L644.40 76.17 L645.40 77.23 L646.40 78.29 L647.40 79.36 L648.40 80.44 L649.40 81.52 L650.40 82.61 L651.40 83.69 L652.40 84.78 L653.40 85.88 L654.40 86.97 L655.40 88.07 L656.40 89.16 L657.40 90.26 L658.40 91.35 L659.40 92.45 L660.40 93.55 L661.40 94.64 L662.40 95.73 L663.40 96.82 L664.40 97.91 L665.40 98.99 L666.40 100.07 L667.40 101.14 L668.40 102.21 L669.40 103.28 L670.40 104.34 L671.40 105.39 L672.40 106.44 L673.40 107.48 L674.40 108.52 L675.40 109.55 L676.40 110.57 L677.40 111.59 L678.40 112.60 L679.40 113.61 L680.40 114.61 L681.40 115.61 L682.40 116.60 L683.40 117.59 L684.40 118.57 L685.40 119.55 L686.40 120.52 L687.40 121.49 L688.40 122.45 L689.40 123.41 L690.40 124.37 L691.40 125.32 L692.40 126.26 L693.40 127.21 L694.40 128.14 L695.40 129.08 L696.40 130.01 L697.40 130.93 L698.40 131.86 L699.40 132.77 L700.40 133.69 L701.40 134.60 L702.40 135.51 L703.40 136.41 L704.40 137.32 L705.40 138.21 L706.40 139.11 L707.40 140.00 L708.40 140.89 L709.40 141.78 L710.40 142.66 L711.40 143.55 L712.40 144.42 L713.40 145.30 L714.40 146.17 L715.40 147.05 L716.40 147.91 L717.40 148.78 L718.40 149.64 L719.40 150.50 L720.40 151.36 L721.40 152.22 L722.40 153.07 L723.40 153.92 L724.40 154.77 L725.40 155.61 L726.40 156.45 L727.40 157.29 L728.40 158.13 L729.40 158.96 L730.40 159.79 L731.40 160.62 L732.40 161.44 L733.40 162.26 L734.40 163.08 L735.40 163.90 L736.40 164.71 L737.40 165.52 L738.40 166.33 L739.40 167.13 L740.40 167.93 L741.40 168.73 L742.40 169.52 L743.40 170.32 L744.40 171.11 L745.40 171.89 L746.40 172.68 L747.40 173.46 L748.40 174.23 L749.40 175.01 L750.40 175.78 L751.40 176.55 L752.40 177.31 L753.40 178.07 L754.40 178.83 L755.40 179.59 L756.40 180.34 L757.40 181.09 L758.40 181.83 L759.40 182.58 L760.40 183.32 L761.40 184.05 L762.40 184.78 L763.40 185.51 L764.40 186.24 L765.40 186.96 L766.40 187.68 L767.40 188.40 L768.40 189.11 L769.40 189.82 L770.40 190.53 L771.40 191.24 L772.40 191.94 L773.40 192.63 L774.40 193.33 L775.40 194.02 L776.40 194.70 L777.40 195.39 L778.40 196.07 L779.40 196.74 L780.40 197.41 L781.40 198.08 L782.40 198.75 L783.40 199.41 L784.40 200.07 L785.40 200.73 L786.40 201.38 L787.40 202.03 L788.40 202.67 L789.40 203.31 L790.40 203.95 L791.40 204.59 L792.40 205.22 L793.40 205.84 L794.40 206.47 L795.40 207.09 L796.40 207.70 L797.40 208.31 L798.40 208.92 L799.40 209.53 L800.40 210.13 L801.40 210.73 L802.40 211.32 L803.40 211.92 L804.40 212.51 L805.40 213.09 L806.40 213.67 L807.40 214.25 L808.40 214.83 L809.40 215.40 L810.40 215.97 L811.40 216.54 L812.40 217.10 L813.40 217.67 L814.40 218.22 L815.40 218.78 L816.40 219.33 L817.40 219.88 L818.40 220.43 L819.40 220.98 L820.40 221.52 L821.40 222.06 L822.40 222.60 L823.40 223.13 L824.40 223.67 L825.40 224.20 L826.40 224.73 L827.40 225.25 L828.40 225.78 L829.40 226.30 L830.40 226.82 L831.40 227.34 L832.40 227.85 L833.40 228.37 L834.40 228.88 L835.40 229.39 L836.40 229.90 L837.40 230.40 L838.40 230.91 L839.40 231.41 L840.40 231.91 L841.40 232.41 L842.40 232.91 L843.40 233.41 L844.40 233.90 L845.40 234.40 L846.40 234.89 L847.40 235.38 L848.40 235.87 L849.40 236.35 L850.40 236.84 L851.40 237.32 L852.40 237.80 L853.40 238.28 L854.40 238.76 L855.40 239.24 L856.40 239.71 L857.40 240.19 L858.40 240.66 L859.40 241.13 L860.40 241.60 L861.40 242.06 L862.40 242.53 L863.40 242.99 L864.40 243.45 L865.40 243.91 L866.40 244.36 L867.40 244.82 L868.40 245.27 L869.40 245.72 L870.40 246.17 L871.40 246.62 L872.40 247.07 L873.40 247.51 L874.40 247.95 L875.40 248.39 L876.40 248.83 L877.40 249.27 L878.40 249.70 L879.40 250.13 L880.40 250.56 L881.40 250.99 L882.40 251.42 L883.40 251.84 L884.40 252.27 L885.40 252.69 L886.40 253.10 L887.40 253.52 L888.40 253.94 L889.40 254.35 L890.40 254.76 L891.40 255.17 L892.40 255.58 L893.40 255.98 L894.40 256.38 L895.40 256.79 L896.40 257.19 L897.40 257.58 L898.40 257.98 L899.40 258.38 L900.40 258.77 L901.40 259.16 L902.40 259.55 L903.40 259.94 L904.40 260.32 L905.40 260.71 L906.40 261.09 L907.40 261.47 L908.40 261.85 L909.40 262.23 L910.40 262.60 L911.40 262.98 L912.40 263.35 L913.40 263.72 L914.40 264.09 L915.40 264.46 L916.40 264.83 L917.40 265.19 L918.40 265.56 L919.40 265.92 L920.40 266.28 L921.40 266.64 L922.40 267.00 L923.40 267.35 L924.40 267.71 L925.40 268.06 L926.40 268.41 L927.40 268.76 L928.40 269.11 L929.40 269.46 L930.40 269.81 L931.40 270.15 L932.40 270.50 L933.40 270.84 L934.40 271.18 L935.40 271.52 L936.40 271.86 L937.40 272.20 L938.40 272.53 L939.40 272.87 L940.40 273.20 L941.40 273.54 L942.40 273.87 L943.40 274.20 L944.40 274.53 L945.40 274.85 L946.40 275.18 L947.40 275.51 L948.40 275.83 L949.40 276.16 L950.40 276.48 L951.40 276.80 L952.40 277.12 L953.40 277.44 L954.40 277.76 L955.40 278.07 L956.40 278.39 L957.40 278.71 L958.40 279.02 L959.40 279.33 L960.40 279.64 L961.40 279.96 L962.40 280.27 L963.40 280.58 L964.40 280.88 L965.40 281.19 L966.40 281.50 L967.40 281.81 L968.40 282.11 L969.40 282.41 L970.40 282.72 L971.40 283.02 L972.40 283.32 L973.40 283.62 L974.40 283.92 L975.40 284.22 L976.40 284.52 L977.40 284.82 L978.40 285.12 L979.40 285.41 L980.40 285.71 L981.40 286.01 L982.40 286.30 L983.40 286.59 L984.40 286.89 L985.40 287.18 L986.40 287.47 L987.40 287.76 L988.40 288.05 L989.40 288.34 L990.40 288.63 L991.40 288.92 L992.40 289.21 L993.40 289.50 L994.40 289.79 L995.40 290.08 L996.40 290.36 L997.40 290.65 L998.40 290.93 L999.40 291.22 L1000.40 291.50 L1001.40 291.79 L1002.40 292.07 L1003.40 292.36 L1004.40 292.64 L1005.40 292.92 L1006.40 293.21 L1007.00 293.38" fill="none" stroke="#000000" stroke-width="2.5" stroke-linejoin="round"/>
<text transform="translate(528.5 15.8) scale(1.07 1)" font-family='"Liberation Serif", serif' font-size="21" stroke="#000" stroke-width="0.2">b)</text>
<rect x="512" y="347" width="512" height="346" fill="#fff"/>
<path d="M64.6 353.3 V653.2 H482.29999999999995" fill="none" stroke="#000" stroke-width="1.45"/>
<path d="M64.6 636.50 h11 M64.6 619.50 h11 M64.6 603.50 h11 M64.6 586.50 h22 M64.6 569.50 h11 M64.6 553.50 h11 M64.6 536.50 h11 M64.6 519.50 h22 M64.6 503.50 h11 M64.6 486.50 h11 M64.6 469.50 h11 M64.6 453.50 h22 M64.6 436.50 h11 M64.6 419.50 h11 M64.6 403.50 h11 M64.6 386.50 h22 M64.6 369.50 h11 M78.50 653.2 v-7.8 M92.50 653.2 v-15 M106.50 653.2 v-7.8 M120.50 653.2 v-7.8 M134.50 653.2 v-7.8 M147.50 653.2 v-15 M161.50 653.2 v-7.8 M175.50 653.2 v-7.8 M189.50 653.2 v-7.8 M203.50 653.2 v-15 M217.50 653.2 v-7.8 M231.50 653.2 v-7.8 M245.50 653.2 v-7.8 M259.50 653.2 v-15 M273.50 653.2 v-7.8 M287.50 653.2 v-7.8 M301.50 653.2 v-7.8 M315.50 653.2 v-15 M329.50 653.2 v-7.8 M342.50 653.2 v-7.8 M356.50 653.2 v-7.8 M370.50 653.2 v-15 M384.50 653.2 v-7.8 M398.50 653.2 v-7.8 M412.50 653.2 v-7.8 M426.50 653.2 v-15 M440.50 653.2 v-7.8 M454.50 653.2 v-7.8 M468.50 653.2 v-7.8 M482.50 653.2 v-15" stroke="#000" stroke-width="1.2" fill="none"/>
<text transform="translate(57 393.39) scale(1.0 1)" text-anchor="end" font-size="15.6">100</text>
<text transform="translate(57 460.01) scale(1.0 1)" text-anchor="end" font-size="15.6">80</text>
<text transform="translate(57 526.63) scale(1.0 1)" text-anchor="end" font-size="15.6">60</text>
<text transform="translate(57 593.25) scale(1.0 1)" text-anchor="end" font-size="15.6">40</text>
<text transform="translate(57 659.87) scale(1.0 1)" text-anchor="end" font-size="15.6">20</text>
<text transform="translate(92.26 671.48) scale(1.0 1)" text-anchor="middle" font-size="15.6">20</text>
<text transform="translate(147.98 671.48) scale(1.0 1)" text-anchor="middle" font-size="15.6">40</text>
<text transform="translate(203.70 671.48) scale(1.0 1)" text-anchor="middle" font-size="15.6">60</text>
<text transform="translate(259.42 671.48) scale(1.0 1)" text-anchor="middle" font-size="15.6">80</text>
<text transform="translate(315.14 671.48) scale(1.0 1)" text-anchor="middle" font-size="15.6">100</text>
<text transform="translate(370.86 671.48) scale(1.0 1)" text-anchor="middle" font-size="15.6">120</text>
<text transform="translate(426.58 671.48) scale(1.0 1)" text-anchor="middle" font-size="15.6">140</text>
<text transform="translate(482.30 671.48) scale(1.0 1)" text-anchor="middle" font-size="15.6">160</text>
<text transform="translate(130 687.7) scale(1.0 1)" font-size="15.9" letter-spacing="0.1">Average aboveground biomass (Mg ha<tspan font-size="5.5" dy="-8.2" dx="0.2">-1</tspan><tspan dy="8.2" dx="0.3">)</tspan></text>
<text transform="translate(18.8 596.7) rotate(-90)" font-size="15.8" letter-spacing="0.04">Prediction RMSE (Mg ha<tspan font-size="5.5" dy="-8.2" dx="0.2">-1</tspan><tspan dy="8.2" dx="0.3">)</tspan></text>
<path d="M106.9 373.10 H152.2" stroke="#000000" stroke-width="2.5"/>
<text transform="translate(161.7 379.33) scale(1.02 1)" font-size="17.4" word-spacing="-0.3">50 m</text>
<path d="M106.9 393.30 H152.2" stroke="#ff0000" stroke-width="2.3" stroke-dasharray="10 4.3 2 4.3 2 4.3 2 4.3" stroke-dashoffset="20.6"/>
<text transform="translate(161.7 399.53) scale(1.02 1)" font-size="17.4" word-spacing="-0.3">100 m</text>
<path d="M106.9 413.50 H152.2" stroke="#00008b" stroke-width="2.3" stroke-dasharray="6.8 4.2 2 4.2" stroke-dashoffset="11"/>
<text transform="translate(161.7 419.73) scale(1.02 1)" font-size="17.4" word-spacing="-0.3">150 m</text>
<path d="M106.9 433.70 H152.2" stroke="#008000" stroke-width="2.3" stroke-dasharray="8.5 8.3" stroke-dashoffset="0"/>
<text transform="translate(161.7 439.93) scale(1.02 1)" font-size="17.4" word-spacing="-0.3">200 m</text>
<path d="M106.9 453.90 H152.2" stroke="#800080" stroke-width="2.3" stroke-dasharray="2.2 6.2" stroke-dashoffset="0"/>
<text transform="translate(161.7 460.13) scale(1.02 1)" font-size="17.4" word-spacing="-0.3">250 m</text>
<path d="M106.9 474.10 H152.2" stroke="#a01010" stroke-width="2.3" stroke-dasharray="10.3 6.5" stroke-dashoffset="0"/>
<text transform="translate(161.7 480.33) scale(1.02 1)" font-size="17.4" word-spacing="-0.3">500 m</text>
<path d="M112.00 628.50 L112.53 627.74 L113.25 626.67 L114.12 625.42 L115.12 624.12 L116.20 622.90 L117.41 621.80 L118.77 620.71 L120.21 619.61 L121.68 618.46 L123.10 617.20 L124.52 615.77 L125.97 614.20 L127.41 612.58 L128.77 611.05 L130.00 609.70 L131.03 608.60 L131.89 607.67 L132.70 606.82 L133.56 605.96 L134.60 605.00 L135.85 603.89 L137.23 602.69 L138.69 601.47 L140.17 600.32 L141.60 599.30 L142.99 598.50 L144.37 597.85 L145.74 597.26 L147.12 596.61 L148.50 595.80 L149.90 594.74 L151.31 593.51 L152.72 592.22 L154.09 591.01 L155.40 590.00 L156.59 589.27 L157.69 588.74 L158.77 588.29 L159.91 587.78 L161.20 587.10 L162.69 586.19 L164.33 585.13 L166.04 584.00 L167.72 582.90 L169.30 581.90 L170.76 581.04 L172.15 580.27 L173.50 579.53 L174.84 578.76 L176.20 577.90 L177.58 576.94 L178.96 575.91 L180.33 574.84 L181.71 573.76 L183.10 572.70 L184.50 571.67 L185.90 570.65 L187.30 569.62 L188.70 568.58 L190.10 567.50 L191.51 566.34 L192.95 565.10 L194.37 563.87 L195.73 562.71 L197.00 561.70 L198.09 560.91 L199.04 560.28 L199.96 559.72 L200.97 559.13 L202.20 558.40 L203.75 557.49 L205.53 556.46 L207.40 555.38 L209.20 554.34 L210.80 553.40 L212.09 552.64 L213.19 552.00 L214.21 551.38 L215.31 550.68 L216.60 549.80 L218.19 548.63 L219.97 547.24 L221.83 545.78 L223.61 544.42 L225.20 543.30 L226.49 542.54 L227.58 542.02 L228.61 541.60 L229.70 541.11 L231.00 540.40 L232.60 539.39 L234.42 538.18 L236.30 536.90 L238.11 535.67 L239.70 534.60 L240.99 533.73 L242.07 532.97 L243.07 532.28 L244.14 531.64 L245.40 531.00 L246.94 530.34 L248.66 529.69 L250.45 529.08 L252.20 528.53 L253.80 528.10 L255.16 527.81 L256.36 527.63 L257.51 527.52 L258.75 527.43 L260.20 527.30 L261.93 527.15 L263.85 527.02 L265.87 526.88 L267.85 526.71 L269.70 526.50 L271.38 526.26 L272.97 525.99 L274.51 525.69 L276.04 525.33 L277.60 524.90 L279.20 524.34 L280.80 523.67 L282.40 522.97 L284.00 522.30 L285.60 521.75 L287.21 521.36 L288.83 521.08 L290.45 520.84 L292.01 520.57 L293.50 520.20 L294.88 519.68 L296.17 519.05 L297.42 518.39 L298.68 517.78 L300.00 517.30 L301.35 517.02 L302.70 516.89 L304.09 516.80 L305.54 516.64 L307.10 516.30 L308.79 515.70 L310.60 514.90 L312.46 514.04 L314.35 513.26 L316.20 512.70 L318.04 512.36 L319.89 512.16 L321.74 512.07 L323.55 512.09 L325.30 512.20 L327.03 512.45 L328.77 512.86 L330.43 513.34 L331.97 513.82 L333.30 514.20 L334.37 514.52 L335.23 514.83 L335.95 515.10 L336.65 515.27 L337.40 515.30 L338.14 515.16 L338.81 514.87 L339.51 514.50 L340.34 514.09 L341.40 513.70 L342.76 513.25 L344.34 512.71 L346.06 512.20 L347.81 511.82 L349.50 511.70 L351.14 511.93 L352.79 512.44 L354.44 513.08 L356.05 513.72 L357.60 514.20 L359.05 514.57 L360.43 514.92 L361.77 515.19 L363.15 515.34 L364.60 515.30 L366.11 515.02 L367.66 514.53 L369.25 513.92 L370.92 513.29 L372.70 512.70 L374.54 512.16 L376.43 511.59 L378.42 511.03 L380.59 510.50 L383.00 510.00 L385.89 509.51 L389.22 509.01 L392.62 508.55 L395.73 508.20 L398.20 508.00 L399.82 508.11 L400.83 508.50 L401.54 508.93 L402.23 509.17 L403.20 509.00 L404.50 508.27 L405.94 507.13 L407.43 505.81 L408.91 504.49 L410.30 503.40 L411.55 502.57 L412.72 501.85 L413.87 501.20 L415.07 500.57 L416.40 499.90 L417.89 499.16 L419.51 498.38 L421.17 497.62 L422.83 496.94 L424.40 496.40 L425.85 496.09 L427.21 495.97 L428.56 495.90 L429.97 495.76 L431.50 495.40 L433.24 494.77 L435.14 493.95 L437.08 493.05 L438.94 492.13 L440.60 491.30 L441.98 490.60 L443.16 489.98 L444.27 489.36 L445.41 488.66 L446.70 487.80 L448.22 486.68 L449.90 485.35 L451.62 483.97 L453.26 482.70 L454.70 481.70 L455.87 481.05 L456.85 480.64 L457.75 480.35 L458.69 480.08 L459.80 479.70 L461.06 479.23 L462.39 478.74 L463.81 478.21 L465.34 477.64 L467.00 477.00 L468.93 476.23 L471.13 475.36 L473.37 474.45 L475.43 473.60 L477.10 472.90 L478.34 472.35 L479.29 471.89 L480.02 471.52 L480.57 471.22 L481.00 471.00" fill="none" stroke="#a01010" stroke-width="2.3" stroke-dasharray="10.3 6.5" stroke-linejoin="round"/>
<path d="M107.50 631.76 L108.50 631.04 L109.50 630.33 L110.50 629.63 L111.50 628.92 L112.50 628.22 L113.50 627.52 L114.50 626.82 L115.50 626.13 L116.50 625.44 L117.50 624.75 L118.50 624.06 L119.50 623.38 L120.50 622.70 L121.50 622.02 L122.50 621.34 L123.50 620.67 L124.50 620.00 L125.50 619.33 L126.50 618.67 L127.50 618.01 L128.50 617.35 L129.50 616.69 L130.50 616.04 L131.50 615.39 L132.50 614.74 L133.50 614.09 L134.50 613.45 L135.50 612.81 L136.50 612.18 L137.50 611.54 L138.50 610.91 L139.50 610.28 L140.50 609.66 L141.50 609.04 L142.50 608.42 L143.50 607.80 L144.50 607.19 L145.50 606.58 L146.50 605.97 L147.50 605.37 L148.50 604.77 L149.50 604.17 L150.50 603.58 L151.50 602.98 L152.50 602.39 L153.50 601.81 L154.50 601.23 L155.50 600.65 L156.50 600.07 L157.50 599.50 L158.50 598.93 L159.50 598.36 L160.50 597.80 L161.50 597.24 L162.50 596.68 L163.50 596.12 L164.50 595.57 L165.50 595.03 L166.50 594.48 L167.50 593.94 L168.50 593.40 L169.50 592.87 L170.50 592.33 L171.50 591.81 L172.50 591.28 L173.50 590.76 L174.50 590.24 L175.50 589.73 L176.50 589.21 L177.50 588.71 L178.50 588.20 L179.50 587.70 L180.50 587.20 L181.50 586.71 L182.50 586.22 L183.50 585.73 L184.50 585.24 L185.50 584.76 L186.50 584.28 L187.50 583.80 L188.50 583.33 L189.50 582.86 L190.50 582.40 L191.50 581.93 L192.50 581.47 L193.50 581.01 L194.50 580.56 L195.50 580.10 L196.50 579.65 L197.50 579.21 L198.50 578.76 L199.50 578.32 L200.50 577.88 L201.50 577.44 L202.50 577.01 L203.50 576.57 L204.50 576.14 L205.50 575.72 L206.50 575.29 L207.50 574.87 L208.50 574.45 L209.50 574.03 L210.50 573.61 L211.50 573.20 L212.50 572.79 L213.50 572.37 L214.50 571.97 L215.50 571.56 L216.50 571.16 L217.50 570.75 L218.50 570.35 L219.50 569.95 L220.50 569.56 L221.50 569.16 L222.50 568.77 L223.50 568.37 L224.50 567.98 L225.50 567.59 L226.50 567.21 L227.50 566.82 L228.50 566.44 L229.50 566.05 L230.50 565.67 L231.50 565.29 L232.50 564.91 L233.50 564.53 L234.50 564.15 L235.50 563.78 L236.50 563.40 L237.50 563.03 L238.50 562.66 L239.50 562.28 L240.50 561.91 L241.50 561.54 L242.50 561.18 L243.50 560.81 L244.50 560.44 L245.50 560.08 L246.50 559.71 L247.50 559.35 L248.50 558.99 L249.50 558.63 L250.50 558.27 L251.50 557.91 L252.50 557.55 L253.50 557.19 L254.50 556.84 L255.50 556.49 L256.50 556.13 L257.50 555.78 L258.50 555.43 L259.50 555.08 L260.50 554.74 L261.50 554.39 L262.50 554.05 L263.50 553.70 L264.50 553.36 L265.50 553.02 L266.50 552.68 L267.50 552.35 L268.50 552.01 L269.50 551.68 L270.50 551.34 L271.50 551.01 L272.50 550.68 L273.50 550.35 L274.50 550.02 L275.50 549.70 L276.50 549.37 L277.50 549.05 L278.50 548.73 L279.50 548.41 L280.50 548.09 L281.50 547.78 L282.50 547.46 L283.50 547.15 L284.50 546.84 L285.50 546.53 L286.50 546.22 L287.50 545.92 L288.50 545.61 L289.50 545.31 L290.50 545.01 L291.50 544.71 L292.50 544.41 L293.50 544.12 L294.50 543.82 L295.50 543.53 L296.50 543.24 L297.50 542.95 L298.50 542.67 L299.50 542.38 L300.50 542.10 L301.50 541.82 L302.50 541.54 L303.50 541.27 L304.50 540.99 L305.50 540.72 L306.50 540.45 L307.50 540.17 L308.50 539.90 L309.50 539.63 L310.50 539.35 L311.50 539.07 L312.50 538.79 L313.50 538.51 L314.50 538.22 L315.50 537.92 L316.50 537.62 L317.50 537.31 L318.50 536.99 L319.50 536.67 L320.50 536.33 L321.50 535.99 L322.50 535.64 L323.50 535.27 L324.50 534.90 L325.50 534.51 L326.50 534.11 L327.50 533.69 L328.50 533.26 L329.50 532.82 L330.50 532.36 L331.50 531.90 L332.50 531.43 L333.50 530.96 L334.50 530.48 L335.50 530.00 L336.50 529.52 L337.50 529.04 L338.50 528.57 L339.50 528.10 L340.50 527.64 L341.50 527.18 L342.50 526.74 L343.50 526.31 L344.50 525.89 L345.50 525.48 L346.50 525.09 L347.50 524.70 L348.50 524.33 L349.50 523.97 L350.50 523.62 L351.50 523.28 L352.50 522.94 L353.50 522.62 L354.50 522.31 L355.50 522.00 L356.50 521.70 L357.50 521.41 L358.50 521.13 L359.50 520.85 L360.50 520.58 L361.50 520.31 L362.50 520.05 L363.50 519.80 L364.50 519.55 L365.50 519.30 L366.50 519.06 L367.50 518.82 L368.50 518.59 L369.50 518.35 L370.50 518.12 L371.50 517.89 L372.50 517.65 L373.50 517.42 L374.50 517.18 L375.50 516.93 L376.50 516.69 L377.50 516.43 L378.50 516.17 L379.50 515.90 L380.50 515.63 L381.50 515.34 L382.50 515.04 L383.50 514.73 L384.50 514.41 L385.50 514.08 L386.50 513.73 L387.50 513.37 L388.50 512.99 L389.50 512.59 L390.50 512.17 L391.50 511.74 L392.50 511.29 L393.50 510.81 L394.50 510.33 L395.50 509.82 L396.50 509.31 L397.50 508.78 L398.50 508.24 L399.50 507.69 L400.50 507.13 L401.50 506.56 L402.50 505.99 L403.50 505.41 L404.50 504.83 L405.50 504.25 L406.50 503.67 L407.50 503.08 L408.50 502.50 L409.50 501.93 L410.50 501.35 L411.50 500.79 L412.50 500.23 L413.50 499.68 L414.50 499.14 L415.50 498.61 L416.50 498.09 L417.50 497.58 L418.50 497.09 L419.50 496.62 L420.50 496.17 L421.50 495.73 L422.50 495.31 L423.50 494.90 L424.50 494.50 L425.50 494.10 L426.50 493.71 L427.50 493.31 L428.50 492.92 L429.50 492.51 L430.50 492.10 L431.50 491.67 L432.50 491.22 L433.50 490.75 L434.50 490.26 L435.50 489.75 L436.50 489.20 L437.50 488.63 L438.50 488.03 L439.50 487.41 L440.50 486.77 L441.50 486.11 L442.50 485.44 L443.50 484.75 L444.50 484.06 L445.50 483.36 L446.50 482.65 L447.50 481.94 L448.50 481.24 L449.50 480.53 L450.50 479.84 L451.50 479.15 L452.50 478.47 L453.50 477.81 L454.50 477.16 L455.50 476.53 L456.50 475.92 L457.50 475.34 L458.50 474.78 L459.50 474.23 L460.50 473.71 L461.50 473.20 L462.50 472.70 L463.50 472.21 L464.50 471.72 L465.50 471.25 L466.50 470.78 L467.50 470.30 L468.50 469.83 L469.50 469.36 L470.50 468.88 L471.50 468.39 L472.50 467.89 L473.50 467.38 L474.50 466.86 L475.50 466.32 L476.50 465.76 L477.50 465.18 L478.50 464.58 L479.50 463.95 L480.50 463.29 L481.10 462.89" fill="none" stroke="#800080" stroke-width="2.3" stroke-dasharray="2.2 6.2" stroke-linejoin="round"/>
<path d="M100.90 639.99 L101.90 639.46 L102.90 638.93 L103.90 638.38 L104.90 637.84 L105.90 637.28 L106.90 636.72 L107.90 636.16 L108.90 635.59 L109.90 635.02 L110.90 634.44 L111.90 633.86 L112.90 633.28 L113.90 632.69 L114.90 632.10 L115.90 631.51 L116.90 630.91 L117.90 630.31 L118.90 629.71 L119.90 629.10 L120.90 628.50 L121.90 627.89 L122.90 627.28 L123.90 626.67 L124.90 626.06 L125.90 625.45 L126.90 624.84 L127.90 624.23 L128.90 623.62 L129.90 623.00 L130.90 622.39 L131.90 621.78 L132.90 621.17 L133.90 620.57 L134.90 619.96 L135.90 619.35 L136.90 618.75 L137.90 618.15 L138.90 617.55 L139.90 616.95 L140.90 616.36 L141.90 615.77 L142.90 615.18 L143.90 614.60 L144.90 614.02 L145.90 613.44 L146.90 612.87 L147.90 612.30 L148.90 611.74 L149.90 611.18 L150.90 610.62 L151.90 610.07 L152.90 609.52 L153.90 608.98 L154.90 608.44 L155.90 607.90 L156.90 607.37 L157.90 606.84 L158.90 606.31 L159.90 605.79 L160.90 605.27 L161.90 604.75 L162.90 604.24 L163.90 603.74 L164.90 603.23 L165.90 602.73 L166.90 602.23 L167.90 601.74 L168.90 601.25 L169.90 600.76 L170.90 600.28 L171.90 599.80 L172.90 599.32 L173.90 598.85 L174.90 598.38 L175.90 597.91 L176.90 597.45 L177.90 596.99 L178.90 596.53 L179.90 596.08 L180.90 595.63 L181.90 595.18 L182.90 594.74 L183.90 594.30 L184.90 593.86 L185.90 593.43 L186.90 592.99 L187.90 592.57 L188.90 592.14 L189.90 591.72 L190.90 591.30 L191.90 590.88 L192.90 590.47 L193.90 590.06 L194.90 589.65 L195.90 589.24 L196.90 588.84 L197.90 588.44 L198.90 588.04 L199.90 587.65 L200.90 587.26 L201.90 586.87 L202.90 586.48 L203.90 586.10 L204.90 585.72 L205.90 585.34 L206.90 584.97 L207.90 584.59 L208.90 584.22 L209.90 583.86 L210.90 583.49 L211.90 583.13 L212.90 582.77 L213.90 582.41 L214.90 582.05 L215.90 581.70 L216.90 581.35 L217.90 581.00 L218.90 580.65 L219.90 580.31 L220.90 579.96 L221.90 579.62 L222.90 579.29 L223.90 578.95 L224.90 578.62 L225.90 578.29 L226.90 577.96 L227.90 577.63 L228.90 577.30 L229.90 576.98 L230.90 576.66 L231.90 576.34 L232.90 576.02 L233.90 575.70 L234.90 575.39 L235.90 575.07 L236.90 574.76 L237.90 574.45 L238.90 574.14 L239.90 573.84 L240.90 573.53 L241.90 573.23 L242.90 572.92 L243.90 572.62 L244.90 572.31 L245.90 572.00 L246.90 571.68 L247.90 571.36 L248.90 571.04 L249.90 570.70 L250.90 570.37 L251.90 570.02 L252.90 569.66 L253.90 569.30 L254.90 568.92 L255.90 568.54 L256.90 568.14 L257.90 567.73 L258.90 567.32 L259.90 566.90 L260.90 566.48 L261.90 566.05 L262.90 565.63 L263.90 565.20 L264.90 564.78 L265.90 564.36 L266.90 563.95 L267.90 563.54 L268.90 563.14 L269.90 562.75 L270.90 562.37 L271.90 562.00 L272.90 561.64 L273.90 561.29 L274.90 560.94 L275.90 560.60 L276.90 560.27 L277.90 559.95 L278.90 559.63 L279.90 559.32 L280.90 559.01 L281.90 558.71 L282.90 558.41 L283.90 558.11 L284.90 557.82 L285.90 557.53 L286.90 557.25 L287.90 556.96 L288.90 556.68 L289.90 556.40 L290.90 556.12 L291.90 555.84 L292.90 555.56 L293.90 555.27 L294.90 554.99 L295.90 554.71 L296.90 554.42 L297.90 554.13 L298.90 553.84 L299.90 553.55 L300.90 553.25 L301.90 552.95 L302.90 552.65 L303.90 552.34 L304.90 552.02 L305.90 551.71 L306.90 551.39 L307.90 551.07 L308.90 550.74 L309.90 550.41 L310.90 550.08 L311.90 549.74 L312.90 549.40 L313.90 549.05 L314.90 548.71 L315.90 548.36 L316.90 548.00 L317.90 547.65 L318.90 547.29 L319.90 546.92 L320.90 546.56 L321.90 546.19 L322.90 545.81 L323.90 545.44 L324.90 545.06 L325.90 544.68 L326.90 544.29 L327.90 543.91 L328.90 543.51 L329.90 543.12 L330.90 542.72 L331.90 542.33 L332.90 541.92 L333.90 541.52 L334.90 541.11 L335.90 540.70 L336.90 540.29 L337.90 539.87 L338.90 539.45 L339.90 539.03 L340.90 538.61 L341.90 538.18 L342.90 537.75 L343.90 537.32 L344.90 536.89 L345.90 536.45 L346.90 536.02 L347.90 535.57 L348.90 535.13 L349.90 534.69 L350.90 534.24 L351.90 533.79 L352.90 533.34 L353.90 532.88 L354.90 532.43 L355.90 531.97 L356.90 531.51 L357.90 531.04 L358.90 530.58 L359.90 530.11 L360.90 529.64 L361.90 529.17 L362.90 528.70 L363.90 528.22 L364.90 527.75 L365.90 527.27 L366.90 526.79 L367.90 526.30 L368.90 525.82 L369.90 525.33 L370.90 524.85 L371.90 524.36 L372.90 523.87 L373.90 523.37 L374.90 522.88 L375.90 522.38 L376.90 521.89 L377.90 521.39 L378.90 520.89 L379.90 520.39 L380.90 519.88 L381.90 519.38 L382.90 518.87 L383.90 518.37 L384.90 517.86 L385.90 517.35 L386.90 516.84 L387.90 516.33 L388.90 515.81 L389.90 515.30 L390.90 514.78 L391.90 514.27 L392.90 513.75 L393.90 513.23 L394.90 512.71 L395.90 512.19 L396.90 511.67 L397.90 511.14 L398.90 510.62 L399.90 510.09 L400.90 509.56 L401.90 509.03 L402.90 508.49 L403.90 507.95 L404.90 507.41 L405.90 506.87 L406.90 506.32 L407.90 505.77 L408.90 505.22 L409.90 504.66 L410.90 504.09 L411.90 503.53 L412.90 502.95 L413.90 502.38 L414.90 501.80 L415.90 501.21 L416.90 500.62 L417.90 500.02 L418.90 499.42 L419.90 498.81 L420.90 498.19 L421.90 497.57 L422.90 496.94 L423.90 496.31 L424.90 495.66 L425.90 495.02 L426.90 494.36 L427.90 493.70 L428.90 493.04 L429.90 492.37 L430.90 491.70 L431.90 491.02 L432.90 490.34 L433.90 489.66 L434.90 488.98 L435.90 488.29 L436.90 487.61 L437.90 486.92 L438.90 486.23 L439.90 485.54 L440.90 484.86 L441.90 484.17 L442.90 483.49 L443.90 482.81 L444.90 482.13 L445.90 481.45 L446.90 480.78 L447.90 480.11 L448.90 479.44 L449.90 478.78 L450.90 478.13 L451.90 477.48 L452.90 476.84 L453.90 476.20 L454.90 475.56 L455.90 474.93 L456.90 474.30 L457.90 473.68 L458.90 473.05 L459.90 472.43 L460.90 471.80 L461.90 471.17 L462.90 470.54 L463.90 469.91 L464.90 469.27 L465.90 468.63 L466.90 467.98 L467.90 467.32 L468.90 466.66 L469.90 465.99 L470.90 465.31 L471.90 464.62 L472.90 463.92 L473.90 463.21 L474.90 462.49 L475.90 461.75 L476.90 461.00 L477.90 460.23 L478.90 459.45 L479.90 458.65 L480.90 457.83 L481.60 457.25" fill="none" stroke="#008000" stroke-width="2.3" stroke-dasharray="8.5 8.3" stroke-linejoin="round"/>
<path d="M96.00 645.44 L97.00 644.83 L98.00 644.22 L99.00 643.61 L100.00 643.01 L101.00 642.42 L102.00 641.83 L103.00 641.24 L104.00 640.66 L105.00 640.08 L106.00 639.51 L107.00 638.95 L108.00 638.38 L109.00 637.82 L110.00 637.27 L111.00 636.72 L112.00 636.18 L113.00 635.63 L114.00 635.10 L115.00 634.57 L116.00 634.04 L117.00 633.51 L118.00 632.99 L119.00 632.48 L120.00 631.97 L121.00 631.46 L122.00 630.95 L123.00 630.45 L124.00 629.96 L125.00 629.46 L126.00 628.97 L127.00 628.49 L128.00 628.01 L129.00 627.53 L130.00 627.05 L131.00 626.58 L132.00 626.11 L133.00 625.65 L134.00 625.19 L135.00 624.73 L136.00 624.27 L137.00 623.82 L138.00 623.37 L139.00 622.93 L140.00 622.48 L141.00 622.04 L142.00 621.61 L143.00 621.17 L144.00 620.74 L145.00 620.31 L146.00 619.89 L147.00 619.46 L148.00 619.04 L149.00 618.63 L150.00 618.21 L151.00 617.80 L152.00 617.39 L153.00 616.98 L154.00 616.58 L155.00 616.17 L156.00 615.77 L157.00 615.37 L158.00 614.98 L159.00 614.58 L160.00 614.19 L161.00 613.80 L162.00 613.41 L163.00 613.02 L164.00 612.64 L165.00 612.26 L166.00 611.88 L167.00 611.50 L168.00 611.12 L169.00 610.74 L170.00 610.37 L171.00 610.00 L172.00 609.63 L173.00 609.26 L174.00 608.89 L175.00 608.52 L176.00 608.16 L177.00 607.79 L178.00 607.43 L179.00 607.07 L180.00 606.71 L181.00 606.35 L182.00 605.99 L183.00 605.63 L184.00 605.27 L185.00 604.92 L186.00 604.56 L187.00 604.21 L188.00 603.85 L189.00 603.50 L190.00 603.15 L191.00 602.80 L192.00 602.45 L193.00 602.10 L194.00 601.75 L195.00 601.40 L196.00 601.05 L197.00 600.70 L198.00 600.35 L199.00 600.00 L200.00 599.65 L201.00 599.31 L202.00 598.96 L203.00 598.61 L204.00 598.26 L205.00 597.92 L206.00 597.57 L207.00 597.22 L208.00 596.87 L209.00 596.52 L210.00 596.17 L211.00 595.82 L212.00 595.47 L213.00 595.12 L214.00 594.77 L215.00 594.42 L216.00 594.07 L217.00 593.72 L218.00 593.37 L219.00 593.02 L220.00 592.67 L221.00 592.31 L222.00 591.96 L223.00 591.61 L224.00 591.25 L225.00 590.90 L226.00 590.54 L227.00 590.18 L228.00 589.83 L229.00 589.47 L230.00 589.11 L231.00 588.75 L232.00 588.39 L233.00 588.04 L234.00 587.67 L235.00 587.31 L236.00 586.95 L237.00 586.59 L238.00 586.22 L239.00 585.86 L240.00 585.50 L241.00 585.13 L242.00 584.76 L243.00 584.39 L244.00 584.03 L245.00 583.66 L246.00 583.29 L247.00 582.92 L248.00 582.54 L249.00 582.17 L250.00 581.80 L251.00 581.42 L252.00 581.04 L253.00 580.67 L254.00 580.29 L255.00 579.91 L256.00 579.53 L257.00 579.15 L258.00 578.76 L259.00 578.38 L260.00 578.00 L261.00 577.61 L262.00 577.22 L263.00 576.83 L264.00 576.44 L265.00 576.05 L266.00 575.66 L267.00 575.27 L268.00 574.87 L269.00 574.48 L270.00 574.08 L271.00 573.68 L272.00 573.28 L273.00 572.88 L274.00 572.47 L275.00 572.07 L276.00 571.66 L277.00 571.26 L278.00 570.85 L279.00 570.44 L280.00 570.02 L281.00 569.61 L282.00 569.20 L283.00 568.78 L284.00 568.36 L285.00 567.94 L286.00 567.52 L287.00 567.10 L288.00 566.67 L289.00 566.24 L290.00 565.82 L291.00 565.39 L292.00 564.95 L293.00 564.52 L294.00 564.08 L295.00 563.65 L296.00 563.21 L297.00 562.77 L298.00 562.33 L299.00 561.88 L300.00 561.43 L301.00 560.99 L302.00 560.54 L303.00 560.08 L304.00 559.63 L305.00 559.17 L306.00 558.72 L307.00 558.26 L308.00 557.79 L309.00 557.33 L310.00 556.86 L311.00 556.40 L312.00 555.93 L313.00 555.45 L314.00 554.98 L315.00 554.50 L316.00 554.02 L317.00 553.54 L318.00 553.06 L319.00 552.57 L320.00 552.09 L321.00 551.60 L322.00 551.10 L323.00 550.61 L324.00 550.11 L325.00 549.61 L326.00 549.11 L327.00 548.61 L328.00 548.10 L329.00 547.59 L330.00 547.08 L331.00 546.57 L332.00 546.05 L333.00 545.53 L334.00 545.01 L335.00 544.49 L336.00 543.96 L337.00 543.43 L338.00 542.90 L339.00 542.37 L340.00 541.83 L341.00 541.29 L342.00 540.75 L343.00 540.21 L344.00 539.66 L345.00 539.11 L346.00 538.56 L347.00 538.00 L348.00 537.45 L349.00 536.89 L350.00 536.33 L351.00 535.76 L352.00 535.20 L353.00 534.63 L354.00 534.05 L355.00 533.48 L356.00 532.90 L357.00 532.33 L358.00 531.74 L359.00 531.16 L360.00 530.57 L361.00 529.98 L362.00 529.39 L363.00 528.80 L364.00 528.20 L365.00 527.61 L366.00 527.01 L367.00 526.40 L368.00 525.80 L369.00 525.19 L370.00 524.58 L371.00 523.97 L372.00 523.35 L373.00 522.73 L374.00 522.11 L375.00 521.49 L376.00 520.87 L377.00 520.24 L378.00 519.61 L379.00 518.98 L380.00 518.35 L381.00 517.71 L382.00 517.07 L383.00 516.43 L384.00 515.79 L385.00 515.15 L386.00 514.50 L387.00 513.85 L388.00 513.20 L389.00 512.54 L390.00 511.89 L391.00 511.23 L392.00 510.57 L393.00 509.90 L394.00 509.24 L395.00 508.57 L396.00 507.90 L397.00 507.23 L398.00 506.56 L399.00 505.88 L400.00 505.20 L401.00 504.52 L402.00 503.84 L403.00 503.16 L404.00 502.47 L405.00 501.78 L406.00 501.09 L407.00 500.40 L408.00 499.70 L409.00 499.00 L410.00 498.31 L411.00 497.60 L412.00 496.90 L413.00 496.19 L414.00 495.49 L415.00 494.78 L416.00 494.07 L417.00 493.35 L418.00 492.64 L419.00 491.92 L420.00 491.20 L421.00 490.48 L422.00 489.75 L423.00 489.03 L424.00 488.30 L425.00 487.57 L426.00 486.84 L427.00 486.10 L428.00 485.37 L429.00 484.63 L430.00 483.89 L431.00 483.15 L432.00 482.40 L433.00 481.66 L434.00 480.91 L435.00 480.16 L436.00 479.41 L437.00 478.65 L438.00 477.90 L439.00 477.14 L440.00 476.38 L441.00 475.62 L442.00 474.86 L443.00 474.09 L444.00 473.33 L445.00 472.56 L446.00 471.79 L447.00 471.01 L448.00 470.24 L449.00 469.46 L450.00 468.69 L451.00 467.91 L452.00 467.13 L453.00 466.34 L454.00 465.56 L455.00 464.77 L456.00 463.98 L457.00 463.19 L458.00 462.40 L459.00 461.61 L460.00 460.81 L461.00 460.01 L462.00 459.21 L463.00 458.41 L464.00 457.61 L465.00 456.80 L466.00 456.00 L467.00 455.19 L468.00 454.38 L469.00 453.57 L470.00 452.76 L471.00 451.94 L472.00 451.13 L473.00 450.31 L474.00 449.49 L475.00 448.67 L476.00 447.84 L477.00 447.02 L478.00 446.19 L479.00 445.36 L480.00 444.53 L481.00 443.70 L481.10 443.62" fill="none" stroke="#00008b" stroke-width="2.3" stroke-dasharray="6.8 4.2 2 4.2" stroke-linejoin="round"/>
<path d="M91.50 651.10 L92.50 650.52 L93.50 649.93 L94.50 649.32 L95.50 648.71 L96.50 648.08 L97.50 647.45 L98.50 646.82 L99.50 646.18 L100.50 645.53 L101.50 644.89 L102.50 644.24 L103.50 643.60 L104.50 642.95 L105.50 642.31 L106.50 641.68 L107.50 641.05 L108.50 640.42 L109.50 639.81 L110.50 639.20 L111.50 638.60 L112.50 638.02 L113.50 637.44 L114.50 636.87 L115.50 636.31 L116.50 635.76 L117.50 635.22 L118.50 634.69 L119.50 634.17 L120.50 633.66 L121.50 633.15 L122.50 632.65 L123.50 632.16 L124.50 631.68 L125.50 631.20 L126.50 630.73 L127.50 630.27 L128.50 629.82 L129.50 629.37 L130.50 628.92 L131.50 628.49 L132.50 628.06 L133.50 627.63 L134.50 627.21 L135.50 626.80 L136.50 626.39 L137.50 625.98 L138.50 625.59 L139.50 625.19 L140.50 624.80 L141.50 624.42 L142.50 624.03 L143.50 623.66 L144.50 623.29 L145.50 622.92 L146.50 622.56 L147.50 622.20 L148.50 621.84 L149.50 621.49 L150.50 621.14 L151.50 620.80 L152.50 620.46 L153.50 620.12 L154.50 619.79 L155.50 619.45 L156.50 619.13 L157.50 618.80 L158.50 618.48 L159.50 618.16 L160.50 617.85 L161.50 617.54 L162.50 617.23 L163.50 616.92 L164.50 616.61 L165.50 616.31 L166.50 616.01 L167.50 615.71 L168.50 615.41 L169.50 615.12 L170.50 614.83 L171.50 614.53 L172.50 614.25 L173.50 613.96 L174.50 613.67 L175.50 613.39 L176.50 613.10 L177.50 612.82 L178.50 612.54 L179.50 612.26 L180.50 611.98 L181.50 611.70 L182.50 611.42 L183.50 611.14 L184.50 610.87 L185.50 610.59 L186.50 610.31 L187.50 610.04 L188.50 609.76 L189.50 609.49 L190.50 609.21 L191.50 608.94 L192.50 608.66 L193.50 608.38 L194.50 608.11 L195.50 607.83 L196.50 607.55 L197.50 607.27 L198.50 606.99 L199.50 606.71 L200.50 606.43 L201.50 606.14 L202.50 605.86 L203.50 605.57 L204.50 605.29 L205.50 605.00 L206.50 604.71 L207.50 604.42 L208.50 604.12 L209.50 603.83 L210.50 603.53 L211.50 603.23 L212.50 602.93 L213.50 602.63 L214.50 602.32 L215.50 602.01 L216.50 601.70 L217.50 601.39 L218.50 601.07 L219.50 600.75 L220.50 600.43 L221.50 600.10 L222.50 599.77 L223.50 599.44 L224.50 599.11 L225.50 598.77 L226.50 598.43 L227.50 598.08 L228.50 597.73 L229.50 597.38 L230.50 597.02 L231.50 596.66 L232.50 596.30 L233.50 595.93 L234.50 595.56 L235.50 595.18 L236.50 594.80 L237.50 594.42 L238.50 594.03 L239.50 593.64 L240.50 593.25 L241.50 592.85 L242.50 592.45 L243.50 592.05 L244.50 591.64 L245.50 591.23 L246.50 590.82 L247.50 590.40 L248.50 589.98 L249.50 589.56 L250.50 589.13 L251.50 588.70 L252.50 588.27 L253.50 587.83 L254.50 587.39 L255.50 586.95 L256.50 586.50 L257.50 586.05 L258.50 585.60 L259.50 585.15 L260.50 584.69 L261.50 584.23 L262.50 583.76 L263.50 583.30 L264.50 582.83 L265.50 582.36 L266.50 581.88 L267.50 581.40 L268.50 580.92 L269.50 580.44 L270.50 579.95 L271.50 579.46 L272.50 578.97 L273.50 578.47 L274.50 577.98 L275.50 577.48 L276.50 576.97 L277.50 576.47 L278.50 575.96 L279.50 575.45 L280.50 574.94 L281.50 574.42 L282.50 573.90 L283.50 573.38 L284.50 572.86 L285.50 572.34 L286.50 571.81 L287.50 571.28 L288.50 570.75 L289.50 570.21 L290.50 569.68 L291.50 569.14 L292.50 568.60 L293.50 568.06 L294.50 567.51 L295.50 566.96 L296.50 566.41 L297.50 565.86 L298.50 565.31 L299.50 564.75 L300.50 564.20 L301.50 563.64 L302.50 563.08 L303.50 562.51 L304.50 561.95 L305.50 561.38 L306.50 560.81 L307.50 560.24 L308.50 559.67 L309.50 559.09 L310.50 558.52 L311.50 557.94 L312.50 557.36 L313.50 556.78 L314.50 556.20 L315.50 555.61 L316.50 555.03 L317.50 554.44 L318.50 553.85 L319.50 553.26 L320.50 552.67 L321.50 552.07 L322.50 551.47 L323.50 550.87 L324.50 550.27 L325.50 549.67 L326.50 549.06 L327.50 548.45 L328.50 547.84 L329.50 547.23 L330.50 546.61 L331.50 545.99 L332.50 545.37 L333.50 544.74 L334.50 544.11 L335.50 543.48 L336.50 542.85 L337.50 542.21 L338.50 541.57 L339.50 540.92 L340.50 540.28 L341.50 539.63 L342.50 538.97 L343.50 538.31 L344.50 537.65 L345.50 536.98 L346.50 536.31 L347.50 535.64 L348.50 534.96 L349.50 534.27 L350.50 533.59 L351.50 532.89 L352.50 532.20 L353.50 531.50 L354.50 530.79 L355.50 530.09 L356.50 529.37 L357.50 528.66 L358.50 527.93 L359.50 527.21 L360.50 526.48 L361.50 525.75 L362.50 525.01 L363.50 524.27 L364.50 523.53 L365.50 522.78 L366.50 522.03 L367.50 521.27 L368.50 520.51 L369.50 519.75 L370.50 518.98 L371.50 518.21 L372.50 517.44 L373.50 516.66 L374.50 515.88 L375.50 515.10 L376.50 514.31 L377.50 513.52 L378.50 512.73 L379.50 511.93 L380.50 511.13 L381.50 510.33 L382.50 509.52 L383.50 508.71 L384.50 507.90 L385.50 507.08 L386.50 506.26 L387.50 505.44 L388.50 504.62 L389.50 503.79 L390.50 502.96 L391.50 502.13 L392.50 501.30 L393.50 500.46 L394.50 499.62 L395.50 498.78 L396.50 497.93 L397.50 497.08 L398.50 496.23 L399.50 495.38 L400.50 494.53 L401.50 493.67 L402.50 492.81 L403.50 491.95 L404.50 491.08 L405.50 490.22 L406.50 489.35 L407.50 488.48 L408.50 487.61 L409.50 486.73 L410.50 485.86 L411.50 484.98 L412.50 484.10 L413.50 483.22 L414.50 482.34 L415.50 481.45 L416.50 480.56 L417.50 479.68 L418.50 478.79 L419.50 477.89 L420.50 477.00 L421.50 476.11 L422.50 475.21 L423.50 474.31 L424.50 473.41 L425.50 472.51 L426.50 471.61 L427.50 470.71 L428.50 469.81 L429.50 468.90 L430.50 467.99 L431.50 467.09 L432.50 466.18 L433.50 465.27 L434.50 464.36 L435.50 463.45 L436.50 462.54 L437.50 461.62 L438.50 460.71 L439.50 459.79 L440.50 458.88 L441.50 457.96 L442.50 457.05 L443.50 456.13 L444.50 455.21 L445.50 454.29 L446.50 453.37 L447.50 452.46 L448.50 451.54 L449.50 450.62 L450.50 449.70 L451.50 448.78 L452.50 447.85 L453.50 446.93 L454.50 446.01 L455.50 445.09 L456.50 444.17 L457.50 443.25 L458.50 442.33 L459.50 441.41 L460.50 440.49 L461.50 439.56 L462.50 438.64 L463.50 437.72 L464.50 436.80 L465.50 435.88 L466.50 434.96 L467.50 434.04 L468.50 433.13 L469.50 432.21 L470.50 431.29 L471.50 430.37 L472.50 429.46 L473.50 428.54 L474.50 427.62 L475.50 426.71 L476.50 425.80 L477.50 424.88 L478.50 423.97 L479.50 423.06 L480.50 422.15 L481.50 421.24 L482.10 420.69" fill="none" stroke="#ff0000" stroke-width="2.3" stroke-dasharray="10 4.3 2 4.3 2 4.3 2 4.3" stroke-linejoin="round"/>
<path d="M87.60 645.97 L88.60 645.19 L89.60 644.43 L90.60 643.68 L91.60 642.95 L92.60 642.22 L93.60 641.51 L94.60 640.81 L95.60 640.12 L96.60 639.45 L97.60 638.79 L98.60 638.14 L99.60 637.50 L100.60 636.87 L101.60 636.25 L102.60 635.64 L103.60 635.05 L104.60 634.46 L105.60 633.89 L106.60 633.33 L107.60 632.78 L108.60 632.23 L109.60 631.70 L110.60 631.18 L111.60 630.67 L112.60 630.16 L113.60 629.67 L114.60 629.18 L115.60 628.71 L116.60 628.24 L117.60 627.78 L118.60 627.34 L119.60 626.90 L120.60 626.46 L121.60 626.04 L122.60 625.62 L123.60 625.22 L124.60 624.82 L125.60 624.42 L126.60 624.04 L127.60 623.66 L128.60 623.29 L129.60 622.93 L130.60 622.57 L131.60 622.22 L132.60 621.88 L133.60 621.54 L134.60 621.21 L135.60 620.89 L136.60 620.57 L137.60 620.26 L138.60 619.95 L139.60 619.65 L140.60 619.35 L141.60 619.06 L142.60 618.77 L143.60 618.49 L144.60 618.21 L145.60 617.94 L146.60 617.67 L147.60 617.41 L148.60 617.15 L149.60 616.89 L150.60 616.64 L151.60 616.39 L152.60 616.14 L153.60 615.90 L154.60 615.66 L155.60 615.42 L156.60 615.19 L157.60 614.96 L158.60 614.73 L159.60 614.50 L160.60 614.27 L161.60 614.05 L162.60 613.83 L163.60 613.61 L164.60 613.39 L165.60 613.17 L166.60 612.95 L167.60 612.74 L168.60 612.52 L169.60 612.30 L170.60 612.09 L171.60 611.87 L172.60 611.66 L173.60 611.44 L174.60 611.23 L175.60 611.01 L176.60 610.80 L177.60 610.58 L178.60 610.36 L179.60 610.14 L180.60 609.92 L181.60 609.70 L182.60 609.47 L183.60 609.25 L184.60 609.02 L185.60 608.79 L186.60 608.55 L187.60 608.32 L188.60 608.08 L189.60 607.84 L190.60 607.60 L191.60 607.35 L192.60 607.10 L193.60 606.84 L194.60 606.59 L195.60 606.33 L196.60 606.06 L197.60 605.80 L198.60 605.52 L199.60 605.25 L200.60 604.97 L201.60 604.69 L202.60 604.40 L203.60 604.12 L204.60 603.82 L205.60 603.53 L206.60 603.23 L207.60 602.93 L208.60 602.62 L209.60 602.31 L210.60 602.00 L211.60 601.68 L212.60 601.36 L213.60 601.03 L214.60 600.71 L215.60 600.38 L216.60 600.04 L217.60 599.70 L218.60 599.36 L219.60 599.02 L220.60 598.67 L221.60 598.31 L222.60 597.96 L223.60 597.60 L224.60 597.23 L225.60 596.87 L226.60 596.50 L227.60 596.12 L228.60 595.75 L229.60 595.36 L230.60 594.98 L231.60 594.59 L232.60 594.20 L233.60 593.80 L234.60 593.40 L235.60 593.00 L236.60 592.59 L237.60 592.18 L238.60 591.77 L239.60 591.35 L240.60 590.93 L241.60 590.50 L242.60 590.07 L243.60 589.64 L244.60 589.20 L245.60 588.76 L246.60 588.32 L247.60 587.87 L248.60 587.42 L249.60 586.97 L250.60 586.51 L251.60 586.05 L252.60 585.58 L253.60 585.11 L254.60 584.64 L255.60 584.16 L256.60 583.68 L257.60 583.19 L258.60 582.71 L259.60 582.21 L260.60 581.72 L261.60 581.22 L262.60 580.71 L263.60 580.21 L264.60 579.70 L265.60 579.18 L266.60 578.66 L267.60 578.14 L268.60 577.62 L269.60 577.09 L270.60 576.55 L271.60 576.01 L272.60 575.47 L273.60 574.93 L274.60 574.38 L275.60 573.83 L276.60 573.27 L277.60 572.71 L278.60 572.15 L279.60 571.58 L280.60 571.01 L281.60 570.43 L282.60 569.85 L283.60 569.27 L284.60 568.68 L285.60 568.09 L286.60 567.49 L287.60 566.89 L288.60 566.29 L289.60 565.68 L290.60 565.07 L291.60 564.46 L292.60 563.84 L293.60 563.22 L294.60 562.59 L295.60 561.96 L296.60 561.33 L297.60 560.69 L298.60 560.05 L299.60 559.40 L300.60 558.76 L301.60 558.10 L302.60 557.44 L303.60 556.78 L304.60 556.12 L305.60 555.45 L306.60 554.78 L307.60 554.10 L308.60 553.42 L309.60 552.74 L310.60 552.05 L311.60 551.36 L312.60 550.67 L313.60 549.97 L314.60 549.28 L315.60 548.57 L316.60 547.87 L317.60 547.16 L318.60 546.45 L319.60 545.73 L320.60 545.01 L321.60 544.29 L322.60 543.57 L323.60 542.84 L324.60 542.11 L325.60 541.38 L326.60 540.64 L327.60 539.91 L328.60 539.17 L329.60 538.42 L330.60 537.68 L331.60 536.93 L332.60 536.18 L333.60 535.43 L334.60 534.68 L335.60 533.92 L336.60 533.16 L337.60 532.40 L338.60 531.64 L339.60 530.87 L340.60 530.11 L341.60 529.34 L342.60 528.57 L343.60 527.80 L344.60 527.02 L345.60 526.25 L346.60 525.47 L347.60 524.69 L348.60 523.91 L349.60 523.13 L350.60 522.34 L351.60 521.56 L352.60 520.77 L353.60 519.98 L354.60 519.19 L355.60 518.40 L356.60 517.61 L357.60 516.81 L358.60 516.02 L359.60 515.22 L360.60 514.42 L361.60 513.62 L362.60 512.81 L363.60 512.01 L364.60 511.20 L365.60 510.39 L366.60 509.58 L367.60 508.77 L368.60 507.95 L369.60 507.13 L370.60 506.31 L371.60 505.49 L372.60 504.66 L373.60 503.83 L374.60 503.00 L375.60 502.17 L376.60 501.33 L377.60 500.49 L378.60 499.65 L379.60 498.81 L380.60 497.96 L381.60 497.11 L382.60 496.26 L383.60 495.41 L384.60 494.55 L385.60 493.69 L386.60 492.82 L387.60 491.95 L388.60 491.08 L389.60 490.21 L390.60 489.33 L391.60 488.45 L392.60 487.57 L393.60 486.68 L394.60 485.79 L395.60 484.90 L396.60 484.01 L397.60 483.11 L398.60 482.21 L399.60 481.30 L400.60 480.40 L401.60 479.49 L402.60 478.57 L403.60 477.66 L404.60 476.74 L405.60 475.82 L406.60 474.90 L407.60 473.97 L408.60 473.04 L409.60 472.11 L410.60 471.18 L411.60 470.24 L412.60 469.30 L413.60 468.36 L414.60 467.42 L415.60 466.48 L416.60 465.53 L417.60 464.58 L418.60 463.63 L419.60 462.68 L420.60 461.72 L421.60 460.77 L422.60 459.81 L423.60 458.85 L424.60 457.89 L425.60 456.92 L426.60 455.96 L427.60 454.99 L428.60 454.02 L429.60 453.05 L430.60 452.08 L431.60 451.11 L432.60 450.13 L433.60 449.16 L434.60 448.18 L435.60 447.20 L436.60 446.22 L437.60 445.24 L438.60 444.26 L439.60 443.27 L440.60 442.29 L441.60 441.30 L442.60 440.32 L443.60 439.33 L444.60 438.34 L445.60 437.35 L446.60 436.36 L447.60 435.37 L448.60 434.38 L449.60 433.39 L450.60 432.39 L451.60 431.40 L452.60 430.40 L453.60 429.41 L454.60 428.42 L455.60 427.42 L456.60 426.42 L457.60 425.43 L458.60 424.43 L459.60 423.43 L460.60 422.44 L461.60 421.44 L462.60 420.44 L463.60 419.45 L464.60 418.45 L465.60 417.45 L466.60 416.46 L467.60 415.46 L468.60 414.46 L469.60 413.46 L470.60 412.47 L471.60 411.47 L472.60 410.48 L473.60 409.48 L474.60 408.49 L475.60 407.49 L476.60 406.50 L477.60 405.50 L478.60 404.51 L479.60 403.52 L480.60 402.53 L481.60 401.54" fill="none" stroke="#000000" stroke-width="2.5" stroke-linejoin="round"/>
<text transform="translate(0.5 363) scale(1.07 1)" font-family='"Liberation Serif", serif' font-size="21" stroke="#000" stroke-width="0.2">c)</text>
<path d="M593.5 361.6 V653.9 H1010.5" fill="none" stroke="#000" stroke-width="1.45"/>
<path d="M593.5 635.50 h11 M593.5 617.50 h11 M593.5 599.50 h11 M593.5 580.50 h22 M593.5 562.50 h11 M593.5 544.50 h11 M593.5 526.50 h11 M593.5 507.50 h22 M593.5 489.50 h11 M593.5 471.50 h11 M593.5 452.50 h11 M593.5 434.50 h22 M593.5 416.50 h11 M593.5 398.50 h11 M593.5 379.50 h11 M593.5 361.50 h22 M607.50 653.9 v-7.8 M621.50 653.9 v-15 M635.50 653.9 v-7.8 M649.50 653.9 v-7.8 M662.50 653.9 v-7.8 M676.50 653.9 v-15 M690.50 653.9 v-7.8 M704.50 653.9 v-7.8 M718.50 653.9 v-7.8 M732.50 653.9 v-15 M746.50 653.9 v-7.8 M760.50 653.9 v-7.8 M774.50 653.9 v-7.8 M788.50 653.9 v-15 M802.50 653.9 v-7.8 M815.50 653.9 v-7.8 M829.50 653.9 v-7.8 M843.50 653.9 v-15 M857.50 653.9 v-7.8 M871.50 653.9 v-7.8 M885.50 653.9 v-7.8 M899.50 653.9 v-15 M913.50 653.9 v-7.8 M927.50 653.9 v-7.8 M940.50 653.9 v-7.8 M954.50 653.9 v-15 M968.50 653.9 v-7.8 M982.50 653.9 v-7.8 M996.50 653.9 v-7.8 M1010.50 653.9 v-15" stroke="#000" stroke-width="1.2" fill="none"/>
<text transform="translate(585.6 368.38) scale(1.0 1)" text-anchor="end" font-size="15.6">120</text>
<text transform="translate(585.6 441.46) scale(1.0 1)" text-anchor="end" font-size="15.6">100</text>
<text transform="translate(585.6 514.54) scale(1.0 1)" text-anchor="end" font-size="15.6">80</text>
<text transform="translate(585.6 587.62) scale(1.0 1)" text-anchor="end" font-size="15.6">60</text>
<text transform="translate(585.6 660.70) scale(1.0 1)" text-anchor="end" font-size="15.6">40</text>
<text transform="translate(621.30 670.58) scale(1.0 1)" text-anchor="middle" font-size="15.6">20</text>
<text transform="translate(676.90 670.58) scale(1.0 1)" text-anchor="middle" font-size="15.6">40</text>
<text transform="translate(732.50 670.58) scale(1.0 1)" text-anchor="middle" font-size="15.6">60</text>
<text transform="translate(788.10 670.58) scale(1.0 1)" text-anchor="middle" font-size="15.6">80</text>
<text transform="translate(843.70 670.58) scale(1.0 1)" text-anchor="middle" font-size="15.6">100</text>
<text transform="translate(899.30 670.58) scale(1.0 1)" text-anchor="middle" font-size="15.6">120</text>
<text transform="translate(954.90 670.58) scale(1.0 1)" text-anchor="middle" font-size="15.6">140</text>
<text transform="translate(1010.50 670.58) scale(1.0 1)" text-anchor="middle" font-size="15.6">160</text>
<text transform="translate(658.5 689.1) scale(1.0 1)" font-size="15.9" letter-spacing="0.1">Average aboveground biomass (Mg ha<tspan font-size="5.5" dy="-8.2" dx="0.2">-1</tspan><tspan dy="8.2" dx="0.3">)</tspan></text>
<text transform="translate(546.8 607.7) rotate(-90)" font-size="15.8" letter-spacing="0">Relative prediction RMSE (%)</text>
<path d="M886.4 383.30 H931.8" stroke="#000000" stroke-width="2.5"/>
<text transform="translate(941.3 389.53) scale(1.02 1)" font-size="17.4" word-spacing="-0.3">50 m</text>
<path d="M886.4 403.50 H931.8" stroke="#ff0000" stroke-width="2.3" stroke-dasharray="10 4.3 2 4.3 2 4.3 2 4.3" stroke-dashoffset="20.6"/>
<text transform="translate(941.3 409.73) scale(1.02 1)" font-size="17.4" word-spacing="-0.3">100 m</text>
<path d="M886.4 423.70 H931.8" stroke="#00008b" stroke-width="2.3" stroke-dasharray="6.8 4.2 2 4.2" stroke-dashoffset="11"/>
<text transform="translate(941.3 429.93) scale(1.02 1)" font-size="17.4" word-spacing="-0.3">150 m</text>
<path d="M886.4 443.90 H931.8" stroke="#008000" stroke-width="2.3" stroke-dasharray="8.5 8.3" stroke-dashoffset="0"/>
<text transform="translate(941.3 450.13) scale(1.02 1)" font-size="17.4" word-spacing="-0.3">200 m</text>
<path d="M886.4 464.10 H931.8" stroke="#800080" stroke-width="2.3" stroke-dasharray="2.2 6.2" stroke-dashoffset="0"/>
<text transform="translate(941.3 470.33) scale(1.02 1)" font-size="17.4" word-spacing="-0.3">250 m</text>
<path d="M886.4 484.30 H931.8" stroke="#a01010" stroke-width="2.3" stroke-dasharray="10.3 6.5" stroke-dashoffset="0"/>
<text transform="translate(941.3 490.53) scale(1.02 1)" font-size="17.4" word-spacing="-0.3">500 m</text>
<path d="M645.30 424.90 L645.78 425.95 L646.44 427.45 L647.23 429.18 L648.07 430.90 L648.90 432.40 L649.75 433.82 L650.67 435.31 L651.60 436.65 L652.50 437.62 L653.30 438.00 L653.95 437.44 L654.48 436.10 L654.98 434.48 L655.56 433.11 L656.30 432.50 L657.25 432.77 L658.34 433.58 L659.51 434.75 L660.72 436.11 L661.90 437.50 L663.06 438.98 L664.24 440.67 L665.43 442.46 L666.62 444.24 L667.80 445.90 L668.92 447.35 L670.00 448.68 L671.10 450.00 L672.28 451.43 L673.60 453.10 L675.17 455.16 L676.93 457.54 L678.75 460.00 L680.49 462.30 L682.00 464.20 L683.20 465.59 L684.19 466.62 L685.08 467.47 L686.01 468.34 L687.10 469.40 L688.35 470.66 L689.69 471.99 L691.09 473.40 L692.57 474.87 L694.10 476.40 L695.72 478.07 L697.42 479.89 L699.18 481.73 L700.95 483.47 L702.70 485.00 L704.44 486.28 L706.18 487.41 L707.92 488.41 L709.66 489.32 L711.40 490.20 L713.18 491.01 L715.01 491.73 L716.81 492.39 L718.50 493.03 L720.00 493.70 L721.20 494.33 L722.16 494.89 L723.03 495.49 L723.99 496.19 L725.20 497.10 L726.74 498.33 L728.51 499.81 L730.38 501.39 L732.22 502.87 L733.90 504.10 L735.40 505.00 L736.82 505.70 L738.17 506.28 L739.49 506.85 L740.80 507.50 L742.09 508.27 L743.33 509.09 L744.56 509.91 L745.80 510.67 L747.10 511.30 L748.46 511.72 L749.85 511.96 L751.27 512.17 L752.70 512.47 L754.10 513.00 L755.49 513.87 L756.87 515.00 L758.24 516.20 L759.62 517.33 L761.00 518.20 L762.35 518.71 L763.67 518.96 L765.01 519.14 L766.40 519.39 L767.90 519.90 L769.58 520.74 L771.42 521.81 L773.29 522.97 L775.06 524.11 L776.60 525.10 L777.86 525.87 L778.93 526.50 L779.89 527.10 L780.82 527.77 L781.80 528.60 L782.84 529.62 L783.88 530.77 L784.92 532.01 L785.96 533.30 L787.00 534.60 L788.01 535.97 L789.00 537.42 L790.00 538.89 L791.05 540.30 L792.20 541.60 L793.47 542.76 L794.84 543.83 L796.26 544.84 L797.69 545.80 L799.10 546.75 L800.45 547.67 L801.77 548.55 L803.11 549.40 L804.50 550.25 L806.00 551.10 L807.65 551.96 L809.44 552.82 L811.26 553.68 L813.05 554.54 L814.70 555.40 L816.20 556.25 L817.59 557.08 L818.93 557.92 L820.25 558.78 L821.60 559.70 L822.95 560.68 L824.27 561.72 L825.61 562.78 L827.00 563.85 L828.50 564.90 L830.15 565.97 L831.94 567.06 L833.76 568.14 L835.55 569.17 L837.20 570.10 L838.71 570.92 L840.14 571.65 L841.50 572.32 L842.81 572.96 L844.10 573.60 L845.33 574.19 L846.50 574.70 L847.64 575.22 L848.79 575.83 L850.00 576.60 L851.28 577.57 L852.59 578.68 L853.93 579.89 L855.27 581.14 L856.60 582.40 L857.93 583.71 L859.28 585.11 L860.62 586.52 L861.93 587.84 L863.20 589.00 L864.44 589.98 L865.65 590.85 L866.83 591.61 L867.96 592.29 L869.00 592.90 L869.85 593.35 L870.52 593.62 L871.18 593.86 L872.01 594.20 L873.20 594.80 L874.88 595.70 L876.95 596.80 L879.17 598.03 L881.32 599.32 L883.20 600.60 L884.71 601.94 L886.00 603.38 L887.20 604.82 L888.43 606.16 L889.80 607.30 L891.38 608.20 L893.08 608.94 L894.82 609.56 L896.52 610.10 L898.10 610.60 L899.53 611.02 L900.86 611.34 L902.13 611.61 L903.40 611.90 L904.70 612.25 L906.01 612.66 L907.30 613.09 L908.60 613.56 L909.96 614.09 L911.40 614.70 L912.96 615.44 L914.60 616.30 L916.30 617.20 L918.01 618.09 L919.70 618.90 L921.39 619.63 L923.10 620.32 L924.80 620.98 L926.45 621.61 L928.00 622.20 L929.40 622.80 L930.68 623.42 L931.92 623.98 L933.20 624.42 L934.60 624.70 L936.12 624.74 L937.72 624.58 L939.38 624.32 L941.10 624.06 L942.90 623.90 L944.82 623.80 L946.86 623.68 L948.94 623.62 L950.98 623.68 L952.90 623.90 L954.64 624.39 L956.27 625.10 L957.85 625.90 L959.46 626.65 L961.20 627.20 L963.08 627.56 L965.04 627.82 L967.06 627.97 L969.09 628.03 L971.10 628.00 L973.12 627.78 L975.17 627.38 L977.22 626.92 L979.21 626.55 L981.10 626.40 L982.87 626.53 L984.54 626.84 L986.16 627.26 L987.77 627.67 L989.40 628.00 L991.06 628.21 L992.72 628.38 L994.38 628.52 L996.04 628.69 L997.70 628.90 L999.44 629.19 L1001.26 629.53 L1003.04 629.88 L1004.66 630.22 L1006.00 630.50 L1007.03 630.72 L1007.84 630.92 L1008.46 631.08 L1008.93 631.20 L1009.30 631.30" fill="none" stroke="#a01010" stroke-width="2.3" stroke-dasharray="10.3 6.5" stroke-linejoin="round"/>
<path d="M636.30 419.03 L637.30 420.93 L638.30 422.83 L639.30 424.73 L640.30 426.63 L641.30 428.53 L642.30 430.42 L643.30 432.31 L644.30 434.19 L645.30 436.06 L646.30 437.93 L647.30 439.78 L648.30 441.62 L649.30 443.44 L650.30 445.25 L651.30 447.05 L652.30 448.82 L653.30 450.58 L654.30 452.31 L655.30 454.02 L656.30 455.71 L657.30 457.37 L658.30 459.01 L659.30 460.62 L660.30 462.20 L661.30 463.74 L662.30 465.26 L663.30 466.74 L664.30 468.19 L665.30 469.60 L666.30 470.97 L667.30 472.31 L668.30 473.62 L669.30 474.91 L670.30 476.17 L671.30 477.41 L672.30 478.63 L673.30 479.83 L674.30 481.03 L675.30 482.21 L676.30 483.38 L677.30 484.54 L678.30 485.71 L679.30 486.87 L680.30 488.04 L681.30 489.21 L682.30 490.39 L683.30 491.58 L684.30 492.77 L685.30 493.96 L686.30 495.15 L687.30 496.32 L688.30 497.47 L689.30 498.61 L690.30 499.71 L691.30 500.78 L692.30 501.82 L693.30 502.82 L694.30 503.77 L695.30 504.70 L696.30 505.59 L697.30 506.46 L698.30 507.31 L699.30 508.14 L700.30 508.96 L701.30 509.77 L702.30 510.57 L703.30 511.38 L704.30 512.19 L705.30 513.02 L706.30 513.85 L707.30 514.70 L708.30 515.56 L709.30 516.43 L710.30 517.32 L711.30 518.21 L712.30 519.11 L713.30 520.02 L714.30 520.93 L715.30 521.85 L716.30 522.77 L717.30 523.70 L718.30 524.62 L719.30 525.55 L720.30 526.47 L721.30 527.40 L722.30 528.32 L723.30 529.23 L724.30 530.14 L725.30 531.04 L726.30 531.93 L727.30 532.82 L728.30 533.70 L729.30 534.57 L730.30 535.43 L731.30 536.28 L732.30 537.13 L733.30 537.96 L734.30 538.78 L735.30 539.60 L736.30 540.40 L737.30 541.19 L738.30 541.97 L739.30 542.74 L740.30 543.49 L741.30 544.24 L742.30 544.97 L743.30 545.69 L744.30 546.39 L745.30 547.08 L746.30 547.76 L747.30 548.43 L748.30 549.09 L749.30 549.73 L750.30 550.37 L751.30 551.00 L752.30 551.61 L753.30 552.22 L754.30 552.82 L755.30 553.42 L756.30 554.01 L757.30 554.59 L758.30 555.17 L759.30 555.74 L760.30 556.31 L761.30 556.88 L762.30 557.44 L763.30 558.01 L764.30 558.57 L765.30 559.13 L766.30 559.69 L767.30 560.25 L768.30 560.81 L769.30 561.37 L770.30 561.94 L771.30 562.51 L772.30 563.08 L773.30 563.66 L774.30 564.24 L775.30 564.83 L776.30 565.42 L777.30 566.02 L778.30 566.63 L779.30 567.25 L780.30 567.87 L781.30 568.50 L782.30 569.14 L783.30 569.79 L784.30 570.44 L785.30 571.09 L786.30 571.74 L787.30 572.40 L788.30 573.06 L789.30 573.71 L790.30 574.37 L791.30 575.02 L792.30 575.67 L793.30 576.32 L794.30 576.96 L795.30 577.60 L796.30 578.22 L797.30 578.84 L798.30 579.46 L799.30 580.06 L800.30 580.65 L801.30 581.23 L802.30 581.79 L803.30 582.35 L804.30 582.89 L805.30 583.43 L806.30 583.95 L807.30 584.46 L808.30 584.97 L809.30 585.46 L810.30 585.95 L811.30 586.43 L812.30 586.90 L813.30 587.36 L814.30 587.82 L815.30 588.27 L816.30 588.72 L817.30 589.16 L818.30 589.60 L819.30 590.03 L820.30 590.46 L821.30 590.88 L822.30 591.31 L823.30 591.73 L824.30 592.14 L825.30 592.56 L826.30 592.98 L827.30 593.39 L828.30 593.80 L829.30 594.21 L830.30 594.61 L831.30 595.01 L832.30 595.41 L833.30 595.81 L834.30 596.20 L835.30 596.59 L836.30 596.98 L837.30 597.37 L838.30 597.75 L839.30 598.12 L840.30 598.50 L841.30 598.87 L842.30 599.24 L843.30 599.60 L844.30 599.96 L845.30 600.31 L846.30 600.66 L847.30 601.00 L848.30 601.35 L849.30 601.68 L850.30 602.01 L851.30 602.34 L852.30 602.66 L853.30 602.98 L854.30 603.29 L855.30 603.60 L856.30 603.90 L857.30 604.19 L858.30 604.48 L859.30 604.77 L860.30 605.04 L861.30 605.32 L862.30 605.58 L863.30 605.84 L864.30 606.10 L865.30 606.35 L866.30 606.59 L867.30 606.83 L868.30 607.07 L869.30 607.30 L870.30 607.53 L871.30 607.76 L872.30 607.99 L873.30 608.21 L874.30 608.43 L875.30 608.65 L876.30 608.88 L877.30 609.10 L878.30 609.32 L879.30 609.54 L880.30 609.77 L881.30 609.99 L882.30 610.22 L883.30 610.46 L884.30 610.69 L885.30 610.93 L886.30 611.17 L887.30 611.42 L888.30 611.67 L889.30 611.92 L890.30 612.18 L891.30 612.44 L892.30 612.71 L893.30 612.98 L894.30 613.25 L895.30 613.52 L896.30 613.79 L897.30 614.07 L898.30 614.34 L899.30 614.62 L900.30 614.90 L901.30 615.17 L902.30 615.45 L903.30 615.73 L904.30 616.00 L905.30 616.28 L906.30 616.55 L907.30 616.82 L908.30 617.09 L909.30 617.36 L910.30 617.62 L911.30 617.88 L912.30 618.14 L913.30 618.40 L914.30 618.65 L915.30 618.89 L916.30 619.13 L917.30 619.37 L918.30 619.60 L919.30 619.82 L920.30 620.04 L921.30 620.25 L922.30 620.46 L923.30 620.66 L924.30 620.85 L925.30 621.03 L926.30 621.21 L927.30 621.37 L928.30 621.53 L929.30 621.68 L930.30 621.83 L931.30 621.96 L932.30 622.08 L933.30 622.20 L934.30 622.31 L935.30 622.41 L936.30 622.51 L937.30 622.60 L938.30 622.68 L939.30 622.75 L940.30 622.82 L941.30 622.88 L942.30 622.93 L943.30 622.98 L944.30 623.03 L945.30 623.06 L946.30 623.10 L947.30 623.12 L948.30 623.15 L949.30 623.16 L950.30 623.18 L951.30 623.19 L952.30 623.19 L953.30 623.19 L954.30 623.19 L955.30 623.18 L956.30 623.17 L957.30 623.16 L958.30 623.15 L959.30 623.13 L960.30 623.11 L961.30 623.09 L962.30 623.06 L963.30 623.03 L964.30 623.01 L965.30 622.98 L966.30 622.94 L967.30 622.91 L968.30 622.88 L969.30 622.84 L970.30 622.81 L971.30 622.78 L972.30 622.74 L973.30 622.71 L974.30 622.67 L975.30 622.64 L976.30 622.61 L977.30 622.57 L978.30 622.54 L979.30 622.51 L980.30 622.49 L981.30 622.46 L982.30 622.44 L983.30 622.41 L984.30 622.39 L985.30 622.38 L986.30 622.36 L987.30 622.35 L988.30 622.34 L989.30 622.34 L990.30 622.34 L991.30 622.34 L992.30 622.34 L993.30 622.35 L994.30 622.37 L995.30 622.39 L996.30 622.41 L997.30 622.44 L998.30 622.48 L999.30 622.52 L1000.30 622.56 L1001.30 622.61 L1002.30 622.67 L1003.30 622.73 L1004.30 622.80 L1005.30 622.88 L1006.30 622.96 L1007.30 623.05 L1008.30 623.15 L1009.30 623.25" fill="none" stroke="#800080" stroke-width="2.3" stroke-dasharray="2.2 6.2" stroke-linejoin="round"/>
<path d="M630.20 424.00 L631.20 426.32 L632.20 428.64 L633.20 430.95 L634.20 433.25 L635.20 435.54 L636.20 437.81 L637.20 440.06 L638.20 442.29 L639.20 444.50 L640.20 446.68 L641.20 448.84 L642.20 450.96 L643.20 453.05 L644.20 455.10 L645.20 457.11 L646.20 459.08 L647.20 461.01 L648.20 462.90 L649.20 464.75 L650.20 466.56 L651.20 468.33 L652.20 470.06 L653.20 471.75 L654.20 473.41 L655.20 475.04 L656.20 476.63 L657.20 478.19 L658.20 479.72 L659.20 481.21 L660.20 482.68 L661.20 484.12 L662.20 485.53 L663.20 486.91 L664.20 488.27 L665.20 489.60 L666.20 490.91 L667.20 492.20 L668.20 493.46 L669.20 494.71 L670.20 495.93 L671.20 497.13 L672.20 498.32 L673.20 499.48 L674.20 500.63 L675.20 501.77 L676.20 502.89 L677.20 504.00 L678.20 505.09 L679.20 506.18 L680.20 507.25 L681.20 508.32 L682.20 509.37 L683.20 510.42 L684.20 511.46 L685.20 512.49 L686.20 513.52 L687.20 514.54 L688.20 515.56 L689.20 516.57 L690.20 517.57 L691.20 518.57 L692.20 519.56 L693.20 520.55 L694.20 521.53 L695.20 522.50 L696.20 523.47 L697.20 524.43 L698.20 525.39 L699.20 526.34 L700.20 527.28 L701.20 528.22 L702.20 529.15 L703.20 530.08 L704.20 531.00 L705.20 531.92 L706.20 532.83 L707.20 533.73 L708.20 534.63 L709.20 535.53 L710.20 536.42 L711.20 537.30 L712.20 538.17 L713.20 539.05 L714.20 539.91 L715.20 540.77 L716.20 541.63 L717.20 542.48 L718.20 543.32 L719.20 544.16 L720.20 545.00 L721.20 545.83 L722.20 546.65 L723.20 547.47 L724.20 548.28 L725.20 549.09 L726.20 549.90 L727.20 550.70 L728.20 551.49 L729.20 552.28 L730.20 553.06 L731.20 553.84 L732.20 554.61 L733.20 555.38 L734.20 556.15 L735.20 556.91 L736.20 557.66 L737.20 558.41 L738.20 559.16 L739.20 559.90 L740.20 560.63 L741.20 561.36 L742.20 562.09 L743.20 562.81 L744.20 563.53 L745.20 564.24 L746.20 564.95 L747.20 565.66 L748.20 566.36 L749.20 567.05 L750.20 567.74 L751.20 568.43 L752.20 569.11 L753.20 569.79 L754.20 570.46 L755.20 571.13 L756.20 571.80 L757.20 572.46 L758.20 573.11 L759.20 573.77 L760.20 574.42 L761.20 575.06 L762.20 575.70 L763.20 576.34 L764.20 576.97 L765.20 577.60 L766.20 578.22 L767.20 578.85 L768.20 579.46 L769.20 580.08 L770.20 580.69 L771.20 581.29 L772.20 581.89 L773.20 582.49 L774.20 583.09 L775.20 583.68 L776.20 584.26 L777.20 584.85 L778.20 585.43 L779.20 586.00 L780.20 586.57 L781.20 587.14 L782.20 587.70 L783.20 588.26 L784.20 588.82 L785.20 589.37 L786.20 589.91 L787.20 590.45 L788.20 590.99 L789.20 591.52 L790.20 592.05 L791.20 592.58 L792.20 593.09 L793.20 593.61 L794.20 594.12 L795.20 594.62 L796.20 595.12 L797.20 595.62 L798.20 596.11 L799.20 596.59 L800.20 597.07 L801.20 597.55 L802.20 598.02 L803.20 598.48 L804.20 598.94 L805.20 599.39 L806.20 599.84 L807.20 600.28 L808.20 600.72 L809.20 601.15 L810.20 601.58 L811.20 602.00 L812.20 602.41 L813.20 602.82 L814.20 603.22 L815.20 603.62 L816.20 604.01 L817.20 604.40 L818.20 604.78 L819.20 605.15 L820.20 605.52 L821.20 605.88 L822.20 606.23 L823.20 606.58 L824.20 606.92 L825.20 607.26 L826.20 607.58 L827.20 607.91 L828.20 608.22 L829.20 608.53 L830.20 608.83 L831.20 609.13 L832.20 609.42 L833.20 609.70 L834.20 609.97 L835.20 610.24 L836.20 610.50 L837.20 610.76 L838.20 611.01 L839.20 611.26 L840.20 611.50 L841.20 611.73 L842.20 611.97 L843.20 612.19 L844.20 612.42 L845.20 612.64 L846.20 612.86 L847.20 613.08 L848.20 613.30 L849.20 613.51 L850.20 613.73 L851.20 613.94 L852.20 614.16 L853.20 614.37 L854.20 614.59 L855.20 614.80 L856.20 615.02 L857.20 615.24 L858.20 615.45 L859.20 615.67 L860.20 615.89 L861.20 616.10 L862.20 616.32 L863.20 616.53 L864.20 616.75 L865.20 616.96 L866.20 617.17 L867.20 617.38 L868.20 617.59 L869.20 617.80 L870.20 618.01 L871.20 618.21 L872.20 618.41 L873.20 618.61 L874.20 618.81 L875.20 619.00 L876.20 619.19 L877.20 619.38 L878.20 619.56 L879.20 619.75 L880.20 619.92 L881.20 620.10 L882.20 620.27 L883.20 620.43 L884.20 620.60 L885.20 620.75 L886.20 620.91 L887.20 621.05 L888.20 621.20 L889.20 621.34 L890.20 621.47 L891.20 621.60 L892.20 621.73 L893.20 621.85 L894.20 621.96 L895.20 622.07 L896.20 622.18 L897.20 622.28 L898.20 622.38 L899.20 622.48 L900.20 622.57 L901.20 622.66 L902.20 622.74 L903.20 622.82 L904.20 622.89 L905.20 622.96 L906.20 623.03 L907.20 623.10 L908.20 623.16 L909.20 623.21 L910.20 623.27 L911.20 623.32 L912.20 623.36 L913.20 623.41 L914.20 623.45 L915.20 623.48 L916.20 623.52 L917.20 623.55 L918.20 623.57 L919.20 623.60 L920.20 623.62 L921.20 623.64 L922.20 623.65 L923.20 623.67 L924.20 623.68 L925.20 623.68 L926.20 623.69 L927.20 623.69 L928.20 623.69 L929.20 623.69 L930.20 623.68 L931.20 623.67 L932.20 623.66 L933.20 623.65 L934.20 623.64 L935.20 623.62 L936.20 623.60 L937.20 623.58 L938.20 623.56 L939.20 623.54 L940.20 623.51 L941.20 623.48 L942.20 623.45 L943.20 623.42 L944.20 623.39 L945.20 623.36 L946.20 623.32 L947.20 623.28 L948.20 623.25 L949.20 623.21 L950.20 623.16 L951.20 623.12 L952.20 623.08 L953.20 623.03 L954.20 622.99 L955.20 622.94 L956.20 622.90 L957.20 622.85 L958.20 622.80 L959.20 622.75 L960.20 622.70 L961.20 622.65 L962.20 622.59 L963.20 622.54 L964.20 622.49 L965.20 622.44 L966.20 622.38 L967.20 622.33 L968.20 622.27 L969.20 622.22 L970.20 622.17 L971.20 622.11 L972.20 622.06 L973.20 622.00 L974.20 621.95 L975.20 621.89 L976.20 621.84 L977.20 621.79 L978.20 621.73 L979.20 621.68 L980.20 621.63 L981.20 621.57 L982.20 621.52 L983.20 621.47 L984.20 621.42 L985.20 621.37 L986.20 621.32 L987.20 621.27 L988.20 621.23 L989.20 621.18 L990.20 621.13 L991.20 621.09 L992.20 621.05 L993.20 621.00 L994.20 620.96 L995.20 620.92 L996.20 620.89 L997.20 620.85 L998.20 620.81 L999.20 620.78 L1000.20 620.75 L1001.20 620.72 L1002.20 620.69 L1003.20 620.66 L1004.20 620.63 L1005.20 620.61 L1006.00 620.59" fill="none" stroke="#008000" stroke-width="2.3" stroke-dasharray="8.5 8.3" stroke-linejoin="round"/>
<path d="M624.80 415.73 L625.80 419.23 L626.80 422.48 L627.80 425.57 L628.80 428.58 L629.80 431.60 L630.80 434.69 L631.80 437.78 L632.80 440.78 L633.80 443.62 L634.80 446.33 L635.80 448.93 L636.80 451.41 L637.80 453.81 L638.80 456.13 L639.80 458.39 L640.80 460.60 L641.80 462.78 L642.80 464.92 L643.80 467.03 L644.80 469.11 L645.80 471.15 L646.80 473.15 L647.80 475.13 L648.80 477.08 L649.80 478.99 L650.80 480.87 L651.80 482.73 L652.80 484.55 L653.80 486.35 L654.80 488.12 L655.80 489.86 L656.80 491.58 L657.80 493.27 L658.80 494.94 L659.80 496.58 L660.80 498.20 L661.80 499.79 L662.80 501.36 L663.80 502.92 L664.80 504.45 L665.80 505.96 L666.80 507.44 L667.80 508.92 L668.80 510.37 L669.80 511.80 L670.80 513.22 L671.80 514.62 L672.80 516.00 L673.80 517.37 L674.80 518.73 L675.80 520.07 L676.80 521.39 L677.80 522.71 L678.80 524.01 L679.80 525.30 L680.80 526.58 L681.80 527.85 L682.80 529.11 L683.80 530.36 L684.80 531.60 L685.80 532.83 L686.80 534.06 L687.80 535.27 L688.80 536.47 L689.80 537.66 L690.80 538.85 L691.80 540.02 L692.80 541.18 L693.80 542.34 L694.80 543.48 L695.80 544.61 L696.80 545.74 L697.80 546.85 L698.80 547.95 L699.80 549.04 L700.80 550.12 L701.80 551.20 L702.80 552.26 L703.80 553.31 L704.80 554.35 L705.80 555.37 L706.80 556.39 L707.80 557.40 L708.80 558.39 L709.80 559.38 L710.80 560.35 L711.80 561.32 L712.80 562.27 L713.80 563.21 L714.80 564.14 L715.80 565.06 L716.80 565.96 L717.80 566.86 L718.80 567.74 L719.80 568.62 L720.80 569.48 L721.80 570.33 L722.80 571.16 L723.80 571.99 L724.80 572.80 L725.80 573.60 L726.80 574.39 L727.80 575.17 L728.80 575.94 L729.80 576.70 L730.80 577.44 L731.80 578.18 L732.80 578.90 L733.80 579.61 L734.80 580.32 L735.80 581.01 L736.80 581.69 L737.80 582.36 L738.80 583.03 L739.80 583.68 L740.80 584.33 L741.80 584.96 L742.80 585.59 L743.80 586.21 L744.80 586.82 L745.80 587.42 L746.80 588.01 L747.80 588.59 L748.80 589.17 L749.80 589.74 L750.80 590.30 L751.80 590.85 L752.80 591.40 L753.80 591.94 L754.80 592.47 L755.80 593.00 L756.80 593.52 L757.80 594.03 L758.80 594.54 L759.80 595.04 L760.80 595.54 L761.80 596.02 L762.80 596.51 L763.80 596.99 L764.80 597.46 L765.80 597.92 L766.80 598.38 L767.80 598.84 L768.80 599.29 L769.80 599.73 L770.80 600.17 L771.80 600.60 L772.80 601.03 L773.80 601.45 L774.80 601.86 L775.80 602.27 L776.80 602.68 L777.80 603.08 L778.80 603.47 L779.80 603.86 L780.80 604.24 L781.80 604.62 L782.80 605.00 L783.80 605.36 L784.80 605.73 L785.80 606.08 L786.80 606.44 L787.80 606.78 L788.80 607.13 L789.80 607.46 L790.80 607.80 L791.80 608.12 L792.80 608.45 L793.80 608.76 L794.80 609.08 L795.80 609.39 L796.80 609.69 L797.80 609.99 L798.80 610.28 L799.80 610.57 L800.80 610.86 L801.80 611.14 L802.80 611.41 L803.80 611.68 L804.80 611.95 L805.80 612.21 L806.80 612.47 L807.80 612.72 L808.80 612.97 L809.80 613.22 L810.80 613.46 L811.80 613.69 L812.80 613.92 L813.80 614.15 L814.80 614.37 L815.80 614.59 L816.80 614.81 L817.80 615.02 L818.80 615.23 L819.80 615.43 L820.80 615.63 L821.80 615.82 L822.80 616.01 L823.80 616.20 L824.80 616.38 L825.80 616.56 L826.80 616.74 L827.80 616.91 L828.80 617.08 L829.80 617.24 L830.80 617.40 L831.80 617.56 L832.80 617.71 L833.80 617.86 L834.80 618.01 L835.80 618.15 L836.80 618.29 L837.80 618.43 L838.80 618.56 L839.80 618.69 L840.80 618.81 L841.80 618.94 L842.80 619.06 L843.80 619.17 L844.80 619.29 L845.80 619.39 L846.80 619.50 L847.80 619.60 L848.80 619.70 L849.80 619.80 L850.80 619.90 L851.80 619.99 L852.80 620.07 L853.80 620.16 L854.80 620.24 L855.80 620.32 L856.80 620.40 L857.80 620.47 L858.80 620.54 L859.80 620.61 L860.80 620.68 L861.80 620.74 L862.80 620.80 L863.80 620.86 L864.80 620.91 L865.80 620.96 L866.80 621.01 L867.80 621.06 L868.80 621.10 L869.80 621.14 L870.80 621.18 L871.80 621.22 L872.80 621.25 L873.80 621.28 L874.80 621.31 L875.80 621.34 L876.80 621.36 L877.80 621.38 L878.80 621.40 L879.80 621.42 L880.80 621.43 L881.80 621.45 L882.80 621.45 L883.80 621.46 L884.80 621.47 L885.80 621.47 L886.80 621.47 L887.80 621.47 L888.80 621.46 L889.80 621.46 L890.80 621.45 L891.80 621.44 L892.80 621.42 L893.80 621.41 L894.80 621.39 L895.80 621.37 L896.80 621.35 L897.80 621.33 L898.80 621.30 L899.80 621.27 L900.80 621.24 L901.80 621.21 L902.80 621.18 L903.80 621.14 L904.80 621.10 L905.80 621.06 L906.80 621.02 L907.80 620.98 L908.80 620.93 L909.80 620.89 L910.80 620.84 L911.80 620.79 L912.80 620.73 L913.80 620.68 L914.80 620.62 L915.80 620.57 L916.80 620.51 L917.80 620.45 L918.80 620.38 L919.80 620.32 L920.80 620.25 L921.80 620.18 L922.80 620.11 L923.80 620.04 L924.80 619.97 L925.80 619.89 L926.80 619.82 L927.80 619.74 L928.80 619.66 L929.80 619.58 L930.80 619.50 L931.80 619.42 L932.80 619.33 L933.80 619.24 L934.80 619.16 L935.80 619.07 L936.80 618.98 L937.80 618.89 L938.80 618.79 L939.80 618.70 L940.80 618.60 L941.80 618.51 L942.80 618.41 L943.80 618.31 L944.80 618.21 L945.80 618.10 L946.80 618.00 L947.80 617.90 L948.80 617.79 L949.80 617.69 L950.80 617.58 L951.80 617.47 L952.80 617.36 L953.80 617.25 L954.80 617.14 L955.80 617.02 L956.80 616.91 L957.80 616.79 L958.80 616.68 L959.80 616.56 L960.80 616.44 L961.80 616.32 L962.80 616.20 L963.80 616.08 L964.80 615.96 L965.80 615.84 L966.80 615.72 L967.80 615.59 L968.80 615.47 L969.80 615.34 L970.80 615.22 L971.80 615.09 L972.80 614.96 L973.80 614.83 L974.80 614.71 L975.80 614.58 L976.80 614.45 L977.80 614.31 L978.80 614.18 L979.80 614.05 L980.80 613.92 L981.80 613.79 L982.80 613.65 L983.80 613.52 L984.80 613.38 L985.80 613.25 L986.80 613.11 L987.80 612.98 L988.80 612.84 L989.80 612.70 L990.80 612.57 L991.80 612.43 L992.80 612.29 L993.80 612.15 L994.80 612.01 L995.80 611.87 L996.80 611.73 L997.80 611.60 L998.80 611.46 L999.80 611.32 L1000.80 611.18 L1001.80 611.04 L1002.80 610.89 L1003.80 610.75 L1004.80 610.61 L1005.80 610.47 L1006.80 610.33 L1007.80 610.19 L1008.80 610.05 L1009.30 609.98" fill="none" stroke="#00008b" stroke-width="2.3" stroke-dasharray="6.8 4.2 2 4.2" stroke-linejoin="round"/>
<path d="M620.80 414.33 L621.80 419.57 L622.80 422.99 L623.80 425.65 L624.80 428.62 L625.80 432.23 L626.80 435.89 L627.80 439.35 L628.80 442.64 L629.80 445.81 L630.80 448.90 L631.80 451.94 L632.80 454.91 L633.80 457.81 L634.80 460.62 L635.80 463.34 L636.80 465.96 L637.80 468.49 L638.80 470.93 L639.80 473.30 L640.80 475.58 L641.80 477.80 L642.80 479.95 L643.80 482.04 L644.80 484.07 L645.80 486.06 L646.80 487.99 L647.80 489.89 L648.80 491.75 L649.80 493.57 L650.80 495.37 L651.80 497.15 L652.80 498.92 L653.80 500.67 L654.80 502.41 L655.80 504.16 L656.80 505.90 L657.80 507.66 L658.80 509.42 L659.80 511.20 L660.80 512.97 L661.80 514.75 L662.80 516.52 L663.80 518.27 L664.80 520.01 L665.80 521.73 L666.80 523.42 L667.80 525.07 L668.80 526.70 L669.80 528.28 L670.80 529.81 L671.80 531.30 L672.80 532.73 L673.80 534.10 L674.80 535.40 L675.80 536.64 L676.80 537.81 L677.80 538.93 L678.80 540.01 L679.80 541.05 L680.80 542.08 L681.80 543.09 L682.80 544.11 L683.80 545.14 L684.80 546.18 L685.80 547.26 L686.80 548.39 L687.80 549.56 L688.80 550.80 L689.80 552.11 L690.80 553.50 L691.80 554.96 L692.80 556.43 L693.80 557.90 L694.80 559.33 L695.80 560.68 L696.80 561.92 L697.80 563.01 L698.80 563.93 L699.80 564.66 L700.80 565.27 L701.80 565.81 L702.80 566.37 L703.80 567.01 L704.80 567.74 L705.80 568.54 L706.80 569.40 L707.80 570.29 L708.80 571.22 L709.80 572.14 L710.80 573.07 L711.80 573.97 L712.80 574.87 L713.80 575.75 L714.80 576.62 L715.80 577.48 L716.80 578.32 L717.80 579.15 L718.80 579.97 L719.80 580.78 L720.80 581.58 L721.80 582.36 L722.80 583.13 L723.80 583.89 L724.80 584.64 L725.80 585.38 L726.80 586.11 L727.80 586.83 L728.80 587.54 L729.80 588.23 L730.80 588.92 L731.80 589.59 L732.80 590.26 L733.80 590.92 L734.80 591.56 L735.80 592.20 L736.80 592.83 L737.80 593.45 L738.80 594.06 L739.80 594.66 L740.80 595.25 L741.80 595.84 L742.80 596.41 L743.80 596.98 L744.80 597.54 L745.80 598.09 L746.80 598.63 L747.80 599.17 L748.80 599.70 L749.80 600.22 L750.80 600.74 L751.80 601.24 L752.80 601.74 L753.80 602.23 L754.80 602.72 L755.80 603.19 L756.80 603.66 L757.80 604.12 L758.80 604.58 L759.80 605.03 L760.80 605.47 L761.80 605.90 L762.80 606.33 L763.80 606.75 L764.80 607.16 L765.80 607.56 L766.80 607.96 L767.80 608.35 L768.80 608.74 L769.80 609.11 L770.80 609.48 L771.80 609.85 L772.80 610.20 L773.80 610.55 L774.80 610.90 L775.80 611.23 L776.80 611.56 L777.80 611.88 L778.80 612.20 L779.80 612.51 L780.80 612.81 L781.80 613.11 L782.80 613.40 L783.80 613.68 L784.80 613.96 L785.80 614.23 L786.80 614.49 L787.80 614.75 L788.80 615.00 L789.80 615.25 L790.80 615.48 L791.80 615.72 L792.80 615.94 L793.80 616.16 L794.80 616.38 L795.80 616.58 L796.80 616.79 L797.80 616.98 L798.80 617.17 L799.80 617.36 L800.80 617.54 L801.80 617.71 L802.80 617.88 L803.80 618.04 L804.80 618.20 L805.80 618.35 L806.80 618.49 L807.80 618.63 L808.80 618.77 L809.80 618.90 L810.80 619.02 L811.80 619.14 L812.80 619.26 L813.80 619.37 L814.80 619.47 L815.80 619.57 L816.80 619.66 L817.80 619.75 L818.80 619.84 L819.80 619.92 L820.80 619.99 L821.80 620.07 L822.80 620.13 L823.80 620.19 L824.80 620.25 L825.80 620.30 L826.80 620.35 L827.80 620.40 L828.80 620.44 L829.80 620.47 L830.80 620.51 L831.80 620.53 L832.80 620.56 L833.80 620.58 L834.80 620.59 L835.80 620.61 L836.80 620.61 L837.80 620.62 L838.80 620.62 L839.80 620.62 L840.80 620.61 L841.80 620.60 L842.80 620.59 L843.80 620.57 L844.80 620.55 L845.80 620.53 L846.80 620.50 L847.80 620.47 L848.80 620.43 L849.80 620.40 L850.80 620.36 L851.80 620.31 L852.80 620.27 L853.80 620.22 L854.80 620.16 L855.80 620.11 L856.80 620.05 L857.80 619.99 L858.80 619.92 L859.80 619.85 L860.80 619.78 L861.80 619.71 L862.80 619.63 L863.80 619.55 L864.80 619.47 L865.80 619.39 L866.80 619.30 L867.80 619.21 L868.80 619.12 L869.80 619.02 L870.80 618.92 L871.80 618.82 L872.80 618.72 L873.80 618.61 L874.80 618.51 L875.80 618.40 L876.80 618.28 L877.80 618.17 L878.80 618.05 L879.80 617.93 L880.80 617.81 L881.80 617.68 L882.80 617.56 L883.80 617.43 L884.80 617.30 L885.80 617.16 L886.80 617.03 L887.80 616.89 L888.80 616.75 L889.80 616.61 L890.80 616.47 L891.80 616.32 L892.80 616.18 L893.80 616.03 L894.80 615.88 L895.80 615.73 L896.80 615.57 L897.80 615.42 L898.80 615.26 L899.80 615.10 L900.80 614.94 L901.80 614.78 L902.80 614.61 L903.80 614.45 L904.80 614.28 L905.80 614.11 L906.80 613.94 L907.80 613.77 L908.80 613.60 L909.80 613.43 L910.80 613.25 L911.80 613.08 L912.80 612.90 L913.80 612.72 L914.80 612.54 L915.80 612.36 L916.80 612.18 L917.80 611.99 L918.80 611.81 L919.80 611.62 L920.80 611.44 L921.80 611.25 L922.80 611.06 L923.80 610.87 L924.80 610.68 L925.80 610.49 L926.80 610.30 L927.80 610.11 L928.80 609.92 L929.80 609.72 L930.80 609.53 L931.80 609.34 L932.80 609.14 L933.80 608.94 L934.80 608.75 L935.80 608.55 L936.80 608.35 L937.80 608.16 L938.80 607.96 L939.80 607.76 L940.80 607.56 L941.80 607.36 L942.80 607.16 L943.80 606.96 L944.80 606.76 L945.80 606.56 L946.80 606.36 L947.80 606.16 L948.80 605.96 L949.80 605.76 L950.80 605.56 L951.80 605.36 L952.80 605.16 L953.80 604.96 L954.80 604.76 L955.80 604.56 L956.80 604.36 L957.80 604.16 L958.80 603.97 L959.80 603.77 L960.80 603.57 L961.80 603.37 L962.80 603.17 L963.80 602.98 L964.80 602.78 L965.80 602.58 L966.80 602.39 L967.80 602.19 L968.80 602.00 L969.80 601.80 L970.80 601.61 L971.80 601.42 L972.80 601.22 L973.80 601.03 L974.80 600.84 L975.80 600.65 L976.80 600.46 L977.80 600.28 L978.80 600.09 L979.80 599.90 L980.80 599.72 L981.80 599.53 L982.80 599.35 L983.80 599.17 L984.80 598.99 L985.80 598.81 L986.80 598.63 L987.80 598.45 L988.80 598.27 L989.80 598.10 L990.80 597.92 L991.80 597.75 L992.80 597.58 L993.80 597.41 L994.80 597.24 L995.80 597.08 L996.80 596.91 L997.80 596.75 L998.80 596.58 L999.80 596.42 L1000.80 596.26 L1001.80 596.11 L1002.80 595.95 L1003.80 595.80 L1004.80 595.65 L1005.80 595.49 L1006.80 595.35 L1007.80 595.20 L1008.80 595.05 L1009.30 594.98" fill="none" stroke="#ff0000" stroke-width="2.3" stroke-dasharray="10 4.3 2 4.3 2 4.3 2 4.3" stroke-linejoin="round"/>
<path d="M618.00 362.79 L619.00 366.79 L620.00 370.75 L621.00 374.66 L622.00 378.53 L623.00 382.36 L624.00 386.15 L625.00 389.89 L626.00 393.59 L627.00 397.25 L628.00 400.86 L629.00 404.43 L630.00 407.95 L631.00 411.42 L632.00 414.85 L633.00 418.24 L634.00 421.57 L635.00 424.86 L636.00 428.10 L637.00 431.29 L638.00 434.44 L639.00 437.53 L640.00 440.57 L641.00 443.57 L642.00 446.51 L643.00 449.40 L644.00 452.25 L645.00 455.04 L646.00 457.79 L647.00 460.48 L648.00 463.13 L649.00 465.72 L650.00 468.27 L651.00 470.77 L652.00 473.22 L653.00 475.62 L654.00 477.97 L655.00 480.27 L656.00 482.53 L657.00 484.73 L658.00 486.89 L659.00 489.01 L660.00 491.08 L661.00 493.12 L662.00 495.11 L663.00 497.08 L664.00 499.00 L665.00 500.90 L666.00 502.77 L667.00 504.62 L668.00 506.43 L669.00 508.23 L670.00 510.01 L671.00 511.77 L672.00 513.51 L673.00 515.25 L674.00 516.97 L675.00 518.68 L676.00 520.38 L677.00 522.07 L678.00 523.75 L679.00 525.42 L680.00 527.07 L681.00 528.72 L682.00 530.35 L683.00 531.97 L684.00 533.58 L685.00 535.17 L686.00 536.75 L687.00 538.32 L688.00 539.87 L689.00 541.41 L690.00 542.94 L691.00 544.45 L692.00 545.94 L693.00 547.42 L694.00 548.89 L695.00 550.33 L696.00 551.77 L697.00 553.18 L698.00 554.58 L699.00 555.97 L700.00 557.33 L701.00 558.68 L702.00 560.01 L703.00 561.32 L704.00 562.61 L705.00 563.89 L706.00 565.15 L707.00 566.38 L708.00 567.60 L709.00 568.80 L710.00 569.98 L711.00 571.13 L712.00 572.27 L713.00 573.39 L714.00 574.48 L715.00 575.55 L716.00 576.61 L717.00 577.64 L718.00 578.64 L719.00 579.63 L720.00 580.60 L721.00 581.54 L722.00 582.47 L723.00 583.37 L724.00 584.25 L725.00 585.12 L726.00 585.96 L727.00 586.79 L728.00 587.60 L729.00 588.39 L730.00 589.16 L731.00 589.92 L732.00 590.65 L733.00 591.37 L734.00 592.07 L735.00 592.76 L736.00 593.43 L737.00 594.08 L738.00 594.72 L739.00 595.35 L740.00 595.95 L741.00 596.55 L742.00 597.13 L743.00 597.69 L744.00 598.24 L745.00 598.78 L746.00 599.31 L747.00 599.82 L748.00 600.32 L749.00 600.81 L750.00 601.28 L751.00 601.75 L752.00 602.20 L753.00 602.64 L754.00 603.07 L755.00 603.49 L756.00 603.90 L757.00 604.30 L758.00 604.69 L759.00 605.08 L760.00 605.45 L761.00 605.81 L762.00 606.17 L763.00 606.52 L764.00 606.86 L765.00 607.19 L766.00 607.51 L767.00 607.82 L768.00 608.13 L769.00 608.42 L770.00 608.71 L771.00 609.00 L772.00 609.27 L773.00 609.53 L774.00 609.79 L775.00 610.04 L776.00 610.29 L777.00 610.52 L778.00 610.75 L779.00 610.97 L780.00 611.18 L781.00 611.39 L782.00 611.58 L783.00 611.78 L784.00 611.96 L785.00 612.14 L786.00 612.31 L787.00 612.47 L788.00 612.63 L789.00 612.78 L790.00 612.92 L791.00 613.06 L792.00 613.19 L793.00 613.31 L794.00 613.43 L795.00 613.54 L796.00 613.65 L797.00 613.74 L798.00 613.84 L799.00 613.92 L800.00 614.01 L801.00 614.08 L802.00 614.15 L803.00 614.21 L804.00 614.27 L805.00 614.33 L806.00 614.37 L807.00 614.41 L808.00 614.45 L809.00 614.48 L810.00 614.51 L811.00 614.53 L812.00 614.55 L813.00 614.56 L814.00 614.56 L815.00 614.56 L816.00 614.56 L817.00 614.55 L818.00 614.54 L819.00 614.52 L820.00 614.50 L821.00 614.47 L822.00 614.44 L823.00 614.41 L824.00 614.37 L825.00 614.33 L826.00 614.28 L827.00 614.23 L828.00 614.17 L829.00 614.11 L830.00 614.05 L831.00 613.99 L832.00 613.92 L833.00 613.84 L834.00 613.77 L835.00 613.69 L836.00 613.60 L837.00 613.52 L838.00 613.43 L839.00 613.33 L840.00 613.24 L841.00 613.14 L842.00 613.04 L843.00 612.93 L844.00 612.83 L845.00 612.72 L846.00 612.60 L847.00 612.49 L848.00 612.37 L849.00 612.25 L850.00 612.13 L851.00 612.00 L852.00 611.88 L853.00 611.75 L854.00 611.62 L855.00 611.49 L856.00 611.35 L857.00 611.22 L858.00 611.08 L859.00 610.94 L860.00 610.80 L861.00 610.65 L862.00 610.51 L863.00 610.36 L864.00 610.22 L865.00 610.07 L866.00 609.92 L867.00 609.77 L868.00 609.62 L869.00 609.47 L870.00 609.31 L871.00 609.16 L872.00 609.00 L873.00 608.84 L874.00 608.69 L875.00 608.53 L876.00 608.37 L877.00 608.21 L878.00 608.05 L879.00 607.88 L880.00 607.72 L881.00 607.55 L882.00 607.39 L883.00 607.22 L884.00 607.06 L885.00 606.89 L886.00 606.72 L887.00 606.55 L888.00 606.38 L889.00 606.20 L890.00 606.03 L891.00 605.86 L892.00 605.68 L893.00 605.51 L894.00 605.33 L895.00 605.15 L896.00 604.98 L897.00 604.80 L898.00 604.62 L899.00 604.44 L900.00 604.26 L901.00 604.08 L902.00 603.89 L903.00 603.71 L904.00 603.53 L905.00 603.34 L906.00 603.16 L907.00 602.97 L908.00 602.79 L909.00 602.60 L910.00 602.41 L911.00 602.22 L912.00 602.03 L913.00 601.84 L914.00 601.65 L915.00 601.46 L916.00 601.27 L917.00 601.08 L918.00 600.89 L919.00 600.70 L920.00 600.50 L921.00 600.31 L922.00 600.11 L923.00 599.92 L924.00 599.72 L925.00 599.53 L926.00 599.33 L927.00 599.13 L928.00 598.94 L929.00 598.74 L930.00 598.54 L931.00 598.34 L932.00 598.14 L933.00 597.94 L934.00 597.74 L935.00 597.54 L936.00 597.34 L937.00 597.14 L938.00 596.94 L939.00 596.74 L940.00 596.54 L941.00 596.34 L942.00 596.13 L943.00 595.93 L944.00 595.73 L945.00 595.52 L946.00 595.32 L947.00 595.12 L948.00 594.91 L949.00 594.71 L950.00 594.50 L951.00 594.30 L952.00 594.09 L953.00 593.89 L954.00 593.69 L955.00 593.48 L956.00 593.27 L957.00 593.07 L958.00 592.86 L959.00 592.66 L960.00 592.45 L961.00 592.25 L962.00 592.04 L963.00 591.83 L964.00 591.63 L965.00 591.42 L966.00 591.22 L967.00 591.01 L968.00 590.80 L969.00 590.60 L970.00 590.39 L971.00 590.19 L972.00 589.98 L973.00 589.77 L974.00 589.57 L975.00 589.36 L976.00 589.16 L977.00 588.95 L978.00 588.74 L979.00 588.54 L980.00 588.33 L981.00 588.13 L982.00 587.92 L983.00 587.72 L984.00 587.51 L985.00 587.31 L986.00 587.10 L987.00 586.90 L988.00 586.70 L989.00 586.49 L990.00 586.29 L991.00 586.09 L992.00 585.88 L993.00 585.68 L994.00 585.48 L995.00 585.27 L996.00 585.07 L997.00 584.87 L998.00 584.67 L999.00 584.47 L1000.00 584.27 L1001.00 584.07 L1002.00 583.87 L1003.00 583.67 L1004.00 583.47 L1005.00 583.27 L1006.00 583.07 L1007.00 582.87 L1008.00 582.68 L1009.00 582.48 L1009.30 582.42" fill="none" stroke="#000000" stroke-width="2.5" stroke-linejoin="round"/>
<text transform="translate(531.5 362.6) scale(1.07 1)" font-family='"Liberation Serif", serif' font-size="21" stroke="#000" stroke-width="0.2">d)</text>
</svg></body></html>
